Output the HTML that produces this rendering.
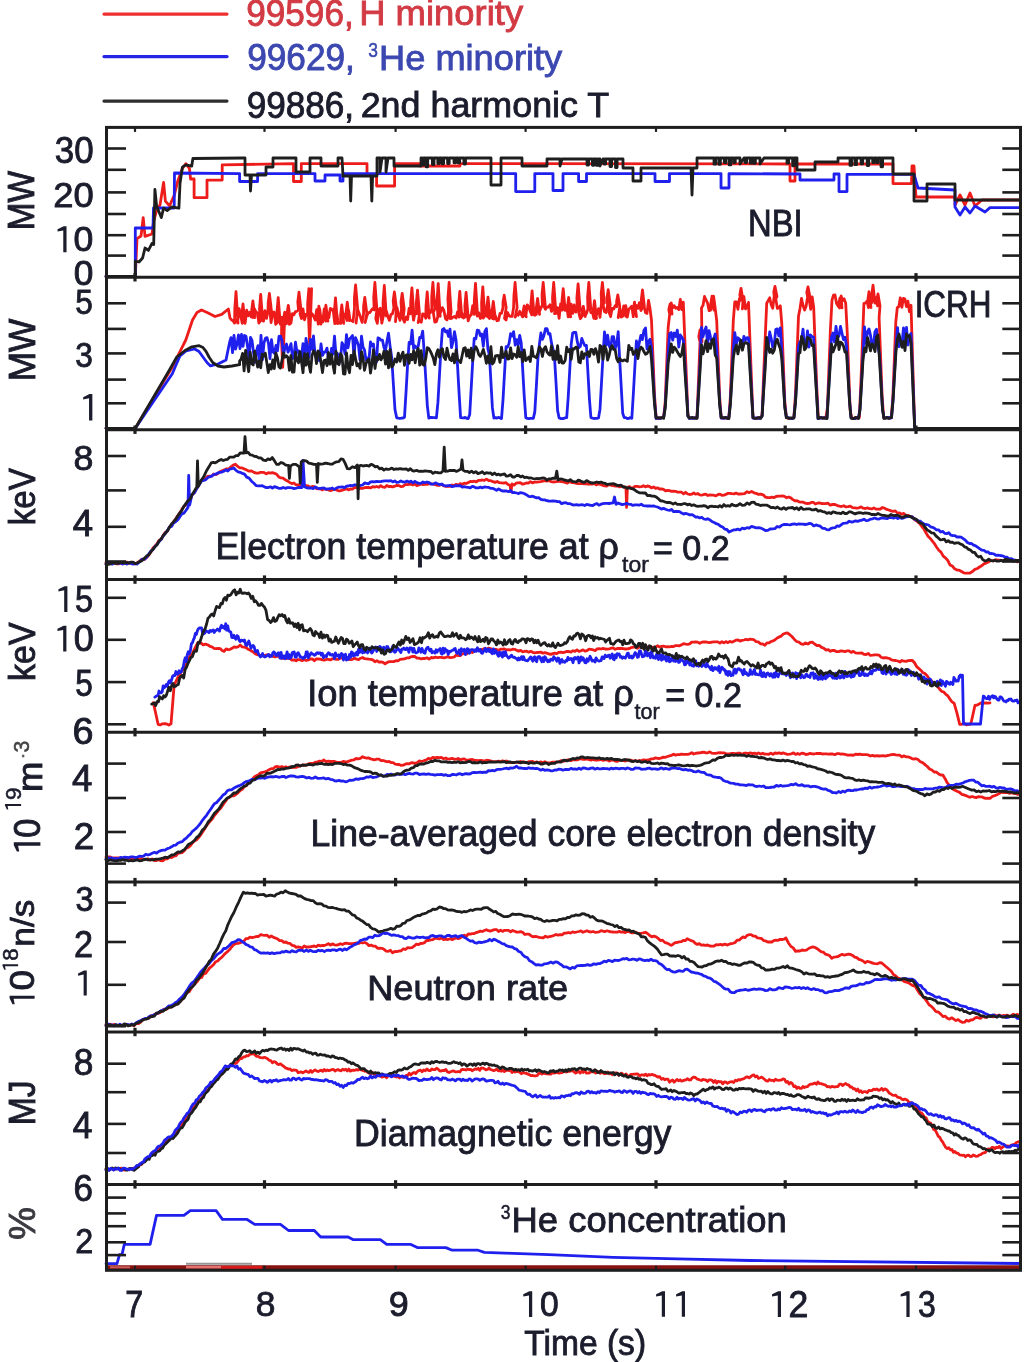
<!DOCTYPE html>
<html><head><meta charset="utf-8"><title>Plasma discharge comparison</title>
<style>
html,body{margin:0;padding:0;background:#fff;}
svg{display:block;filter:blur(0.65px);}
text{font-family:"Liberation Sans",sans-serif;}
</style></head><body>
<svg width="1025" height="1362" viewBox="0 0 1025 1362">
<rect width="1025" height="1362" fill="#fff"/>
<line x1="104" y1="14.1" x2="227" y2="14.1" stroke="#ee3030" stroke-width="3.2" stroke-linecap="round"/>
<line x1="104" y1="56.6" x2="227" y2="56.6" stroke="#2626e6" stroke-width="3.2" stroke-linecap="round"/>
<line x1="104" y1="101.1" x2="227" y2="101.1" stroke="#2e2e2e" stroke-width="3.2" stroke-linecap="round"/>
<text transform="translate(246.18,25.54) scale(0.9662,1)" font-size="36.40" fill="#d23a44" stroke="#d23a44" stroke-width="0.89">99596,</text>
<text transform="translate(359.14,25.35) scale(1.0183,1)" font-size="35.79" fill="#d23a44" stroke="#d23a44" stroke-width="0.87">H minority</text>
<text transform="translate(247.17,70.24) scale(0.9709,1)" font-size="36.27" fill="#3c48b0" stroke="#3c48b0" stroke-width="0.88">99629,</text>
<text transform="translate(368.37,57.14) scale(0.8367,1)" font-size="20.82" fill="#3c48b0" stroke="#3c48b0" stroke-width="0.51">3</text>
<text transform="translate(379.05,70.15) scale(1.0199,1)" font-size="35.51" fill="#3c48b0" stroke="#3c48b0" stroke-width="0.86">He minority</text>
<text transform="translate(246.68,117.74) scale(0.9653,1)" font-size="36.40" fill="#1b1c2c" stroke="#1b1c2c" stroke-width="0.89">99886,</text>
<text transform="translate(360.65,117.45) scale(1.0084,1)" font-size="35.58" fill="#1b1c2c" stroke="#1b1c2c" stroke-width="0.87">2nd harmonic T</text>
<polyline points="106.0,276.5 135.3,276.5 137.0,238.7 141.0,236.0 143.2,217.6 145.0,236.3 152.0,234.0 153.7,221.0 156.6,210.6 160.0,205.0 163.6,182.5 165.4,201.2 169.5,205.9 174.2,195.4 177.7,181.3 182.4,168.4 185.9,163.7 189.4,168.4 190.6,179.0 194.1,179.0 194.1,197.7 207.0,197.7 207.0,180.1 222.2,180.1 222.2,164.9 293.5,163.6 293.5,181.5 301.3,181.5 301.3,163.6 367.0,163.6 367.0,175.0 376.6,175.0 376.6,186.0 394.6,186.0 394.6,163.6 420.0,163.6 420.0,166.0 460.0,166.0 460.0,163.6 790.0,164.0 790.0,181.0 795.0,181.0 795.0,164.0 893.0,164.0 893.0,183.6 911.5,183.6 912.0,166.0 914.0,166.0 916.0,197.0 955.0,197.0 955.0,205.0 960.0,195.0 965.0,205.0 970.0,193.0 975.0,206.0 982.0,200.0 1019.0,200.0" fill="none" stroke="#ee1b1b" stroke-width="2.8" stroke-linejoin="round" stroke-linecap="round"/>
<polyline points="106.0,276.5 135.3,276.5 135.3,228.0 153.0,228.0 153.5,208.0 174.2,208.0 174.5,173.0 239.6,173.6 239.6,181.5 257.6,181.5 257.6,173.6 315.0,173.6 315.0,181.0 325.0,181.0 325.0,175.0 340.0,175.0 340.0,181.0 343.0,181.0 343.0,173.6 515.7,173.6 515.7,191.6 534.8,191.6 534.8,173.6 553.0,173.6 553.0,190.5 563.0,190.5 563.0,173.6 578.6,173.6 578.6,181.5 586.5,181.5 586.5,173.6 655.0,173.6 655.0,181.5 669.5,181.5 669.5,173.6 721.0,173.6 721.0,188.0 729.0,188.0 729.0,173.6 800.0,174.0 800.0,180.0 834.0,180.0 834.0,174.0 839.0,174.0 839.0,191.6 847.0,191.6 847.0,174.4 914.0,174.4 918.0,188.0 955.0,190.0 955.0,207.0 960.0,215.0 965.0,207.0 970.0,213.0 975.0,206.0 985.0,212.0 990.0,207.6 1019.0,207.6" fill="none" stroke="#2020ee" stroke-width="2.8" stroke-linejoin="round" stroke-linecap="round"/>
<polyline points="106.0,276.5 135.3,276.5 135.3,261.0 139.0,262.0 142.6,258.0 145.0,248.0 148.4,250.4 152.0,243.4 153.7,244.5 154.9,189.5 156.6,205.9 161.3,217.6 163.6,208.2 167.2,210.6 171.8,207.0 178.9,208.2 180.0,183.6 182.4,167.2 185.9,164.9 191.7,166.1 192.9,158.5 243.0,158.0 245.0,158.0 245.0,175.0 250.0,175.0 250.5,191.0 251.5,175.0 266.0,175.0 266.0,167.0 273.0,167.0 273.0,158.0 296.0,158.0 296.0,172.0 310.0,172.0 310.0,158.0 321.0,158.0 321.0,166.0 338.0,166.0 338.0,158.0 342.0,158.0 343.0,176.0 350.0,176.0 350.7,201.0 351.5,176.0 371.0,176.0 371.8,201.0 372.6,176.0 377.0,176.0 377.0,158.0 380.0,158.0 380.0,172.0 382.0,158.0 386.0,158.0 386.0,172.0 388.0,158.0 394.0,158.0 394.0,166.0 421.0,166.0 421.0,158.0 422.0,158.0 422.0,165.1 423.6,165.1 423.6,158.0 426.1,158.0 426.1,166.8 427.7,166.8 427.7,158.0 432.4,158.0 432.4,164.6 434.0,164.6 434.0,158.0 437.8,158.0 437.8,163.5 439.4,163.5 439.4,158.0 442.0,158.0 442.0,163.8 443.6,163.8 443.6,158.0 447.6,158.0 447.6,163.5 449.2,163.5 449.2,158.0 454.0,158.0 454.0,162.8 455.6,162.8 455.6,158.0 458.1,158.0 458.1,162.9 459.7,162.9 459.7,158.0 463.9,158.0 463.9,164.1 465.5,164.1 465.5,158.0 491.0,158.0 491.0,185.0 501.0,185.0 501.0,158.0 522.0,158.0 522.0,166.0 547.0,166.0 547.0,159.0 560.0,159.0 560.0,166.0 562.0,159.0 587.0,159.0 587.0,165.0 588.6,165.0 588.6,159.0 592.4,159.0 592.4,165.3 594.0,165.3 594.0,159.0 596.5,159.0 596.5,165.4 598.1,165.4 598.1,159.0 600.0,159.0 600.0,166.0 603.0,159.0 604.0,159.0 604.0,164.0 605.6,164.0 605.6,159.0 610.0,159.0 610.0,166.6 611.6,166.6 611.6,159.0 615.5,159.0 615.5,167.5 617.1,167.5 617.1,159.0 623.0,159.0 623.0,168.0 633.0,168.0 633.0,181.0 641.0,181.0 641.0,168.0 691.0,168.0 692.0,195.0 693.0,168.0 697.0,168.0 697.0,158.0 714.0,158.0 714.0,164.2 715.6,164.2 715.6,158.0 718.8,158.0 718.8,164.3 720.4,164.3 720.4,158.0 724.3,158.0 724.3,162.5 725.9,162.5 725.9,158.0 729.2,158.0 729.2,164.9 730.8,164.9 730.8,158.0 733.7,158.0 733.7,162.6 735.3,162.6 735.3,158.0 740.0,158.0 740.0,164.0 744.0,158.0 745.0,158.0 745.0,162.5 746.6,162.5 746.6,158.0 750.2,158.0 750.2,163.2 751.8,163.2 751.8,158.0 753.8,158.0 753.8,163.3 755.4,163.3 755.4,158.0 760.0,158.0 760.0,164.0 764.0,158.0 787.0,158.0 787.0,163.2 788.6,163.2 788.6,158.0 792.6,158.0 792.6,165.8 794.2,165.8 794.2,158.0 797.0,158.0 797.0,170.0 815.0,170.0 815.0,162.0 838.0,162.0 838.0,158.0 850.0,158.0 850.0,165.4 851.6,165.4 851.6,158.0 854.9,158.0 854.9,164.7 856.5,164.7 856.5,158.0 861.1,158.0 861.1,163.9 862.7,163.9 862.7,158.0 867.2,158.0 867.2,165.6 868.8,165.6 868.8,158.0 872.7,158.0 872.7,162.5 874.3,162.5 874.3,158.0 876.5,158.0 876.5,162.6 878.1,162.6 878.1,158.0 881.0,158.0 881.0,166.8 882.6,166.8 882.6,158.0 893.0,158.0 893.0,174.0 914.0,174.0 914.0,201.0 927.0,201.0 927.0,184.0 955.0,184.0 955.0,200.0 1019.0,200.0" fill="none" stroke="#1e1e1e" stroke-width="2.8" stroke-linejoin="round" stroke-linecap="round"/>
<polyline points="106.0,428.3 135.3,428.3 172.3,367.0 179.0,353.5 185.8,340.0 192.5,320.0 197.0,312.5 201.5,310.0 208.2,313.1 215.0,316.5 221.7,314.3 228.4,309.0 230.0,318.0 231.5,319.9 233.0,320.8 234.6,323.1 234.8,308.9 236.0,291.6 237.4,313.7 238.0,323.1 236.1,319.9 237.6,322.9 239.1,308.6 240.7,315.6 242.2,323.3 241.8,314.6 243.0,304.0 244.4,317.5 245.0,323.3 243.7,318.6 245.2,322.6 246.7,310.1 248.3,315.8 249.8,312.2 251.3,317.0 252.8,317.5 251.7,310.1 252.9,301.0 254.3,312.5 254.9,317.5 254.3,308.6 255.9,311.8 257.4,312.9 258.9,323.1 260.4,320.7 259.5,308.9 260.7,294.4 262.1,312.8 262.7,320.7 262.0,311.0 263.5,321.2 265.0,310.7 266.5,318.4 268.0,310.6 268.2,302.8 269.4,293.4 270.8,305.4 271.4,310.6 269.6,308.6 271.1,322.5 272.6,312.0 274.1,312.1 275.7,324.4 277.2,322.6 277.0,311.4 278.2,297.6 279.6,315.1 280.2,322.6 278.7,313.3 280.2,324.1 281.7,317.4 281.5,339.9 282.7,367.4 284.1,332.4 284.7,317.4 283.3,319.6 284.8,312.1 286.3,323.9 287.8,319.9 287.1,313.3 288.3,305.3 289.7,315.5 290.3,319.9 289.3,324.3 290.9,323.2 292.4,313.7 293.9,314.7 295.4,311.6 297.0,311.3 298.5,310.0 297.8,302.0 299.0,292.2 300.4,304.7 301.0,310.0 300.0,313.8 301.5,318.6 303.0,309.0 304.5,319.8 306.1,314.3 307.6,313.8 307.7,302.5 308.9,288.6 308.4,313.4 309.6,343.6 311.0,305.1 311.6,288.6 310.3,306.3 310.9,313.8 309.1,321.9 310.6,316.5 312.1,313.8 313.6,316.4 315.2,320.0 316.7,309.6 318.2,324.2 317.7,316.1 318.9,306.2 320.3,318.8 320.9,324.2 319.7,309.0 321.2,320.6 322.7,322.1 324.2,308.8 325.8,321.1 324.7,313.9 325.9,305.2 327.3,316.3 327.9,321.1 327.3,314.3 328.8,317.7 330.3,308.5 331.8,309.1 333.3,311.2 334.8,323.6 334.3,312.0 335.5,297.8 336.9,315.9 337.5,323.6 336.4,311.4 337.9,320.3 339.4,323.1 340.9,323.3 340.6,315.1 341.8,305.0 343.2,317.8 343.8,323.3 342.4,313.7 343.9,313.8 345.5,316.5 347.0,320.5 346.1,312.2 347.3,302.1 348.7,314.9 349.3,320.5 348.5,309.8 350.0,320.0 351.5,320.7 353.0,321.7 354.5,308.5 354.4,297.9 355.6,284.9 357.0,301.4 357.6,308.5 356.1,323.0 357.6,309.3 359.1,313.3 360.6,317.6 362.1,322.4 363.6,313.2 363.6,306.1 364.8,297.5 366.2,308.5 366.8,313.2 365.2,322.5 366.7,316.4 368.2,312.6 369.7,312.7 371.2,310.4 372.7,308.8 374.2,309.9 373.7,297.6 374.9,282.5 376.3,301.7 376.9,309.9 375.8,318.5 377.3,323.4 378.8,310.0 380.3,308.2 381.8,323.2 383.3,315.9 383.1,302.2 384.3,285.5 385.7,306.8 386.3,315.9 384.8,313.8 386.4,311.1 387.9,316.7 389.4,320.4 390.9,314.5 392.4,313.9 393.9,308.0 393.2,300.8 394.4,291.9 395.8,303.2 396.4,308.0 395.5,321.7 397.0,307.6 398.5,314.9 400.0,320.4 401.5,309.1 401.0,302.0 402.2,293.3 403.6,304.3 404.2,309.1 403.0,318.6 404.5,322.1 406.1,317.0 407.6,319.5 409.1,308.5 410.6,313.7 410.7,302.1 411.9,287.9 413.3,306.0 413.9,313.7 412.1,309.1 413.6,320.2 415.2,311.4 416.7,313.9 416.3,303.2 417.5,290.1 418.9,306.8 419.5,313.9 418.2,322.6 419.7,320.2 421.2,322.2 422.7,313.8 424.2,314.3 425.8,318.2 426.0,306.4 427.2,292.0 428.6,310.3 429.2,318.2 427.3,314.1 428.8,311.1 430.3,312.9 431.8,308.7 431.7,296.9 432.9,282.5 434.3,300.8 434.9,308.7 433.3,312.4 434.8,322.1 436.4,321.6 437.9,316.3 437.0,301.6 438.2,283.7 439.6,306.5 440.2,316.3 439.4,314.2 440.9,311.6 442.4,307.6 443.9,310.5 445.5,318.6 447.0,319.9 448.5,311.8 447.9,298.6 449.1,282.5 450.5,303.0 451.1,311.8 450.0,318.6 451.5,318.4 453.0,317.1 454.5,316.5 456.1,318.0 457.6,311.7 459.1,317.1 458.6,305.5 459.8,291.4 461.2,309.4 461.8,317.1 460.6,310.3 462.1,313.5 463.6,318.0 465.2,316.8 464.9,305.8 466.1,292.4 467.5,309.4 468.1,316.8 466.7,310.4 468.2,320.8 469.7,316.0 471.2,314.9 472.7,305.7 474.2,314.3 474.3,300.4 475.5,283.4 476.9,305.0 477.5,314.3 475.8,309.5 477.3,316.2 478.8,312.8 480.3,318.5 481.8,315.7 481.6,302.7 482.8,286.8 484.2,307.0 484.8,315.7 483.3,318.1 484.8,310.9 486.4,315.6 487.9,317.0 486.8,308.1 488.0,297.1 489.4,311.1 490.0,317.0 489.4,318.5 490.9,310.8 492.4,318.6 492.1,310.9 493.3,301.5 494.7,313.5 495.3,318.6 493.9,319.0 495.5,316.1 497.0,320.7 498.5,320.3 500.0,313.3 501.5,313.4 503.0,307.6 503.0,302.0 504.2,295.2 505.6,303.9 506.2,307.6 504.5,318.3 506.1,319.9 507.6,312.5 509.1,315.9 510.6,316.3 512.1,316.4 513.6,307.5 513.9,296.2 515.1,282.5 516.5,300.0 517.1,307.5 515.2,317.2 516.7,314.0 518.2,315.3 519.7,311.3 521.2,314.6 522.7,316.9 523.0,311.9 524.2,305.8 525.6,313.6 526.2,316.9 524.2,314.7 525.8,316.0 527.3,304.9 528.8,307.0 530.3,311.5 531.8,314.8 530.9,304.0 532.1,290.9 533.5,307.6 534.1,314.8 533.3,307.8 534.8,315.3 536.4,314.4 536.4,307.2 537.6,298.4 539.0,309.6 539.6,314.4 537.9,304.9 539.4,311.8 540.9,307.8 542.4,305.0 542.0,294.9 543.2,282.5 544.6,298.3 545.2,305.0 543.9,306.3 545.5,309.2 547.0,307.0 548.5,307.1 550.0,304.6 551.5,311.4 553.0,310.0 552.5,297.6 553.7,282.5 555.1,301.8 555.7,310.0 554.5,313.7 556.1,313.3 557.6,307.7 559.1,318.3 560.6,303.8 562.1,310.2 562.0,300.6 563.2,288.7 564.6,303.8 565.2,310.2 563.6,308.2 565.2,310.3 566.7,305.5 568.2,316.9 567.4,308.1 568.6,297.3 570.0,311.0 570.6,316.9 569.7,309.6 571.2,304.2 572.7,313.4 574.2,305.0 575.8,312.2 577.3,308.9 576.9,297.6 578.1,283.8 579.5,301.3 580.1,308.9 578.8,312.7 580.3,318.7 581.8,316.5 582.1,311.9 583.3,306.3 584.7,313.4 585.3,316.5 583.3,310.0 584.8,316.3 586.4,313.5 587.9,309.2 587.6,297.2 588.8,282.5 590.2,301.2 590.8,309.2 589.4,305.5 590.9,312.7 592.4,312.2 593.9,318.4 593.3,310.4 594.5,300.6 595.9,313.1 596.5,318.4 595.5,318.6 597.0,312.8 598.5,308.6 600.0,317.3 601.5,302.9 601.2,293.7 602.4,282.5 603.8,296.8 604.4,302.9 603.0,304.5 604.5,311.8 606.1,312.5 607.6,304.8 607.0,297.9 608.2,289.6 609.6,300.2 610.2,304.8 609.1,312.5 610.6,316.6 612.1,308.3 613.6,309.1 615.2,305.7 616.7,306.7 616.6,301.4 617.8,294.9 619.2,303.1 619.8,306.7 618.2,317.5 619.7,307.9 621.2,317.1 622.7,316.3 622.6,311.5 623.8,305.8 625.2,313.1 625.8,316.3 624.2,311.1 625.8,305.6 627.3,317.1 628.8,309.2 630.3,307.8 631.8,306.2 633.3,316.7 633.3,310.1 634.5,302.1 635.9,312.3 636.5,316.7 634.8,308.8 636.4,305.4 637.9,308.4 639.4,302.6 640.9,310.5 642.4,307.6 641.3,299.6 642.5,290.0 643.9,302.3 644.5,307.6 643.9,305.1 645.5,312.8 647.0,313.4 648.5,300.3 650.0,308.5 651.5,320.5 653.0,357.5 654.5,394.6 656.1,417.7 657.6,418.5 659.1,418.3 660.6,417.7 662.1,417.7 663.6,417.6 665.2,401.9 666.7,364.4 668.2,326.8 669.7,314.2 668.8,309.7 670.0,304.2 671.4,311.2 672.0,314.2 671.2,303.0 672.7,307.9 674.2,305.7 675.8,308.3 677.3,307.5 678.8,309.6 680.3,299.5 681.8,309.6 683.3,302.1 684.8,339.0 686.4,376.9 687.9,415.0 689.4,418.0 690.9,417.8 692.4,417.8 693.9,418.0 695.5,418.0 697.0,417.8 698.5,380.4 700.0,342.0 698.8,336.6 700.0,330.0 701.4,338.4 702.0,342.0 701.5,307.9 703.0,305.4 704.5,296.5 706.1,300.0 707.6,303.2 709.1,310.6 710.6,310.1 710.8,303.8 712.0,296.1 713.4,305.9 714.0,310.1 712.1,304.6 713.6,296.1 715.2,308.3 716.7,320.7 718.2,359.2 719.7,397.6 721.2,417.9 722.7,418.1 724.2,418.2 725.8,418.2 727.3,418.0 728.8,418.5 730.3,397.6 731.8,359.1 733.3,320.6 734.8,301.8 736.4,301.9 737.9,309.3 739.4,298.7 740.9,300.3 739.8,294.9 741.0,288.3 742.4,296.7 743.0,300.3 742.4,308.9 743.9,296.6 745.5,308.9 747.0,306.6 748.5,302.4 750.0,341.7 751.5,380.2 753.0,417.7 754.5,418.3 756.1,418.5 757.6,417.6 759.1,418.0 760.6,418.1 762.1,414.9 763.6,376.3 765.2,337.7 766.7,303.3 768.2,300.6 769.7,297.8 771.2,304.7 772.7,308.3 774.2,296.4 773.8,291.9 775.0,286.4 776.4,293.4 777.0,296.4 775.8,298.9 777.3,308.3 778.8,307.9 780.3,305.8 781.8,324.1 783.3,362.7 784.8,401.4 786.4,417.4 787.9,418.3 789.4,418.6 790.9,418.6 792.4,418.2 793.9,417.5 795.5,393.6 797.0,354.9 798.5,316.2 800.0,308.5 801.5,298.5 803.0,305.2 804.6,310.1 806.1,306.2 807.6,296.9 806.8,292.4 808.0,286.9 809.4,293.9 810.0,296.9 809.1,299.4 810.7,309.4 812.2,297.0 813.7,307.6 815.2,346.6 816.7,385.6 818.3,418.1 819.8,417.9 821.3,417.6 822.8,418.1 824.3,417.5 825.9,417.5 827.4,407.9 828.9,368.8 830.4,329.6 832.0,300.2 833.5,295.2 835.0,294.9 836.5,303.2 838.0,305.8 839.6,307.9 838.8,303.4 840.0,297.9 841.4,304.9 842.0,307.9 841.1,296.0 842.6,300.7 844.1,298.8 845.7,303.3 847.2,332.0 848.7,371.3 850.2,410.7 851.7,418.0 853.3,418.5 854.8,417.8 856.3,417.5 857.8,418.2 859.3,417.6 860.9,382.5 862.4,343.0 863.9,303.4 865.4,303.2 867.0,301.2 868.5,307.6 867.8,300.4 869.0,291.6 870.4,302.8 871.0,307.6 870.0,301.9 871.5,303.1 871.8,295.0 873.0,285.1 874.4,297.7 875.0,303.1 873.0,297.6 874.6,302.3 876.1,297.8 877.6,305.9 876.8,300.5 878.0,293.9 879.4,302.3 880.0,305.9 879.1,317.6 880.6,356.8 882.1,395.9 883.7,418.0 885.2,417.6 886.7,417.7 888.2,417.8 889.7,418.3 891.2,417.6 892.8,398.7 894.3,360.2 895.8,321.8 897.3,307.5 898.8,306.8 900.3,297.8 901.9,307.3 903.4,298.3 904.9,299.0 906.4,306.6 907.9,301.1 909.4,311.5 911.0,305.3 914.7,428.3 1020.0,428.3" fill="none" stroke="#ee1b1b" stroke-width="2.8" stroke-linejoin="round" stroke-linecap="round"/>
<polyline points="106.0,428.3 135.3,428.3 172.3,373.7 176.0,365.0 180.0,356.0 186.0,351.0 194.7,349.0 199.0,351.5 203.7,358.0 207.0,362.5 210.5,365.9 218.0,364.0 226.0,360.0 229.5,342.7 231.0,337.6 232.5,352.6 234.0,335.3 235.5,349.2 237.0,344.2 238.5,335.0 240.0,348.5 241.5,334.5 243.0,346.4 244.5,335.5 246.0,336.2 247.5,346.2 249.0,358.4 250.5,337.3 252.0,340.3 253.5,352.5 255.0,362.2 256.5,351.1 258.0,345.7 259.5,363.1 261.0,335.3 262.5,359.7 264.0,342.7 265.5,338.3 267.0,337.6 268.5,343.4 270.0,358.6 271.5,339.6 273.0,351.7 274.5,353.4 276.0,345.5 277.5,350.8 279.0,336.3 280.5,336.2 282.0,340.7 283.5,354.9 285.0,347.4 286.5,344.0 288.0,352.2 289.5,348.3 291.0,343.7 292.5,358.6 294.0,355.8 295.5,342.2 297.0,352.1 298.5,350.7 300.0,361.3 301.5,356.9 303.0,343.6 304.5,364.3 306.0,338.4 307.5,347.4 309.0,357.5 310.5,339.3 312.0,349.4 313.5,335.9 315.0,354.7 316.5,357.6 318.0,351.8 319.5,360.8 321.0,343.9 322.5,355.4 324.0,352.3 325.5,351.8 327.0,348.1 328.5,359.6 330.0,362.7 331.5,348.5 333.0,354.2 334.5,336.1 336.0,355.2 337.5,353.6 339.0,363.9 340.5,358.8 342.0,342.6 343.5,345.6 345.0,354.1 346.5,334.6 348.0,347.8 349.5,338.9 351.0,337.4 352.5,335.6 354.0,356.8 355.5,337.6 357.0,341.2 358.5,345.4 360.0,359.8 361.5,336.1 363.0,347.1 364.5,350.0 366.0,360.0 367.5,358.1 369.0,359.4 370.5,341.8 372.0,345.9 373.5,344.1 375.0,359.9 376.5,362.0 378.0,337.8 379.5,338.5 381.0,340.2 382.5,340.2 384.0,347.7 385.5,350.8 387.0,340.9 388.5,333.2 390.0,345.6 391.7,357.2 393.3,383.0 395.0,409.8 396.7,417.8 398.3,418.1 400.0,418.5 401.5,418.2 403.0,418.0 404.5,417.2 406.1,390.9 407.6,364.6 409.1,342.5 410.6,343.8 412.1,330.1 413.6,348.7 415.2,346.0 416.7,348.1 418.2,346.4 419.7,337.4 421.2,337.6 422.7,331.1 424.2,352.7 425.8,379.0 427.3,405.3 428.8,418.2 430.3,417.5 431.8,417.5 433.3,417.7 434.8,417.6 436.4,417.8 437.9,402.7 439.4,376.3 440.9,349.9 442.4,329.7 443.9,328.6 445.5,331.9 447.0,330.8 448.5,336.5 450.0,329.1 451.5,347.7 453.0,342.0 454.5,331.7 456.1,340.5 457.6,366.9 459.1,393.4 460.6,417.7 462.1,417.8 463.6,417.8 465.2,417.5 466.7,418.4 468.2,418.6 469.7,414.6 471.2,388.1 472.7,361.5 474.2,338.5 475.8,338.9 477.3,330.1 478.8,330.5 480.3,335.7 481.8,334.0 483.3,346.4 484.8,331.7 486.4,328.6 487.9,349.0 489.4,354.8 490.9,381.3 492.4,407.9 493.9,418.0 495.5,417.6 497.0,418.1 498.5,417.4 500.0,418.0 501.5,418.6 503.0,399.9 504.5,373.3 506.1,346.7 507.6,347.0 509.1,343.3 510.6,333.7 512.1,336.1 513.6,331.7 515.2,345.0 516.7,339.7 518.2,345.1 519.7,335.3 521.2,342.7 522.7,369.3 524.2,395.9 525.8,417.7 527.3,418.4 528.8,418.6 530.3,418.4 531.8,418.4 533.3,418.4 534.8,411.9 536.4,385.3 537.9,358.7 539.4,344.3 540.9,333.0 542.4,339.4 543.9,335.8 545.5,328.6 547.0,328.6 548.5,334.1 550.0,333.7 551.5,343.2 553.0,349.0 554.5,357.4 556.1,384.0 557.6,410.6 559.1,417.9 560.6,418.5 562.1,418.6 563.6,418.5 565.2,417.8 566.7,417.7 568.2,397.3 569.7,370.7 571.2,344.1 572.7,333.0 574.2,332.3 575.8,332.5 577.3,341.7 578.8,347.8 580.3,346.5 581.8,338.5 583.3,342.4 584.8,345.6 586.4,345.4 587.9,372.0 589.4,398.6 590.9,417.5 592.4,418.2 593.9,418.5 595.5,418.3 597.0,418.3 598.5,418.0 600.0,409.2 601.5,382.6 603.0,356.0 604.5,331.9 606.1,345.3 607.6,335.2 609.1,345.5 610.6,349.3 612.1,336.6 613.6,336.7 615.2,348.7 616.7,343.8 618.2,331.6 619.7,359.9 621.2,386.5 622.7,413.2 624.2,417.6 625.8,417.6 627.3,418.5 628.8,418.4 630.3,417.6 631.8,418.4 633.3,394.5 634.8,367.8 636.4,341.0 637.9,349.2 639.4,342.1 640.9,335.3 642.4,339.6 643.9,330.4 645.5,327.9 647.0,348.9 648.5,341.8 650.0,339.1 651.5,347.6 653.0,374.4 654.5,401.1 656.1,418.5 657.6,417.9 659.1,418.4 660.6,418.4 662.1,417.7 663.6,417.7 665.2,406.5 666.7,379.6 668.2,352.8 669.7,333.7 671.2,332.6 672.7,340.2 674.2,333.0 675.8,336.5 677.3,330.1 678.8,347.2 680.3,335.0 681.8,337.3 683.3,340.0 684.8,362.1 686.4,389.0 687.9,415.8 689.4,418.5 690.9,417.9 692.4,418.5 693.9,418.0 695.5,418.0 697.0,418.0 698.5,391.6 700.0,364.7 701.5,327.4 703.0,336.7 704.5,331.0 706.1,327.0 707.6,344.5 709.1,330.7 710.6,337.3 712.1,342.8 713.6,339.1 715.2,334.0 716.7,349.7 718.2,376.7 719.7,403.7 721.2,418.0 722.7,418.1 724.2,418.3 725.8,417.5 727.3,418.1 728.8,417.7 730.3,403.7 731.8,376.6 733.3,349.6 734.8,332.7 736.4,343.6 737.9,337.8 739.4,339.0 740.9,343.3 742.4,346.7 743.9,336.3 745.5,340.0 747.0,337.7 748.5,337.8 750.0,364.3 751.5,391.4 753.0,418.2 754.5,417.9 756.1,418.0 757.6,418.0 759.1,418.5 760.6,418.2 762.1,415.8 763.6,388.7 765.2,361.5 766.7,345.6 768.2,347.0 769.7,332.0 771.2,338.6 772.7,347.0 774.2,344.7 775.8,329.3 777.3,328.9 778.8,335.9 780.3,327.8 781.8,351.9 783.3,379.1 784.8,406.3 786.4,417.7 787.9,417.5 789.4,418.2 790.9,418.3 792.4,418.5 793.9,417.6 795.5,400.8 797.0,373.6 798.5,346.3 800.0,341.8 801.5,340.5 803.0,329.1 804.5,345.4 806.0,347.3 807.5,330.8 809.0,347.0 810.5,334.8 812.0,336.7 813.5,337.0 815.0,364.0 816.5,391.0 818.0,418.6 819.5,418.4 821.0,417.6 822.5,417.9 824.0,418.0 825.5,417.8 827.0,417.6 828.5,391.0 830.0,364.0 831.5,337.0 833.0,333.0 834.5,341.9 836.0,326.4 837.5,338.2 839.0,335.7 840.5,326.4 842.0,333.3 843.5,339.7 845.0,337.3 846.5,346.0 848.0,373.0 849.5,400.0 851.0,417.5 852.5,418.6 854.0,418.3 855.5,418.6 857.0,417.5 858.5,417.7 860.0,409.0 861.5,382.0 863.0,355.0 864.5,326.9 866.0,343.1 867.5,331.9 869.0,328.9 870.5,335.3 872.0,346.1 873.5,344.0 875.0,331.7 876.5,329.3 878.0,346.2 879.5,355.0 881.0,382.0 882.5,409.0 884.0,418.1 885.5,418.2 887.0,417.5 888.5,417.5 890.0,418.2 891.5,417.9 893.0,400.0 894.5,373.0 896.0,346.0 897.5,327.6 899.0,346.6 900.5,340.0 902.0,343.6 903.5,327.8 905.0,344.8 906.5,327.5 908.0,345.0 909.5,336.0 911.0,333.5 914.7,428.3 1020.0,428.3" fill="none" stroke="#2020ee" stroke-width="2.8" stroke-linejoin="round" stroke-linecap="round"/>
<polyline points="106.0,428.3 135.3,428.3 170.0,369.0 176.8,357.0 185.0,350.5 192.0,346.8 199.2,345.7 203.0,347.5 206.0,351.3 209.0,357.0 212.7,362.5 218.0,366.0 224.0,367.0 232.0,366.0 239.6,364.7 239.6,361.1 241.1,359.0 242.6,353.4 244.1,370.9 245.6,350.3 247.2,362.2 248.7,371.7 250.2,352.1 251.7,363.5 253.2,365.0 254.7,351.2 256.2,359.4 257.7,367.2 259.2,361.2 260.7,367.8 262.2,354.1 263.8,356.1 265.3,353.1 266.8,362.6 268.3,372.6 269.8,364.7 271.3,369.1 272.8,359.8 274.3,368.5 275.8,353.0 277.4,357.6 278.9,366.8 280.4,368.1 281.9,360.8 283.4,352.8 284.9,357.2 286.4,355.8 287.9,357.5 289.4,370.3 290.9,355.6 292.4,372.1 294.0,372.0 295.5,352.2 297.0,360.0 298.5,362.8 300.0,351.6 301.5,361.2 303.0,372.7 304.5,353.6 306.0,365.2 307.5,353.7 309.0,364.7 310.5,372.3 312.0,355.6 313.5,350.9 315.0,352.7 316.5,363.6 318.0,351.0 319.5,352.6 321.0,362.5 322.5,372.6 324.0,360.5 325.5,360.0 327.0,365.7 328.5,352.6 330.0,364.2 331.5,354.4 333.0,364.9 334.5,373.2 336.0,351.5 337.5,363.5 339.0,364.7 340.5,353.7 342.0,356.5 343.5,373.9 345.0,374.0 346.5,352.9 348.0,366.9 349.5,372.7 351.0,355.5 352.5,364.5 354.0,350.8 355.5,358.5 357.0,365.9 358.5,363.9 360.0,368.3 361.5,351.7 363.0,357.9 364.5,370.3 366.0,363.6 367.5,360.3 369.0,359.1 370.5,373.1 372.0,363.2 373.5,349.8 375.0,368.5 376.5,357.2 378.0,359.7 379.5,354.4 381.0,359.9 382.5,357.0 384.0,351.3 385.5,364.2 387.0,351.5 388.5,367.9 390.0,349.6 391.7,367.1 393.3,365.2 395.0,359.0 396.7,362.1 398.3,353.1 400.0,361.3 401.5,355.6 403.0,352.1 404.5,365.3 406.1,355.1 407.6,354.6 409.1,363.3 410.6,354.4 412.1,359.8 413.6,350.8 415.2,362.9 416.7,352.3 418.2,348.5 419.7,365.2 421.2,350.7 422.7,364.6 424.2,365.3 425.8,358.4 427.3,347.7 428.8,348.5 430.3,351.1 431.8,354.4 433.3,358.3 434.8,364.7 436.4,353.7 437.9,349.8 439.4,357.3 440.9,349.7 442.4,348.7 443.9,357.1 445.5,359.6 447.0,348.2 448.5,355.2 450.0,359.7 451.5,360.7 453.0,353.8 454.5,362.9 456.1,349.9 457.6,359.7 459.1,360.7 460.6,362.6 462.1,355.7 463.6,348.5 465.2,347.6 466.7,356.2 468.2,349.8 469.7,357.9 471.2,348.1 472.7,360.6 474.2,350.5 475.8,346.7 477.3,349.6 478.8,354.6 480.3,356.5 481.8,353.4 483.3,349.4 484.8,355.0 486.4,363.3 487.9,355.9 489.4,363.2 490.9,346.7 492.4,364.0 493.9,362.1 495.5,355.9 497.0,355.5 498.5,355.7 500.0,362.4 501.5,347.2 503.0,357.5 504.5,355.7 506.1,351.3 507.6,359.0 509.1,358.9 510.6,347.8 512.1,358.5 513.6,354.0 515.2,354.7 516.7,357.3 518.2,346.8 519.7,356.7 521.2,352.5 522.7,361.6 524.2,349.9 525.8,360.6 527.3,358.9 528.8,357.0 530.3,361.5 531.8,346.3 533.3,356.4 534.8,356.7 536.4,357.8 537.9,352.9 539.4,346.8 540.9,349.0 542.4,356.5 543.9,348.8 545.5,346.7 547.0,351.9 548.5,354.0 550.0,355.1 551.5,346.0 553.0,359.4 554.5,351.5 556.1,359.5 557.6,345.6 559.1,362.6 560.6,356.0 562.1,363.0 563.6,363.1 565.2,360.3 566.7,347.2 568.2,351.6 569.7,349.5 571.2,359.3 572.7,348.7 574.2,349.2 575.8,347.2 577.3,347.4 578.8,362.1 580.3,362.8 581.8,351.9 583.3,358.5 584.8,353.6 586.4,354.5 587.9,351.8 589.4,356.5 590.9,349.3 592.4,349.7 593.9,354.4 595.5,348.6 597.0,352.9 598.5,362.0 600.0,345.4 601.5,346.8 603.0,359.3 604.5,345.9 606.1,349.3 607.6,360.0 609.1,355.5 610.6,348.5 612.1,345.6 613.6,349.4 615.2,349.8 616.7,358.7 618.2,361.8 619.7,358.4 621.2,360.4 622.7,360.8 624.2,359.8 625.8,360.5 627.3,361.3 628.8,345.5 630.3,349.5 631.8,348.2 633.3,354.5 634.8,352.5 636.4,349.8 637.9,358.6 639.4,350.6 640.9,347.1 642.4,348.3 643.9,351.6 645.5,354.2 647.0,353.4 648.5,351.0 650.0,346.4 651.5,359.4 653.0,381.6 654.5,403.9 656.1,417.9 657.6,417.8 659.1,417.6 660.6,418.1 662.1,417.6 663.6,418.3 665.2,408.3 666.7,385.6 668.2,362.8 669.7,353.3 671.2,343.8 672.7,352.4 674.2,347.1 675.8,349.0 677.3,351.7 678.8,354.4 680.3,356.5 681.8,353.7 683.3,344.1 684.8,369.8 686.4,392.9 687.9,416.1 689.4,418.1 690.9,417.8 692.4,417.4 693.9,418.1 695.5,418.0 697.0,418.4 698.5,394.9 700.0,371.3 701.5,344.8 703.0,353.9 704.5,348.1 706.1,340.6 707.6,351.7 709.1,343.9 710.6,348.3 712.1,339.9 713.6,338.8 715.2,355.1 716.7,357.9 718.2,381.7 719.7,405.4 721.2,417.5 722.7,417.6 724.2,417.6 725.8,417.5 727.3,418.4 728.8,418.6 730.3,405.3 731.8,381.4 733.3,357.5 734.8,349.6 736.4,345.0 737.9,353.9 739.4,346.9 740.9,340.2 742.4,350.2 743.9,344.1 745.5,342.5 747.0,343.4 748.5,344.5 750.0,370.3 751.5,394.4 753.0,417.6 754.5,418.1 756.1,418.4 757.6,418.1 759.1,417.4 760.6,418.2 762.1,416.1 763.6,391.9 765.2,367.6 766.7,337.4 768.2,345.6 769.7,352.5 771.2,349.1 772.7,353.2 774.2,350.4 775.8,341.6 777.3,339.3 778.8,344.8 780.3,348.8 781.8,358.7 783.3,383.1 784.8,407.5 786.4,417.7 787.9,417.8 789.4,418.3 790.9,417.8 792.4,418.1 793.9,418.1 795.5,402.5 797.0,378.0 798.5,353.4 800.0,352.7 801.5,336.4 803.0,339.3 804.5,349.9 806.0,347.9 807.5,337.5 809.0,338.2 810.5,339.5 812.0,345.5 813.5,344.6 815.0,369.1 816.5,393.5 818.0,418.5 819.5,417.7 821.0,417.6 822.5,418.2 824.0,417.9 825.5,418.4 827.0,418.6 828.5,393.4 830.0,368.8 831.5,344.2 833.0,352.0 834.5,348.0 836.0,344.0 837.5,336.1 839.0,349.5 840.5,342.1 842.0,343.2 843.5,346.2 845.0,352.2 846.5,352.0 848.0,376.7 849.5,401.5 851.0,418.1 852.5,418.5 854.0,418.6 855.5,417.5 857.0,417.8 858.5,418.5 860.0,409.7 861.5,384.8 863.0,359.9 864.5,348.1 866.0,351.7 867.5,337.6 869.0,343.7 870.5,350.9 872.0,343.8 873.5,346.1 875.0,351.6 876.5,337.1 878.0,335.0 879.5,359.6 881.0,384.6 882.5,409.6 884.0,418.4 885.5,418.1 887.0,417.6 888.5,418.4 890.0,417.7 891.5,417.6 893.0,401.2 894.5,376.1 896.0,350.9 897.5,338.8 899.0,334.0 900.5,340.7 902.0,347.3 903.5,341.4 905.0,350.6 906.5,334.0 908.0,336.3 909.5,335.7 911.0,343.4 914.7,428.3 1020.0,428.3" fill="none" stroke="#1e1e1e" stroke-width="2.8" stroke-linejoin="round" stroke-linecap="round"/>
<polyline points="106.0,562.5 108.1,563.6 110.2,563.5 112.2,563.2 114.3,562.6 116.4,563.8 118.5,563.8 120.6,563.2 122.6,563.2 124.7,562.7 126.8,562.2 128.9,562.9 131.0,563.4 133.0,562.3 135.1,563.8 137.2,562.7 139.6,561.1 142.1,559.1 144.5,559.4 146.9,557.3 148.9,554.9 151.0,551.8 153.0,548.0 155.1,545.9 157.1,543.6 159.2,540.2 161.2,539.2 163.3,535.4 165.3,532.4 167.4,531.1 169.4,527.0 171.5,525.7 173.5,521.9 175.6,519.1 177.6,515.8 179.7,513.1 181.7,509.6 183.8,506.4 185.8,505.1 187.9,500.9 189.9,499.1 192.0,495.0 194.4,492.5 196.8,488.3 199.2,484.0 201.6,480.0 203.6,478.8 205.6,478.3 207.6,476.3 209.6,476.2 211.7,476.1 213.7,474.0 215.7,474.7 217.7,473.8 219.9,471.8 222.1,470.7 224.3,469.9 226.6,468.8 228.8,469.0 231.0,466.8 233.2,465.1 235.4,464.2 237.7,466.4 239.9,467.9 242.2,467.9 244.4,468.9 246.7,470.0 249.1,471.2 251.5,470.9 253.9,472.4 256.3,473.1 258.3,473.2 260.3,472.4 262.3,472.3 264.4,472.7 266.4,473.9 268.4,472.7 270.4,473.2 272.4,472.6 274.5,473.3 276.7,474.3 278.8,476.9 281.0,477.9 283.1,478.1 285.3,479.8 287.4,480.9 289.6,482.4 291.7,483.6 293.8,483.0 295.8,484.6 297.9,485.0 299.9,484.7 302.0,485.7 304.0,485.4 306.1,485.6 308.1,485.8 310.2,487.5 312.2,486.5 314.3,486.7 316.3,488.6 318.3,488.9 320.3,488.8 322.4,489.9 324.4,488.7 326.4,489.5 328.4,490.0 330.4,490.6 332.4,489.9 334.4,489.5 336.4,489.9 338.4,490.8 340.5,490.8 342.5,490.1 344.5,489.4 346.5,488.7 348.5,489.9 350.5,488.9 352.5,489.1 354.6,487.5 356.6,487.6 358.6,488.7 360.6,488.4 362.6,488.4 364.6,487.7 366.6,487.3 368.6,487.5 370.7,487.9 372.7,486.7 374.7,487.1 376.7,486.5 378.7,487.3 380.7,485.7 382.7,487.0 384.7,487.4 386.8,485.4 388.8,486.5 390.8,486.5 392.8,486.8 394.8,486.2 396.8,485.4 398.8,485.6 400.8,486.6 402.9,486.4 404.9,484.7 406.9,484.6 408.9,484.4 410.9,484.2 412.9,484.9 414.9,484.2 416.9,485.6 418.9,485.0 421.0,483.9 423.0,484.6 425.0,484.1 427.0,484.3 429.1,483.9 431.2,483.9 433.3,484.1 435.4,484.6 437.5,485.4 439.6,485.3 441.7,484.4 443.8,485.9 445.9,486.3 448.0,486.3 450.1,486.4 452.2,485.0 454.2,485.5 456.2,484.3 458.2,485.3 460.2,483.7 462.3,484.4 464.3,483.1 466.3,483.5 468.3,482.4 470.3,481.4 472.3,481.7 474.3,481.2 476.3,481.9 478.4,480.3 480.4,480.3 482.4,480.0 484.4,480.4 486.5,479.1 488.7,480.5 490.8,480.7 493.0,481.6 495.1,482.4 497.2,481.5 499.4,482.7 501.5,482.8 503.7,483.2 505.8,482.6 508.0,484.5 510.1,485.3 511.0,491.7 512.0,483.9 514.0,485.1 516.1,483.2 518.1,482.9 520.2,482.7 522.2,484.0 524.3,483.8 526.3,483.0 528.4,483.1 530.4,481.7 532.4,482.8 534.5,482.2 536.5,482.2 538.6,481.8 540.6,481.6 542.7,481.1 544.7,480.6 546.8,481.1 548.8,480.6 550.9,481.6 552.9,482.0 555.0,481.9 557.0,481.5 559.1,481.2 561.2,481.6 563.2,482.0 565.3,482.4 567.3,483.2 569.4,481.6 571.5,482.5 573.5,482.6 575.6,483.2 577.6,483.7 579.7,483.6 581.8,483.4 583.8,483.8 585.9,483.7 587.9,484.2 590.0,484.1 592.1,484.2 594.1,483.4 596.2,484.9 598.2,483.9 600.3,484.5 602.4,485.2 604.6,485.8 606.7,486.1 608.9,484.4 611.0,485.3 613.1,485.6 615.3,486.0 617.4,485.8 619.6,486.9 621.7,486.2 623.9,486.9 626.0,488.5 626.6,507.4 627.4,487.5 629.4,486.6 631.4,488.2 633.4,487.5 635.4,486.3 637.4,486.4 639.4,486.8 641.4,486.7 643.4,485.7 645.4,486.9 647.4,486.0 649.4,486.3 651.4,487.9 653.5,486.9 655.5,488.4 657.5,487.8 659.5,489.0 661.5,488.8 663.5,489.4 665.5,490.9 667.5,490.3 669.5,490.7 671.6,491.4 673.6,491.2 675.6,491.3 677.6,492.2 679.6,492.1 681.6,492.2 683.6,493.9 685.6,492.3 687.7,494.0 689.7,494.5 691.7,494.2 693.7,493.0 695.7,494.2 697.7,493.5 699.7,494.8 701.8,495.2 703.8,494.5 705.8,494.2 707.8,495.5 709.8,494.8 711.8,495.1 713.8,495.2 715.8,495.9 717.9,494.7 719.9,494.1 721.9,495.3 723.9,495.2 725.9,494.4 727.9,493.3 729.9,493.4 731.9,493.7 734.0,493.9 736.0,493.1 738.0,494.1 740.0,494.0 742.3,493.9 744.6,493.6 747.0,491.7 749.3,492.6 751.6,491.4 753.9,492.8 756.2,493.4 758.5,494.4 760.8,494.1 763.2,494.8 765.5,497.2 767.8,497.7 769.9,497.6 772.0,497.1 774.1,497.6 776.1,496.5 778.2,496.2 780.3,496.2 782.4,495.9 784.5,496.4 786.6,497.8 788.7,497.0 790.8,497.9 792.9,499.6 794.9,500.8 797.0,500.7 799.1,501.8 801.2,502.2 803.2,502.2 805.2,503.1 807.3,503.5 809.3,503.4 811.3,502.4 813.3,502.3 815.3,504.0 817.3,503.2 819.4,502.9 821.4,503.5 823.4,503.6 825.7,503.6 828.0,503.2 830.3,505.2 832.7,504.4 835.0,504.5 837.3,505.6 839.5,506.1 841.6,506.5 843.8,505.7 846.0,506.9 848.1,506.7 850.3,506.2 852.5,507.7 854.6,507.8 856.8,508.1 858.9,507.8 861.1,506.9 863.2,508.2 865.4,508.5 867.5,507.9 869.6,508.7 871.8,508.9 873.9,507.9 876.0,509.1 878.2,509.2 880.3,509.0 882.5,507.5 884.6,508.3 886.7,509.4 888.9,510.0 891.0,510.9 893.2,511.3 895.3,510.9 897.4,513.1 899.6,512.9 901.7,514.2 903.8,513.4 906.0,515.6 908.1,515.3 910.3,516.4 912.4,516.9 914.8,519.8 917.2,521.4 919.6,523.5 922.0,526.8 924.0,529.2 926.0,532.8 928.0,536.2 930.0,538.2 932.0,540.6 934.2,543.3 936.5,547.0 938.8,550.2 941.0,552.1 943.2,556.1 945.5,557.9 947.8,560.5 950.0,564.9 952.3,566.0 954.7,568.8 957.0,570.0 959.2,570.2 961.5,571.5 963.7,572.8 965.8,573.1 967.9,573.2 970.0,573.0 972.5,571.5 974.9,569.4 977.4,568.5 979.5,567.0 981.7,565.8 983.9,563.9 986.0,563.1 988.4,562.0 990.8,560.3 993.1,561.0 995.5,559.7 997.5,560.2 999.5,560.2 1001.5,560.3 1003.5,561.0 1005.5,559.9 1007.5,560.0 1009.5,559.4 1011.5,560.8 1013.5,560.8 1015.5,560.9 1017.5,561.9 1019.5,560.4" fill="none" stroke="#ee1b1b" stroke-width="2.8" stroke-linejoin="round" stroke-linecap="round"/>
<polyline points="106.0,564.1 108.1,562.5 110.2,562.2 112.2,564.2 114.3,562.6 116.4,562.4 118.5,563.5 120.6,562.9 122.6,564.0 124.7,562.7 126.8,564.1 128.9,562.8 131.0,563.4 133.0,564.1 135.1,563.6 137.2,564.0 139.6,562.0 142.1,559.1 144.5,559.2 146.9,557.0 148.9,553.8 151.0,550.9 153.0,549.6 155.1,546.4 157.1,544.5 159.2,541.5 161.2,539.3 163.3,535.8 165.3,533.5 167.4,530.7 169.4,527.3 171.5,526.5 173.5,523.0 175.6,521.8 177.7,519.9 179.7,517.1 181.8,513.9 183.9,513.1 185.9,510.5 188.0,507.4 188.7,475.4 189.6,505.1 192.0,494.7 194.4,492.8 196.8,488.4 199.2,484.8 201.6,480.9 203.6,480.4 205.6,479.9 207.6,477.7 209.6,476.8 211.7,476.2 213.7,474.6 215.7,474.2 217.7,473.1 219.7,472.3 221.7,472.1 223.7,471.3 225.8,469.8 227.8,471.0 229.8,469.1 231.8,468.7 233.8,468.0 236.0,470.4 238.1,471.8 240.2,472.3 242.4,473.4 244.5,474.1 246.7,477.1 249.1,478.1 251.5,481.2 253.9,483.3 256.3,485.7 258.3,485.9 260.3,485.8 262.3,485.7 264.4,486.9 266.4,487.6 268.4,487.5 270.4,486.8 272.4,488.0 274.5,486.7 276.7,487.4 278.8,488.3 281.0,488.4 283.1,487.5 285.3,488.3 287.4,487.6 289.6,487.6 291.8,487.8 293.9,488.6 296.1,488.1 298.2,487.5 302.0,487.5 303.0,460.3 304.5,486.7 306.7,487.8 308.8,488.0 311.0,487.8 313.1,488.6 315.3,487.0 317.4,488.1 319.6,488.6 321.8,488.1 323.9,488.0 326.1,489.2 328.2,488.9 330.4,488.7 332.4,488.0 334.4,489.5 336.4,488.0 338.4,487.2 340.5,487.1 342.5,486.9 344.5,487.8 346.5,486.1 348.5,486.0 350.5,485.3 352.5,485.8 354.6,484.9 356.6,484.9 358.6,485.4 360.6,485.5 362.6,485.0 364.6,483.0 366.6,483.3 368.6,483.8 370.6,481.8 372.7,481.7 374.7,481.9 376.7,481.3 378.7,481.6 380.7,481.6 382.7,481.2 384.7,480.8 386.8,480.8 388.8,481.0 390.8,480.6 392.8,481.9 394.8,480.9 396.8,482.5 398.8,482.1 400.8,480.9 402.9,481.9 404.9,482.2 406.9,481.1 408.9,482.1 410.9,481.2 412.9,482.8 414.9,481.3 416.9,482.6 418.9,483.4 421.0,483.2 423.0,482.0 425.0,482.7 427.0,482.0 429.1,482.7 431.2,484.0 433.3,484.2 435.4,482.8 437.5,483.8 439.6,484.6 441.7,484.0 443.8,485.5 445.9,486.0 448.0,485.6 450.1,485.4 452.2,486.7 454.2,486.1 456.2,485.6 458.2,485.9 460.2,485.7 462.3,487.2 464.3,486.6 466.3,487.1 468.3,487.4 470.3,487.8 472.3,486.4 474.3,486.9 476.3,487.9 478.4,487.8 480.4,487.2 482.4,487.8 484.4,487.0 486.4,487.2 488.4,487.3 490.4,488.3 492.4,488.3 494.5,489.1 496.5,490.3 498.5,489.0 500.5,490.1 502.5,491.0 504.5,490.8 506.5,491.0 508.6,491.7 510.6,490.5 512.6,492.7 514.6,492.5 516.6,493.0 518.6,493.6 520.6,492.6 522.6,493.0 524.6,493.8 526.7,494.9 528.7,496.3 530.7,496.7 532.7,496.2 534.7,497.1 536.7,497.9 538.7,497.6 540.8,499.3 542.8,499.8 544.8,499.9 546.8,500.7 548.8,501.0 550.9,501.1 553.1,500.9 555.2,501.2 557.4,501.5 559.5,501.6 561.6,503.7 563.8,502.9 565.9,502.7 568.1,503.7 570.2,503.7 572.4,504.8 574.5,505.0 576.5,504.6 578.6,505.1 580.6,504.9 582.6,504.7 584.7,505.5 586.7,504.4 588.8,504.8 590.8,505.4 592.8,505.5 594.9,504.2 596.9,503.5 598.9,505.2 601.0,504.2 603.0,503.6 605.1,503.3 607.1,503.4 609.1,503.5 611.2,503.1 613.2,502.8 614.5,497.0 616.0,504.3 618.1,503.0 620.2,503.9 622.3,504.6 624.4,504.2 626.5,503.4 628.6,504.1 630.7,504.3 632.8,505.4 634.9,504.9 637.0,504.8 639.1,505.2 641.2,504.2 643.3,505.6 645.4,505.9 647.4,506.0 649.4,505.8 651.4,506.1 653.5,505.9 655.5,506.5 657.5,507.0 659.5,508.0 661.5,509.1 663.5,508.3 665.5,509.2 667.5,510.0 669.5,510.4 671.6,509.5 673.6,511.7 675.6,511.5 677.6,511.3 679.6,511.7 681.6,513.1 683.6,514.1 685.6,513.4 687.7,514.0 689.7,514.9 691.7,514.6 693.7,515.6 695.7,517.1 697.7,516.9 699.7,517.9 701.8,517.3 703.8,519.0 705.8,519.4 707.8,518.7 709.8,519.9 711.9,521.4 714.1,522.4 716.2,523.7 718.3,524.3 720.5,526.1 722.6,527.0 724.7,529.1 726.9,529.5 729.0,532.0 731.2,530.9 733.4,529.9 735.6,529.9 737.8,529.1 740.0,530.0 742.3,528.1 744.6,528.8 747.0,527.7 749.3,528.2 751.6,526.4 753.9,527.1 756.2,527.8 758.5,527.6 760.8,528.1 763.2,529.2 765.5,530.5 767.8,530.4 770.1,529.0 772.4,528.9 774.8,528.7 777.1,526.5 779.4,527.1 781.7,525.3 783.8,524.5 786.0,524.3 788.1,524.7 790.3,524.8 792.4,524.1 794.5,523.8 796.7,524.5 798.8,523.9 800.9,524.2 803.1,524.1 805.2,524.5 807.4,524.2 809.5,523.4 811.7,523.9 813.8,525.9 816.0,524.9 818.2,525.6 820.3,526.2 822.5,528.3 824.7,528.3 826.8,529.7 829.0,529.8 831.0,528.4 833.0,527.9 835.1,527.7 837.1,525.9 839.1,526.3 841.1,524.8 843.1,523.3 845.1,523.2 847.2,522.8 849.2,521.2 851.2,522.0 853.3,521.8 855.5,520.8 857.6,521.4 859.8,520.7 861.9,520.2 864.0,519.2 866.2,520.6 868.3,520.3 870.4,519.2 872.6,518.8 874.7,518.0 876.9,518.9 879.0,519.1 881.1,518.1 883.2,517.9 885.3,518.4 887.4,518.7 889.4,517.4 891.5,517.6 893.6,518.2 895.7,517.0 897.8,518.5 899.9,517.4 902.0,518.4 904.0,517.6 906.1,516.9 908.2,516.6 910.3,516.7 912.4,516.9 914.4,519.0 916.4,520.1 918.4,520.8 920.4,521.2 922.4,523.0 924.5,524.2 926.5,524.5 928.5,525.0 930.5,526.8 932.5,527.3 934.5,528.3 936.5,529.8 938.5,529.8 940.6,532.0 942.6,531.4 944.7,533.3 946.7,533.6 948.8,532.7 950.8,535.1 952.9,535.6 954.9,535.6 957.0,537.0 959.0,536.8 961.1,537.1 963.2,538.6 965.3,540.1 967.4,542.5 969.5,543.6 971.5,543.5 973.6,545.2 975.7,545.9 977.8,547.4 979.9,548.9 982.0,550.2 984.0,550.3 986.0,552.0 988.0,551.8 990.0,553.7 992.0,553.5 994.0,554.0 996.0,555.3 998.0,555.1 1000.0,555.5 1002.3,555.8 1004.6,556.8 1006.9,557.2 1009.2,558.8 1011.5,558.6 1013.8,559.9 1016.6,560.3 1019.5,561.1" fill="none" stroke="#2020ee" stroke-width="2.8" stroke-linejoin="round" stroke-linecap="round"/>
<polyline points="106.0,564.2 108.1,564.3 110.2,564.1 112.2,562.2 114.3,563.4 116.4,563.0 118.5,563.3 120.6,562.3 122.6,562.5 124.7,563.1 126.8,562.5 128.9,563.1 131.0,562.1 133.0,562.2 135.1,563.7 137.2,563.0 139.6,561.6 142.1,560.6 144.5,558.1 146.9,555.7 148.9,554.8 151.0,551.7 153.0,549.3 155.1,546.5 157.1,544.7 159.2,540.7 161.2,539.0 163.3,535.4 165.3,533.2 167.4,530.8 169.4,527.4 171.5,523.9 173.5,521.9 175.6,519.5 177.6,516.3 179.7,513.0 181.7,510.6 183.8,506.5 185.8,503.6 187.9,501.0 189.9,499.3 192.0,494.9 194.4,490.9 196.8,487.0 197.5,460.9 198.3,486.5 201.6,479.7 204.0,476.2 206.4,471.0 208.8,467.1 211.2,462.9 213.2,462.3 215.2,462.9 217.2,461.7 219.2,460.4 221.3,459.5 223.3,460.5 225.3,459.7 227.3,459.4 229.5,457.2 231.6,457.1 233.8,457.2 235.9,455.6 238.0,455.7 240.2,453.0 244.0,453.1 245.0,436.6 246.2,452.8 248.2,452.4 250.2,454.9 252.3,455.1 254.3,456.4 256.3,456.5 258.7,457.9 261.1,458.0 263.4,460.1 265.8,460.6 268.0,458.9 270.1,459.7 272.3,457.6 274.5,460.9 276.6,464.4 278.7,464.3 280.9,462.5 283.0,463.2 285.8,465.2 288.6,465.3 289.4,478.4 290.4,466.1 293.1,464.4 295.9,464.4 299.4,466.8 300.2,483.0 301.2,461.8 302.3,461.0 304.5,460.6 306.6,461.1 308.8,463.1 311.4,463.6 313.9,464.3 316.5,464.5 317.3,482.4 318.3,463.5 320.7,464.1 323.1,463.9 325.4,463.2 327.8,463.5 330.2,464.1 332.4,464.1 334.5,462.7 336.6,461.8 338.8,461.6 341.0,458.9 343.1,459.3 345.2,463.4 347.4,468.7 349.9,468.8 352.4,466.7 354.8,467.7 357.3,465.0 358.1,498.8 359.0,466.1 361.0,465.3 363.0,466.0 365.0,465.7 367.1,465.5 369.1,466.1 371.1,464.3 373.1,465.1 375.3,466.9 377.4,466.3 379.6,468.9 381.7,468.1 383.9,470.1 385.9,468.8 387.9,469.3 389.9,469.1 391.9,468.1 394.0,469.5 396.0,468.8 398.0,469.2 400.0,468.7 402.1,469.0 404.2,469.1 406.2,468.8 408.3,470.4 410.4,468.7 412.5,470.8 414.5,471.0 416.6,470.4 418.7,471.3 420.8,471.2 422.8,471.3 424.9,470.8 427.0,471.1 429.0,471.4 431.0,471.5 433.0,473.4 435.0,472.1 437.0,472.5 439.0,472.8 441.0,472.8 443.0,470.9 444.2,447.1 445.4,471.4 447.6,471.2 449.9,470.4 452.1,470.5 454.3,470.3 456.5,471.4 458.8,470.3 461.0,469.1 462.0,459.9 463.0,470.1 465.1,471.4 467.3,471.3 469.4,472.5 471.6,471.2 473.7,472.8 475.8,471.6 478.0,473.6 480.1,472.9 482.3,471.7 484.4,473.7 486.4,472.7 488.4,473.1 490.4,472.8 492.4,474.6 494.5,473.0 496.5,474.8 498.5,474.2 500.5,475.1 502.5,474.3 504.5,474.0 506.5,476.2 508.5,475.8 510.6,474.8 512.6,477.0 514.6,477.0 516.6,475.5 518.6,475.3 520.6,476.9 522.6,476.0 524.6,477.6 526.7,477.2 528.7,478.0 530.7,477.8 532.7,478.5 534.7,478.9 536.7,478.5 538.7,478.7 540.8,478.3 542.8,478.0 544.8,478.1 546.8,480.2 548.8,478.8 551.0,478.8 553.3,478.1 555.5,478.3 556.8,471.1 558.0,479.9 560.0,479.0 562.1,479.1 564.1,480.0 566.2,480.4 568.2,481.0 570.3,479.7 572.3,481.3 574.4,481.7 576.4,481.9 578.4,480.1 580.5,480.9 582.5,482.0 584.6,482.3 586.6,480.6 588.7,481.7 590.7,482.7 592.8,483.0 594.8,482.6 596.8,482.0 598.9,482.7 600.9,482.1 603.0,482.9 605.0,483.3 607.1,484.5 609.1,484.1 611.2,483.9 613.2,483.7 615.2,484.3 617.2,485.5 619.2,485.4 621.2,485.2 623.3,487.1 625.3,487.0 627.3,488.3 629.3,487.7 631.3,488.7 633.3,489.0 635.3,490.3 637.3,491.8 639.4,492.8 641.4,492.8 643.4,493.0 645.4,493.0 647.5,495.6 649.7,495.4 651.8,496.1 654.0,496.2 656.1,496.9 658.2,498.6 660.4,500.8 662.5,501.0 664.7,501.8 666.8,502.5 669.0,502.3 671.1,502.9 673.2,504.1 675.2,502.9 677.3,504.3 679.3,504.3 681.4,504.5 683.4,503.7 685.5,503.7 687.5,504.8 689.6,504.2 691.6,505.5 693.7,504.8 695.7,505.8 697.7,506.3 699.7,506.2 701.8,506.2 703.8,505.6 705.8,506.1 707.8,507.8 709.8,506.3 711.8,506.2 713.8,506.6 715.8,506.5 717.9,507.0 719.9,505.6 721.9,507.1 723.9,504.6 725.9,506.3 727.9,505.6 729.9,506.3 731.9,504.3 734.0,505.4 736.0,505.9 738.0,505.1 740.0,503.6 742.3,505.3 744.6,505.2 747.0,502.9 749.3,504.4 751.6,502.3 753.9,502.1 756.0,504.2 758.2,504.5 760.3,505.5 762.5,505.1 764.6,505.2 766.7,505.1 768.9,506.2 771.0,507.7 773.1,507.3 775.3,508.2 777.4,507.0 779.6,508.7 781.7,509.2 783.8,507.6 786.0,509.4 788.1,507.8 790.3,507.9 792.4,507.5 794.5,509.0 796.7,507.7 798.8,509.7 800.9,507.4 803.1,509.3 805.2,509.2 807.4,508.8 809.5,508.8 811.7,509.8 813.8,509.9 816.0,509.1 818.2,511.2 820.3,510.6 822.5,511.6 824.7,511.9 826.8,513.3 829.0,512.6 831.0,513.6 833.0,511.8 835.0,512.4 837.0,513.2 839.0,513.1 841.0,513.6 843.0,512.1 845.0,513.5 847.0,513.5 849.1,511.9 851.1,511.9 853.1,513.0 855.1,513.9 857.1,513.1 859.1,512.6 861.1,512.8 863.1,513.5 865.1,512.9 867.2,513.1 869.4,513.5 871.5,514.5 873.7,514.4 875.8,514.7 878.0,513.5 880.1,514.5 882.3,515.3 884.4,515.3 886.6,516.0 888.7,516.2 890.9,514.5 893.0,515.6 895.2,515.4 897.3,515.2 899.5,516.1 901.6,517.4 903.8,517.0 905.9,515.6 908.1,516.1 910.2,516.5 912.4,517.9 914.5,518.6 916.7,519.6 918.8,522.2 921.0,523.2 923.1,524.4 925.2,527.5 927.4,530.1 929.5,531.3 931.6,532.9 933.8,533.2 935.9,535.9 938.1,537.8 940.2,539.8 942.2,539.6 944.3,539.1 946.3,541.8 948.3,540.7 950.3,542.3 952.4,542.2 954.4,543.4 956.4,542.9 958.4,542.8 960.5,544.1 962.5,544.8 964.5,546.9 966.5,547.4 968.6,549.4 970.6,550.1 972.6,552.3 974.6,552.4 976.6,555.4 978.6,557.0 980.7,556.2 982.7,559.6 984.7,560.8 986.7,560.6 988.8,559.2 990.8,560.7 992.9,560.8 994.9,560.4 997.0,561.2 999.0,561.2 1001.1,560.4 1003.1,561.1 1005.2,559.2 1007.2,559.6 1009.3,560.2 1011.3,560.2 1013.4,561.2 1015.4,560.4 1017.5,560.4 1019.5,560.4" fill="none" stroke="#1e1e1e" stroke-width="2.8" stroke-linejoin="round" stroke-linecap="round"/>
<polyline points="153.3,702.6 155.7,713.3 158.1,724.3 160.2,724.9 162.4,723.8 164.6,723.7 166.7,724.0 168.8,725.0 171.0,723.8 174.2,684.7 176.2,681.0 178.2,676.5 180.2,673.8 182.3,670.2 184.3,666.6 186.3,664.3 188.3,659.0 190.3,655.4 192.3,653.7 194.4,649.2 196.4,645.3 198.4,642.1 200.8,642.9 203.2,644.9 205.6,644.2 208.0,645.0 210.0,646.4 212.0,646.9 214.0,648.3 216.1,648.7 218.1,648.3 220.1,648.6 222.1,650.5 224.1,651.4 226.1,648.9 228.1,649.7 230.1,649.3 232.1,648.3 234.2,646.8 236.2,647.4 238.2,646.7 240.2,645.0 242.2,646.9 244.2,647.1 246.2,647.7 248.2,649.3 250.3,650.3 252.3,651.5 254.3,653.0 256.3,654.4 258.4,654.9 260.5,655.3 262.6,655.6 264.7,655.6 266.8,654.9 268.9,655.0 271.0,656.2 273.1,656.4 275.2,656.9 277.2,656.1 279.3,656.6 281.4,658.4 283.5,658.1 285.6,658.6 287.7,657.7 289.8,658.6 291.9,660.0 294.0,659.8 296.1,660.8 298.2,659.5 300.2,660.0 302.2,660.6 304.2,659.8 306.2,660.5 308.3,660.0 310.3,659.0 312.3,658.9 314.3,660.7 316.3,658.9 318.3,659.0 320.3,659.2 322.4,659.9 324.4,660.2 326.4,659.4 328.4,659.3 330.4,659.9 332.4,658.8 334.4,658.9 336.4,659.4 338.4,659.4 340.5,658.1 342.5,658.2 344.5,658.2 346.5,659.4 348.5,659.2 350.5,659.7 352.5,659.3 354.6,658.2 356.6,659.2 358.6,659.6 360.6,658.2 362.6,657.5 364.6,658.7 366.7,658.9 368.7,659.2 370.8,659.3 372.8,659.9 374.9,661.8 376.9,660.7 379.0,662.2 381.0,661.8 383.1,662.3 385.1,663.9 387.2,662.4 389.4,661.6 391.6,661.6 393.7,661.6 395.9,660.7 398.0,660.8 400.1,659.4 402.3,659.1 404.4,658.9 406.6,657.9 408.8,657.9 410.9,656.8 412.9,656.4 414.9,656.5 416.9,658.1 418.9,658.2 421.0,658.8 423.0,658.5 425.0,658.5 427.0,657.8 429.1,659.1 431.2,657.5 433.3,657.9 435.4,657.2 437.5,657.6 439.6,657.3 441.7,657.4 443.8,657.9 445.9,657.4 448.0,656.7 450.1,657.6 452.2,657.4 454.2,657.0 456.2,655.0 458.2,655.6 460.2,655.7 462.3,653.9 464.3,653.3 466.3,654.0 468.3,652.6 470.3,652.1 472.3,652.5 474.3,651.1 476.3,650.2 478.4,649.7 480.4,649.5 482.4,649.7 484.4,648.5 486.4,649.4 488.4,648.1 490.4,648.6 492.4,649.4 494.5,649.3 496.5,649.4 498.5,650.4 500.5,649.2 502.5,649.1 504.5,648.9 506.5,649.9 508.6,649.6 510.6,650.0 512.6,649.2 514.6,649.3 516.6,650.2 518.6,651.1 520.6,650.4 522.6,651.8 524.6,651.4 526.7,651.2 528.7,652.2 530.7,651.3 532.7,652.3 534.7,652.9 536.7,652.5 538.7,652.3 540.8,652.1 542.8,653.2 544.8,652.7 546.8,653.2 548.8,653.8 550.8,654.4 552.8,653.6 554.8,653.1 556.8,653.6 558.9,652.3 560.9,652.2 562.9,652.6 564.9,652.2 566.9,651.3 568.9,651.5 570.9,652.1 573.0,650.7 575.0,651.4 577.0,649.9 579.0,651.5 581.0,650.8 583.0,649.9 585.0,651.2 587.0,650.7 589.0,649.1 591.1,649.4 593.1,649.8 595.1,650.7 597.1,648.9 599.1,648.6 601.1,649.0 603.1,648.4 605.2,649.0 607.2,649.2 609.2,648.9 611.2,648.2 613.2,647.8 615.2,649.3 617.2,648.5 619.2,648.5 621.2,648.4 623.3,648.7 625.3,649.0 627.3,648.8 629.3,648.5 631.3,647.6 633.3,647.1 635.3,646.9 637.4,648.3 639.4,646.6 641.4,647.5 643.4,648.1 645.4,646.8 647.4,646.9 649.4,646.8 651.4,647.8 653.5,647.2 655.5,647.4 657.5,645.7 659.5,647.0 661.5,646.3 663.5,646.1 665.5,646.8 667.5,646.6 669.5,646.8 671.6,646.4 673.6,646.6 675.6,645.6 677.6,645.7 679.6,645.8 681.6,644.7 683.6,643.7 685.7,644.2 687.7,644.3 689.7,643.9 691.7,642.1 693.7,642.2 695.7,641.9 697.7,642.1 699.7,643.3 701.8,642.2 703.8,642.0 705.8,641.9 707.8,642.3 709.8,642.7 711.8,642.1 713.8,641.8 715.8,641.9 717.9,641.9 719.9,643.2 721.9,641.7 723.9,642.9 725.9,641.6 727.9,642.7 729.9,641.4 731.9,642.2 733.9,641.2 735.9,640.2 738.0,640.0 740.0,641.1 742.0,640.4 744.0,640.0 746.0,639.4 748.0,639.8 750.0,639.2 753.9,639.7 756.1,641.6 758.3,641.9 760.6,643.8 762.8,644.0 765.0,645.2 767.0,642.8 769.1,642.8 771.1,641.5 773.1,640.9 775.1,639.8 777.2,638.0 779.2,636.9 781.2,636.1 783.2,634.0 785.3,633.4 787.3,632.8 789.6,634.5 791.9,636.5 794.2,639.2 796.6,641.5 798.9,642.1 801.2,643.8 803.4,644.4 805.6,642.9 807.9,644.0 810.1,642.5 812.3,642.1 814.6,644.0 816.9,645.5 819.2,645.4 821.6,647.4 823.9,648.3 826.2,650.2 828.3,649.7 830.4,651.3 832.5,650.4 834.5,650.5 836.6,651.7 838.7,651.6 840.8,650.8 842.9,651.2 845.0,651.7 847.0,650.8 849.1,650.9 851.2,652.4 853.3,651.3 855.5,652.8 857.6,653.1 859.8,653.2 861.9,653.0 864.0,654.4 866.2,654.5 868.3,653.4 870.4,655.4 872.6,655.2 874.7,654.8 876.9,654.9 879.0,655.1 881.1,657.2 883.2,658.0 885.3,657.7 887.4,658.0 889.4,658.5 891.5,659.9 893.6,660.3 895.7,660.5 897.8,661.0 899.9,662.0 902.0,660.5 904.0,661.2 906.1,661.4 908.2,660.7 910.3,660.5 912.4,660.5 914.5,662.8 916.6,666.5 918.7,668.4 920.8,670.2 922.8,672.6 924.9,673.6 927.0,675.5 929.1,678.8 931.2,680.4 933.3,683.1 935.4,684.1 937.4,686.3 939.5,689.0 941.6,691.4 943.7,692.0 945.8,694.3 947.9,695.9 949.9,699.1 952.0,701.9 954.1,703.2 956.9,712.8 959.7,724.4 961.9,724.3 964.1,723.2 966.4,724.8 968.6,724.3 970.8,724.0 972.9,714.7 975.0,705.3 977.3,705.0 979.6,703.8 981.9,702.6 983.9,703.1 986.0,702.9 988.0,703.2 990.0,702.9" fill="none" stroke="#ee1b1b" stroke-width="2.8" stroke-linejoin="round" stroke-linecap="round"/>
<polyline points="154.9,697.1 155.9,696.4 157.0,695.7 158.0,695.8 159.0,691.0 160.1,692.4 161.1,692.9 162.2,691.8 163.2,685.8 164.2,687.8 165.3,686.4 166.3,684.5 167.3,686.5 168.4,682.3 169.4,680.6 170.5,682.9 171.6,679.8 172.6,676.4 173.7,675.4 174.8,675.6 175.9,671.5 176.9,674.2 178.0,674.0 179.1,670.8 180.2,672.6 181.2,672.1 182.3,668.5 183.3,666.9 184.3,660.7 185.3,657.8 186.3,661.7 187.3,654.6 188.3,651.7 189.3,653.9 190.4,650.5 191.4,643.8 192.4,642.8 193.4,639.8 194.4,637.6 195.4,633.4 196.4,634.5 197.4,630.6 198.4,628.8 199.5,627.9 200.5,627.9 201.6,627.9 202.7,634.2 203.7,633.8 204.8,633.1 205.9,630.7 206.9,631.4 208.0,631.7 209.0,632.6 210.1,630.4 211.1,631.4 212.2,630.4 213.2,629.9 214.2,632.5 215.3,630.7 216.3,630.4 217.4,629.1 218.4,629.9 219.5,631.1 220.5,627.3 221.5,625.3 222.6,627.6 223.6,626.4 224.7,628.7 225.7,623.7 226.7,630.2 227.7,625.8 228.7,630.8 229.8,631.6 230.8,632.1 231.8,637.4 232.8,637.6 233.8,635.3 234.9,638.0 236.0,639.2 237.0,635.6 238.1,636.4 239.2,640.3 240.2,641.6 241.3,640.1 242.4,640.3 243.5,641.2 244.5,640.0 245.6,644.6 246.7,645.5 247.8,643.2 248.8,641.0 249.9,644.5 251.0,648.2 252.0,645.9 253.1,645.4 254.2,646.9 255.2,651.4 256.3,651.7 257.4,650.4 258.4,653.6 259.5,655.5 260.5,656.9 261.6,656.1 262.6,653.5 263.6,656.1 264.6,657.0 265.7,656.6 266.7,655.9 267.7,654.9 268.7,654.4 269.8,656.8 270.8,655.4 271.8,656.1 272.9,652.8 273.9,651.9 274.9,653.2 275.9,655.4 277.0,655.4 278.0,653.0 279.0,653.0 280.0,658.2 281.1,652.3 282.1,658.2 283.1,657.1 284.1,655.8 285.1,658.7 286.1,656.5 287.1,651.9 288.1,658.3 289.1,654.7 290.2,658.1 291.2,657.4 292.2,652.8 293.2,652.2 294.2,652.0 295.2,657.2 296.2,657.3 297.2,653.5 298.2,652.7 299.2,654.4 300.2,657.3 301.2,656.9 302.2,657.8 303.2,658.5 304.2,657.0 305.2,657.6 306.2,652.0 307.3,651.9 308.3,657.8 309.3,656.1 310.3,654.1 311.3,652.8 312.3,654.2 313.3,654.2 314.3,655.3 315.3,655.0 316.3,653.4 317.3,652.6 318.3,653.5 319.3,653.0 320.3,652.9 321.3,655.1 322.4,653.2 323.4,657.8 324.4,656.1 325.4,655.6 326.4,656.8 327.4,654.1 328.4,652.8 329.4,653.2 330.4,655.0 331.4,655.2 332.4,654.5 333.4,654.9 334.4,658.6 335.4,653.0 336.4,656.1 337.4,655.7 338.4,655.0 339.5,658.1 340.5,654.7 341.5,653.5 342.5,654.4 343.5,660.0 344.5,655.8 345.5,654.2 346.5,660.1 347.5,657.5 348.5,659.2 349.5,654.5 350.5,657.4 351.5,651.8 352.5,652.7 353.5,656.1 354.6,653.8 355.6,655.2 356.6,652.1 357.6,655.0 358.6,649.2 359.6,652.5 360.6,649.1 361.6,648.8 362.6,653.0 363.6,649.9 364.6,652.4 365.6,648.8 366.6,651.8 367.6,652.9 368.6,651.0 369.6,648.2 370.7,651.1 371.7,653.0 372.7,651.9 373.7,649.5 374.7,649.1 375.7,647.0 376.7,651.5 377.7,647.3 378.7,647.7 379.7,646.4 380.7,647.2 381.7,648.7 382.7,649.2 383.7,647.1 384.7,648.8 385.7,651.0 386.8,646.5 387.8,646.7 388.8,649.3 389.8,651.8 390.8,651.8 391.8,649.4 392.8,646.1 393.8,651.4 394.8,652.2 395.8,651.6 396.8,649.1 397.8,648.2 398.8,649.6 399.8,651.0 400.8,652.5 401.8,649.1 402.9,649.2 403.9,648.0 404.9,649.6 405.9,649.6 406.9,647.9 407.9,649.2 408.9,652.3 409.9,647.8 410.9,647.9 411.9,648.3 412.9,652.1 413.9,648.4 414.9,652.0 415.9,652.8 416.9,652.5 417.9,652.0 418.9,647.9 420.0,649.7 421.0,652.3 422.0,648.4 423.0,650.9 424.0,652.8 425.0,653.2 426.0,649.3 427.0,647.8 428.0,647.3 429.0,649.3 430.0,650.9 431.0,649.2 432.0,652.9 433.0,651.8 434.1,651.7 435.1,653.1 436.1,649.8 437.1,652.1 438.1,650.1 439.1,649.7 440.1,648.6 441.1,653.3 442.1,654.1 443.1,648.2 444.1,653.0 445.1,648.6 446.2,651.1 447.2,650.4 448.2,654.5 449.2,651.4 450.2,651.9 451.2,651.0 452.2,650.3 453.2,650.2 454.2,648.9 455.2,648.5 456.2,652.1 457.2,653.4 458.2,652.9 459.2,650.0 460.2,654.9 461.3,648.7 462.3,651.0 463.3,650.3 464.3,649.2 465.3,654.5 466.3,652.8 467.3,648.7 468.3,649.0 469.3,653.3 470.3,650.2 471.3,649.7 472.3,649.6 473.3,649.8 474.3,651.5 475.3,649.6 476.3,651.4 477.4,647.8 478.4,650.9 479.4,651.2 480.4,649.4 481.4,653.0 482.4,653.4 483.4,651.5 484.4,649.8 485.4,648.3 486.4,651.7 487.4,649.6 488.4,648.9 489.4,651.6 490.4,649.6 491.4,652.8 492.4,653.8 493.5,648.9 494.5,653.3 495.5,650.5 496.5,651.7 497.5,654.6 498.5,656.4 499.5,652.2 500.5,655.4 501.5,652.8 502.5,657.1 503.5,652.0 504.5,655.6 505.5,651.8 506.5,655.3 507.5,656.7 508.6,658.1 509.6,657.3 510.6,656.0 511.6,655.2 512.6,657.0 513.6,657.3 514.6,657.2 515.6,658.2 516.6,658.6 517.6,660.0 518.6,657.9 519.6,659.8 520.6,658.9 521.6,656.6 522.6,659.6 523.6,656.7 524.6,659.9 525.7,660.4 526.7,660.6 527.7,660.8 528.7,659.4 529.7,658.2 530.7,656.9 531.7,659.3 532.7,661.2 533.7,657.6 534.7,656.7 535.7,660.5 536.7,661.7 537.7,657.0 538.7,656.6 539.7,656.6 540.8,659.7 541.8,661.7 542.8,657.8 543.8,661.6 544.8,656.6 545.8,657.8 546.8,660.2 547.8,661.8 548.8,660.1 549.8,661.4 550.8,659.1 551.8,659.3 552.8,660.2 553.8,656.7 554.8,658.1 555.8,659.1 556.8,661.2 557.9,658.0 558.9,658.4 559.9,663.4 560.9,661.1 561.9,659.5 562.9,662.0 563.9,661.6 564.9,662.3 565.9,660.5 566.9,660.9 567.9,657.4 568.9,659.6 569.9,659.4 570.9,658.4 571.9,659.2 573.0,662.7 574.0,658.2 575.0,657.5 576.0,659.0 577.0,657.9 578.0,656.9 579.0,662.9 580.0,660.4 581.0,656.9 582.0,660.2 583.0,657.7 584.0,659.7 585.0,662.7 586.0,662.9 587.0,658.8 588.0,661.3 589.0,659.3 590.1,656.3 591.1,658.4 592.1,661.1 593.1,660.8 594.1,660.3 595.1,662.0 596.1,657.8 597.1,659.9 598.1,660.6 599.1,661.2 600.1,660.7 601.1,660.6 602.1,656.9 603.1,657.1 604.1,658.6 605.2,655.1 606.2,656.3 607.2,656.6 608.2,655.4 609.2,655.2 610.2,658.2 611.2,655.8 612.2,654.0 613.2,658.9 614.2,659.8 615.2,654.8 616.2,657.9 617.2,653.7 618.2,654.5 619.2,654.0 620.2,657.2 621.2,656.5 622.3,658.2 623.3,657.0 624.3,657.5 625.3,658.2 626.3,656.2 627.3,653.6 628.3,653.1 629.3,657.7 630.3,657.4 631.3,656.1 632.3,658.1 633.3,657.0 634.3,654.1 635.3,652.6 636.3,654.1 637.4,657.3 638.4,657.0 639.4,650.9 640.4,650.8 641.4,653.7 642.4,656.8 643.4,656.5 644.4,656.1 645.4,650.8 646.4,651.9 647.4,656.0 648.4,653.9 649.4,653.3 650.4,657.8 651.4,651.6 652.4,655.0 653.5,657.9 654.5,656.9 655.5,658.3 656.5,654.4 657.5,656.5 658.5,659.6 659.5,654.0 660.5,656.2 661.5,660.2 662.5,654.8 663.5,659.2 664.5,659.2 665.5,656.1 666.5,661.2 667.5,660.0 668.5,655.8 669.5,661.8 670.6,661.3 671.6,658.8 672.6,655.9 673.6,661.2 674.6,660.1 675.6,661.4 676.6,657.0 677.6,660.0 678.6,662.4 679.6,662.1 680.6,658.5 681.6,659.7 682.6,660.8 683.6,661.0 684.6,664.8 685.6,664.6 686.7,658.5 687.7,662.9 688.7,659.8 689.7,665.0 690.7,662.9 691.7,665.6 692.7,665.9 693.7,666.3 694.7,661.2 695.7,660.7 696.7,665.8 697.7,663.9 698.7,666.2 699.7,664.1 700.7,664.1 701.8,666.5 702.8,664.2 703.8,665.3 704.8,664.8 705.8,666.9 706.8,663.0 707.8,665.8 708.8,666.8 709.8,667.8 710.8,669.6 711.8,666.3 712.8,670.7 713.8,669.2 714.9,667.4 715.9,669.0 716.9,668.0 717.9,670.3 718.9,666.3 719.9,672.6 720.9,669.3 721.9,667.3 722.9,668.1 723.9,670.2 725.0,670.0 726.0,674.3 727.0,671.5 728.0,675.5 729.0,671.5 730.0,671.8 731.0,675.7 732.0,674.9 733.0,675.3 734.0,669.6 735.0,669.1 736.0,673.2 737.0,670.6 738.0,668.8 739.0,668.6 740.0,670.0 741.0,670.0 742.1,672.5 743.1,674.8 744.1,669.4 745.1,673.7 746.2,672.5 747.2,674.4 748.2,675.4 749.3,675.0 750.3,669.7 751.3,674.0 752.4,674.3 753.4,671.7 754.4,669.5 755.4,674.5 756.5,673.7 757.5,674.7 758.5,674.8 759.6,674.8 760.6,670.2 761.6,676.4 762.7,676.6 763.7,672.6 764.7,675.6 765.7,676.8 766.8,673.4 767.8,672.9 768.8,674.7 769.9,676.0 770.9,673.6 771.9,675.5 772.9,677.3 774.0,673.4 775.0,677.1 776.0,671.9 777.1,675.1 778.1,676.7 779.1,673.9 780.2,673.1 781.2,673.1 782.2,673.8 783.2,674.0 784.3,674.2 785.3,673.1 786.3,675.5 787.4,673.0 788.4,673.3 789.4,674.8 790.5,677.8 791.5,673.6 792.5,673.0 793.5,677.1 794.6,675.8 795.6,672.7 796.6,678.6 797.7,673.4 798.7,676.4 799.7,673.7 800.7,677.8 801.8,674.7 802.8,676.5 803.8,677.7 804.9,677.2 805.9,674.5 806.9,674.5 808.0,676.5 809.0,676.1 810.0,677.5 811.0,673.1 812.1,673.2 813.1,672.8 814.1,678.3 815.2,674.1 816.2,678.1 817.2,676.1 818.3,679.5 819.3,677.4 820.3,678.9 821.3,673.9 822.4,679.3 823.4,675.9 824.4,673.5 825.5,678.9 826.5,674.6 827.5,677.3 828.5,672.9 829.6,675.7 830.6,675.8 831.6,675.6 832.7,678.0 833.7,674.3 834.7,678.4 835.8,673.2 836.8,678.6 837.8,673.8 838.8,676.4 839.9,678.0 840.9,676.2 841.9,677.3 843.0,672.0 844.0,677.9 845.0,671.5 846.1,675.7 847.1,676.6 848.1,676.1 849.1,675.7 850.2,674.8 851.2,677.3 852.2,672.0 853.3,676.6 854.3,675.8 855.3,671.5 856.3,673.2 857.4,672.9 858.4,670.9 859.4,675.6 860.5,675.5 861.5,674.7 862.5,669.7 863.6,674.3 864.6,675.6 865.6,674.0 866.6,675.4 867.7,675.5 868.7,673.6 869.7,673.8 870.8,670.7 871.8,673.8 872.8,670.6 873.9,670.1 874.9,670.5 875.9,670.2 876.9,668.3 878.0,668.9 879.0,669.7 880.0,669.3 881.0,668.0 882.0,672.9 883.0,673.6 884.1,670.3 885.1,672.9 886.1,674.0 887.1,668.3 888.1,672.1 889.1,672.2 890.1,669.4 891.1,674.4 892.2,673.8 893.2,672.0 894.2,672.0 895.2,674.1 896.2,668.9 897.2,674.5 898.2,672.1 899.2,670.7 900.3,670.4 901.3,672.3 902.3,669.4 903.3,674.4 904.3,671.6 905.3,674.9 906.3,675.3 907.3,674.3 908.4,669.7 909.4,670.6 910.4,673.3 911.4,675.5 912.4,673.4 913.4,672.2 914.5,675.8 915.5,674.1 916.6,675.6 917.6,675.3 918.7,679.2 919.7,677.6 920.8,674.7 921.8,679.0 922.8,678.0 923.9,677.0 924.9,679.8 926.0,678.9 927.0,684.1 928.1,679.8 929.1,682.6 930.1,679.0 931.2,681.1 932.2,683.6 933.2,682.6 934.2,683.8 935.3,683.2 936.3,683.6 937.3,681.2 938.3,685.8 939.4,684.1 940.4,679.9 941.4,685.5 942.4,681.0 943.5,682.8 944.5,684.4 945.5,686.2 946.5,681.3 947.6,682.2 948.6,683.8 949.7,684.3 950.7,682.2 951.8,683.2 952.9,684.5 953.9,677.5 955.0,679.2 956.1,681.2 957.2,680.6 958.2,681.0 959.3,676.1 960.4,674.9 961.4,677.1 962.5,675.3 963.5,724.0 980.5,724.0 983.3,696.1 984.3,696.6 985.4,698.1 986.4,698.6 987.5,698.7 988.5,696.3 989.6,699.4 990.6,696.9 991.6,696.5 992.7,695.7 993.7,697.9 994.8,696.3 995.8,697.1 996.9,699.0 997.9,700.0 999.0,700.1 1000.0,696.9 1001.0,696.9 1002.0,698.0 1003.0,699.7 1004.0,701.2 1005.0,701.2 1006.0,702.0 1007.0,700.4 1008.0,700.7 1009.0,699.1 1010.0,699.4 1011.0,699.0 1012.0,700.8 1013.0,701.2 1014.0,701.2 1015.0,700.4 1016.0,700.7 1017.0,700.0 1018.0,702.9 1019.0,701.9" fill="none" stroke="#2020ee" stroke-width="2.8" stroke-linejoin="round" stroke-linecap="round"/>
<polyline points="151.7,704.1 153.0,703.7 154.4,703.0 155.7,705.6 157.0,701.7 158.4,701.9 159.7,696.7 161.0,698.0 162.3,698.9 163.7,695.6 165.0,697.0 166.3,695.4 167.7,690.8 169.0,687.2 170.3,690.8 171.7,685.5 173.0,683.5 174.3,686.8 175.6,686.3 177.0,685.0 178.3,684.5 179.6,678.4 181.0,676.4 182.3,675.4 183.7,678.0 185.1,669.6 186.6,667.0 188.0,663.3 189.4,660.6 190.8,657.6 192.3,656.8 193.7,652.7 195.1,650.8 196.5,651.2 198.0,642.7 199.4,643.3 200.8,639.3 202.3,634.6 203.7,631.1 205.1,628.8 206.6,624.0 208.0,618.2 209.4,617.0 210.9,614.7 212.3,613.9 213.7,615.9 215.2,610.5 216.6,606.4 218.0,607.2 219.5,607.6 220.9,603.5 222.3,603.9 223.7,598.9 225.1,597.5 226.4,600.2 227.8,595.1 229.2,595.6 230.6,595.0 232.0,592.8 233.3,590.9 234.7,589.8 236.1,594.9 237.5,592.3 238.8,593.1 240.2,589.2 241.6,593.1 243.0,593.4 244.4,592.8 245.7,593.1 247.1,593.9 248.5,593.0 249.9,594.9 251.3,598.4 252.8,596.3 254.2,601.7 255.6,600.8 257.1,602.6 258.5,605.3 259.9,605.4 261.4,603.4 262.8,605.4 264.4,607.0 266.0,610.4 267.6,619.6 269.2,620.5 270.6,622.5 272.1,621.0 273.5,617.6 274.9,621.4 276.4,620.8 277.8,617.4 279.2,614.7 280.7,615.8 282.1,614.5 283.4,616.5 284.8,615.5 286.1,620.4 287.5,622.9 288.8,618.8 290.1,623.2 291.5,622.8 292.8,623.0 294.2,626.5 295.5,623.9 296.9,627.5 298.2,623.3 299.5,629.8 300.9,625.3 302.2,624.7 303.6,630.9 304.9,630.4 306.2,630.6 307.6,631.7 308.9,629.8 310.3,628.6 311.6,630.5 313.0,635.1 314.3,635.8 315.6,631.5 317.0,633.4 318.3,634.0 319.7,637.5 321.0,632.2 322.4,638.1 323.7,634.9 325.0,637.3 326.4,635.2 327.7,635.5 329.1,641.1 330.4,639.2 331.7,642.4 333.1,641.8 334.4,641.2 335.8,637.0 337.1,640.4 338.4,643.2 339.8,640.2 341.1,637.5 342.5,638.4 343.8,643.7 345.2,643.7 346.5,639.2 347.8,640.2 349.2,643.2 350.5,642.4 351.9,640.9 353.2,646.6 354.6,644.8 355.9,643.7 357.2,642.0 358.6,645.7 359.9,647.7 361.3,644.6 362.6,644.6 363.9,648.9 365.3,650.4 366.6,647.2 368.0,648.1 369.3,649.4 370.6,648.9 372.0,646.7 373.3,647.9 374.7,647.7 376.0,647.9 377.4,647.5 378.7,649.7 380.1,648.8 381.4,653.1 382.8,649.9 384.2,654.3 385.6,653.5 386.9,650.3 388.3,649.8 389.6,651.4 391.0,649.7 392.3,649.0 393.7,645.3 395.0,646.9 396.4,647.3 397.7,644.2 399.0,641.9 400.4,645.1 401.7,640.0 403.1,643.4 404.4,640.4 405.8,636.4 407.3,639.6 408.7,638.0 410.1,642.5 411.6,640.5 413.0,638.7 414.4,644.6 415.9,644.0 417.3,643.1 418.7,641.9 420.1,637.8 421.5,642.7 422.8,637.5 424.2,638.0 425.6,636.9 427.0,635.8 428.4,632.7 429.7,638.1 431.1,635.4 432.5,634.6 433.8,637.4 435.2,637.2 436.6,636.1 437.9,637.1 439.3,633.3 440.6,631.9 441.9,633.6 443.3,635.4 444.6,636.7 445.9,636.6 447.2,636.0 448.5,636.0 449.8,636.6 451.2,636.1 452.5,632.7 453.8,636.2 455.1,634.7 456.4,633.5 457.8,637.1 459.1,638.7 460.4,635.3 461.7,637.9 463.0,637.8 464.3,638.3 465.7,639.7 467.0,638.7 468.3,634.9 469.6,638.5 471.0,637.0 472.3,637.7 473.7,639.5 475.0,636.5 476.4,639.6 477.7,641.8 479.0,636.5 480.4,641.6 481.7,640.9 483.1,639.2 484.4,641.7 485.7,637.5 487.1,638.2 488.4,643.8 489.8,641.6 491.1,638.9 492.4,638.8 493.8,641.1 495.1,641.9 496.5,644.9 497.8,640.0 499.2,643.1 500.5,642.0 501.8,642.7 503.2,645.1 504.5,639.8 505.9,644.3 507.2,643.5 508.6,640.5 509.9,639.5 511.2,643.4 512.6,644.1 513.9,640.7 515.3,639.4 516.6,642.0 517.9,642.6 519.3,640.6 520.6,640.8 522.0,638.8 523.3,639.0 524.7,639.4 526.0,642.8 527.3,638.6 528.7,639.1 530.0,640.7 531.4,639.0 532.7,639.1 534.0,642.8 535.4,640.2 536.7,642.8 538.1,640.3 539.4,643.6 540.8,645.3 542.1,644.2 543.4,643.1 544.8,642.6 546.1,644.7 547.5,646.1 548.8,644.6 550.1,646.2 551.4,646.2 552.8,642.9 554.1,646.2 555.4,647.6 556.7,645.4 558.0,643.3 559.3,645.3 560.7,645.5 562.0,645.0 563.3,644.5 564.6,642.8 565.9,643.4 567.3,641.7 568.6,638.4 569.9,636.7 571.2,638.5 572.5,639.3 573.8,636.0 575.2,636.1 576.5,633.8 577.8,633.1 579.1,634.7 580.4,638.8 581.8,634.0 583.1,634.9 584.4,636.8 585.7,640.7 587.1,636.2 588.4,635.3 589.7,635.7 591.0,637.8 592.4,635.9 593.7,640.5 595.0,636.9 596.3,638.0 597.7,637.5 599.0,639.0 600.3,638.2 601.6,638.7 602.9,639.0 604.3,639.3 605.6,642.0 606.9,640.3 608.2,639.4 609.5,638.2 610.8,643.7 612.2,643.7 613.5,644.4 614.8,642.9 616.1,641.2 617.4,640.6 618.8,639.9 620.1,641.5 621.4,641.4 622.7,644.8 624.0,640.2 625.3,643.5 626.7,643.7 628.0,643.3 629.3,643.1 630.6,639.9 632.0,640.9 633.3,643.7 634.7,644.7 636.0,647.4 637.3,646.6 638.7,643.4 640.0,643.3 641.4,647.8 642.7,643.3 644.1,649.4 645.4,644.6 646.7,648.2 648.1,650.2 649.4,645.8 650.8,646.3 652.1,650.1 653.5,651.0 654.8,646.9 656.1,650.2 657.5,652.7 658.8,653.0 660.2,651.0 661.5,648.9 662.8,653.2 664.2,653.1 665.5,652.8 666.9,654.3 668.2,654.6 669.5,654.4 670.9,655.2 672.2,655.7 673.6,657.4 674.9,658.0 676.3,653.4 677.6,658.7 678.9,655.6 680.2,657.2 681.6,656.2 682.9,657.2 684.2,658.1 685.5,658.9 686.9,657.0 688.2,658.6 689.5,660.0 690.8,659.9 692.2,661.2 693.5,658.7 694.8,662.2 696.1,664.8 697.5,664.1 698.8,663.3 700.1,665.3 701.4,662.0 702.7,660.1 704.1,662.3 705.4,659.4 706.7,659.0 708.0,661.6 709.4,659.4 710.7,656.7 712.0,656.4 713.3,659.2 714.7,658.0 716.0,659.1 717.3,657.5 718.6,654.0 720.0,656.1 721.3,656.7 722.6,656.1 724.0,658.2 725.4,655.1 726.8,657.6 728.1,658.9 729.5,664.9 730.9,665.9 732.3,666.9 733.8,663.0 735.4,662.8 736.9,663.0 738.5,657.2 740.0,661.1 741.4,660.7 742.8,662.8 744.2,664.0 745.6,662.1 747.0,661.5 748.3,662.9 749.7,664.4 751.1,666.0 752.5,664.7 753.9,665.6 755.3,666.8 756.7,668.0 758.1,663.0 759.5,668.4 760.8,666.6 762.2,665.3 763.6,665.4 765.0,666.8 766.4,664.0 767.8,663.1 769.1,662.1 770.4,664.2 771.8,663.0 773.1,664.7 774.4,667.7 775.7,666.5 777.1,670.5 778.4,668.2 779.7,671.1 781.0,667.6 782.4,673.1 783.7,672.8 785.0,673.7 786.3,673.6 787.7,672.2 789.0,670.4 790.3,675.4 791.6,676.6 793.0,674.0 794.3,676.5 795.6,676.1 797.0,676.3 798.4,676.5 799.8,674.2 801.2,670.3 802.6,671.4 804.0,671.4 805.3,668.7 806.7,671.1 808.1,668.0 809.5,665.7 810.9,666.8 812.3,668.5 813.7,668.9 815.1,667.9 816.5,669.6 817.8,672.4 819.2,674.4 820.6,670.7 822.0,672.3 823.4,674.7 824.7,673.2 826.0,672.7 827.4,673.2 828.7,672.0 830.0,671.0 831.3,673.3 832.7,673.1 834.0,674.0 835.3,675.7 836.6,675.5 838.0,672.3 839.3,670.8 840.6,672.7 841.9,671.3 843.3,672.0 844.6,673.8 845.9,672.5 847.2,673.7 848.6,672.3 849.9,671.8 851.2,673.0 852.5,671.2 853.8,671.1 855.2,670.5 856.5,672.2 857.8,669.3 859.1,668.2 860.4,669.5 861.8,666.6 863.1,670.3 864.4,668.5 865.7,667.3 867.1,669.2 868.4,669.2 869.7,668.5 871.0,666.4 872.3,667.6 873.7,664.2 875.0,666.6 876.3,663.9 877.6,667.8 879.0,664.7 880.3,665.9 881.6,669.6 883.0,669.3 884.3,666.4 885.7,665.4 887.0,671.6 888.3,668.4 889.7,666.2 891.0,669.4 892.3,671.5 893.7,670.2 895.0,668.5 896.4,670.1 897.7,669.4 899.0,673.3 900.4,672.6 901.7,669.0 903.0,671.8 904.4,673.2 905.7,669.6 907.1,669.4 908.4,672.3 909.7,673.0 911.1,671.8 912.4,672.8 913.8,674.1 915.2,675.6 916.6,672.7 918.0,675.2 919.4,674.9 920.8,676.3 922.1,681.7 923.5,680.7 924.9,683.0 926.3,681.2 927.7,680.9 929.1,681.0 930.5,685.5 931.8,686.1 933.2,685.3 934.5,682.1 935.9,685.6 937.3,686.4 938.6,682.7 940.0,684.0" fill="none" stroke="#1e1e1e" stroke-width="2.8" stroke-linejoin="round" stroke-linecap="round"/>
<polyline points="106.0,857.0 108.1,856.9 110.2,856.9 112.2,858.2 114.3,857.8 116.4,858.0 118.5,857.9 120.6,857.8 122.6,858.4 124.7,858.3 126.8,858.7 128.9,858.6 131.0,859.0 133.0,858.5 135.1,858.1 137.2,858.2 139.3,859.3 141.5,858.5 143.6,859.4 145.8,859.5 147.9,858.8 150.1,860.1 152.2,859.0 154.4,860.5 156.6,860.5 158.7,859.7 160.8,860.6 163.0,860.8 165.1,858.9 167.3,858.9 169.4,857.1 171.6,857.5 173.7,856.2 175.9,855.8 178.0,853.4 180.2,852.9 182.3,852.5 184.3,850.7 186.3,848.2 188.3,847.5 190.4,845.7 192.4,843.0 194.4,840.9 196.4,840.0 198.4,837.8 200.4,835.3 202.4,832.2 204.4,829.3 206.4,825.8 208.5,823.2 210.5,820.9 212.5,818.5 214.5,815.2 216.6,813.0 218.8,810.0 220.9,807.9 223.0,804.8 225.2,801.6 227.3,798.6 229.5,797.2 231.6,795.8 233.8,795.8 235.9,794.5 238.0,792.9 240.2,790.6 242.2,789.4 244.2,786.6 246.2,785.8 248.2,783.4 250.3,781.5 252.3,779.3 254.3,777.0 256.3,775.7 258.4,774.9 260.6,772.9 262.7,772.3 264.9,771.9 267.0,770.9 269.2,769.6 271.3,768.7 273.5,768.6 275.6,766.6 277.7,766.5 279.7,767.3 281.8,766.6 283.8,767.6 285.9,766.7 287.9,767.7 290.0,766.8 292.0,767.6 294.1,767.4 296.1,767.4 298.2,766.5 300.3,765.9 302.5,765.2 304.6,764.9 306.8,765.1 308.9,763.6 311.0,763.4 313.2,763.4 315.3,762.2 317.5,761.9 319.6,761.2 321.8,761.4 323.9,760.0 326.0,761.6 328.2,761.1 330.3,761.5 332.5,761.4 334.6,761.5 336.8,762.4 338.9,762.5 341.1,762.5 343.2,761.4 345.4,761.8 347.5,761.8 349.7,760.8 351.8,760.1 354.0,759.8 356.1,758.5 358.3,758.8 360.4,758.4 362.6,756.7 364.6,757.7 366.7,758.1 368.7,758.0 370.8,758.9 372.8,759.5 374.9,759.8 376.9,759.1 379.0,759.2 381.0,760.6 383.1,760.5 385.1,761.1 387.1,761.8 389.1,761.4 391.1,762.5 393.1,762.7 395.2,764.1 397.2,764.5 399.2,764.4 401.2,765.4 403.2,765.2 405.2,764.2 407.2,763.7 409.2,763.8 411.3,762.7 413.3,763.0 415.3,763.3 417.3,762.7 419.5,760.9 421.7,761.5 423.9,760.7 426.1,760.1 428.4,758.4 430.6,759.0 432.8,757.5 435.0,757.9 437.1,757.3 439.3,757.6 441.4,757.5 443.6,758.8 445.8,758.0 447.9,759.2 450.1,758.8 452.2,758.4 454.2,759.3 456.2,759.2 458.2,758.5 460.2,759.9 462.3,759.1 464.3,758.8 466.3,760.1 468.3,760.2 470.3,759.7 472.3,759.5 474.3,760.1 476.3,760.3 478.4,760.6 480.4,760.4 482.4,760.6 484.4,761.0 486.4,760.2 488.4,760.3 490.4,760.9 492.4,761.4 494.5,761.6 496.5,761.8 498.5,761.2 500.5,761.7 502.5,760.9 504.5,761.4 506.5,761.0 508.6,762.3 510.6,762.7 512.6,762.3 514.6,762.5 516.6,762.0 518.6,762.7 520.6,761.5 522.6,762.0 524.6,762.0 526.7,762.8 528.7,761.7 530.7,761.7 532.7,761.5 534.7,762.7 536.7,761.9 538.7,762.8 540.8,761.9 542.8,762.7 544.8,761.7 546.8,762.8 548.8,763.0 550.8,762.6 552.8,762.1 554.8,762.2 556.8,762.1 558.9,761.9 560.9,760.6 562.9,761.4 564.9,761.0 566.9,760.2 568.9,759.7 570.9,760.6 573.0,759.8 575.0,759.6 577.0,760.0 579.0,759.2 581.0,758.6 583.0,759.4 585.0,759.3 587.0,758.9 589.0,759.7 591.1,760.1 593.1,759.2 595.1,760.2 597.1,760.2 599.1,759.9 601.1,759.5 603.1,760.4 605.2,759.9 607.2,759.9 609.2,761.0 611.2,760.1 613.2,759.9 615.2,761.2 617.2,761.4 619.2,760.3 621.2,760.4 623.3,760.7 625.3,761.0 627.3,759.8 629.3,760.8 631.3,760.2 633.3,761.3 635.3,760.5 637.4,761.3 639.4,760.5 641.4,760.8 643.4,759.9 645.4,760.1 647.4,759.9 649.4,759.6 651.4,758.9 653.5,758.8 655.5,757.9 657.5,758.3 659.5,758.5 661.5,757.9 663.5,757.1 665.5,757.3 667.5,756.5 669.5,755.9 671.6,755.3 673.6,754.2 675.6,755.1 677.6,754.7 679.6,754.5 681.6,754.2 683.6,754.3 685.6,754.4 687.7,754.4 689.7,753.9 691.7,752.6 693.7,754.0 695.7,753.3 697.7,753.0 699.7,752.9 701.8,752.5 703.8,752.1 705.8,752.9 707.8,752.8 709.8,751.8 711.8,753.2 713.8,753.3 715.8,753.3 717.9,752.9 719.9,752.7 721.9,752.9 723.9,752.8 725.9,753.8 727.9,753.8 729.9,753.9 731.9,753.3 734.0,753.4 736.0,753.8 738.0,753.2 740.0,753.1 742.1,754.4 744.1,753.2 746.2,753.2 748.2,753.6 750.3,752.9 752.4,753.6 754.4,753.1 756.5,754.1 758.5,752.9 760.6,754.1 762.7,753.2 764.7,754.1 766.8,754.1 768.8,754.3 770.9,753.1 772.9,754.4 775.0,753.0 777.1,753.4 779.1,752.8 781.2,753.6 783.2,752.9 785.3,753.7 787.4,754.3 789.4,754.1 791.5,753.8 793.5,752.9 795.6,754.4 797.7,753.4 799.7,754.4 801.8,753.1 803.8,753.4 805.9,754.5 808.0,754.2 810.0,753.3 812.1,753.8 814.1,754.0 816.2,753.5 818.3,753.5 820.3,753.3 822.4,754.0 824.4,753.9 826.5,753.9 828.5,754.1 830.6,753.9 832.7,754.0 834.7,754.7 836.8,753.7 838.8,753.7 840.9,754.2 843.0,754.0 845.0,754.4 847.1,755.0 849.1,755.2 851.2,755.0 853.3,755.3 855.5,754.2 857.6,754.5 859.8,754.2 861.9,754.6 864.0,754.6 866.2,754.7 868.3,754.9 870.4,756.0 872.6,755.4 874.7,756.1 876.9,755.6 879.0,756.0 881.1,755.8 883.2,755.6 885.3,756.1 887.4,755.5 889.4,755.2 891.5,754.7 893.6,754.4 895.7,754.9 897.7,755.2 899.8,755.2 901.8,756.9 903.8,755.8 905.8,756.8 907.9,756.9 909.9,757.5 911.9,758.6 913.9,759.2 916.0,758.7 918.0,759.5 920.3,761.7 922.6,762.6 925.0,764.6 927.3,766.5 929.6,769.0 931.9,770.0 934.1,772.1 936.3,772.0 938.6,773.9 940.8,775.0 943.0,775.2 945.1,778.7 947.1,782.7 949.2,785.1 951.3,787.7 953.4,789.4 955.5,790.5 957.6,791.5 959.6,792.4 961.7,794.3 963.8,794.9 965.9,795.6 968.0,796.6 970.0,797.3 972.1,796.5 974.1,797.1 976.1,797.6 978.1,796.7 980.2,796.9 982.2,796.9 984.2,798.0 986.2,798.3 988.3,798.2 990.3,798.3 992.5,796.3 994.7,795.7 997.0,794.7 999.2,793.4 1001.4,792.2 1003.4,792.5 1005.4,792.5 1007.4,792.4 1009.4,793.3 1011.5,792.6 1013.5,793.4 1015.5,793.5 1017.5,794.3 1019.5,794.3" fill="none" stroke="#ee1b1b" stroke-width="2.8" stroke-linejoin="round" stroke-linecap="round"/>
<polyline points="106.0,859.0 108.1,857.9 110.2,858.2 112.2,858.0 114.3,858.8 116.4,858.5 118.5,858.8 120.6,857.4 122.6,857.8 124.7,857.1 126.8,857.3 128.9,857.6 131.0,856.8 133.0,856.9 135.1,857.5 137.2,857.3 139.3,856.2 141.5,856.3 143.6,856.1 145.8,854.2 147.9,855.0 150.1,854.3 152.2,853.2 154.4,852.3 156.6,853.1 158.7,851.5 160.8,850.6 163.0,850.1 165.1,850.2 167.3,848.7 169.4,848.0 171.6,846.8 173.7,845.4 175.9,845.1 178.0,843.0 180.2,842.2 182.3,841.6 184.3,839.5 186.3,838.1 188.3,835.8 190.4,834.2 192.4,831.3 194.4,829.8 196.4,828.1 198.4,825.9 200.4,823.4 202.4,820.3 204.4,817.8 206.4,815.6 208.5,812.3 210.5,809.5 212.5,806.4 214.5,803.7 216.6,802.6 218.8,800.0 220.9,797.8 223.0,795.0 225.2,793.7 227.3,790.7 229.5,789.9 231.6,789.8 233.8,788.2 235.9,787.0 238.0,786.1 240.2,785.2 242.2,784.3 244.2,782.7 246.2,781.6 248.2,781.2 250.3,780.3 252.3,779.4 254.3,779.8 256.3,778.9 258.4,777.8 260.6,778.2 262.7,777.6 264.9,778.3 267.0,777.3 269.2,776.9 271.3,776.7 273.5,777.0 275.6,776.3 277.7,776.8 279.7,777.3 281.8,776.5 283.8,776.3 285.9,777.5 287.9,776.7 290.0,776.0 292.0,776.0 294.1,776.1 296.1,776.9 298.2,777.2 300.3,776.7 302.5,776.3 304.6,776.9 306.8,778.0 308.9,777.4 311.0,778.3 313.2,778.2 315.3,777.0 317.5,778.3 319.6,778.3 321.8,778.2 323.9,777.9 326.0,778.9 328.2,778.4 330.3,779.3 332.5,779.6 334.6,780.8 336.8,781.0 338.9,780.4 341.1,781.1 343.2,781.0 345.4,781.8 347.5,781.4 349.7,780.1 351.8,780.3 354.0,779.9 356.1,778.8 358.3,779.4 360.4,778.7 362.6,778.7 364.6,778.1 366.7,776.9 368.7,777.1 370.8,776.4 372.8,777.5 374.9,777.2 376.9,776.8 379.0,775.7 381.0,775.0 383.1,776.0 385.1,775.8 387.1,774.3 389.1,774.9 391.1,774.1 393.2,775.1 395.2,775.0 397.2,773.9 399.2,774.4 401.2,774.4 403.2,773.8 405.2,774.7 407.2,773.9 409.2,773.4 411.3,773.9 413.3,774.1 415.3,773.1 417.3,773.2 419.5,774.5 421.7,774.1 423.9,774.0 426.1,774.3 428.4,773.9 430.6,774.3 432.8,774.6 435.0,775.2 437.1,774.7 439.3,774.7 441.4,774.4 443.6,775.3 445.8,774.7 447.9,775.7 450.1,775.7 452.2,774.4 454.2,774.5 456.2,775.0 458.2,774.0 460.2,773.7 462.3,774.8 464.3,774.0 466.3,773.7 468.3,774.0 470.3,773.8 472.3,772.6 474.3,772.3 476.3,772.6 478.4,772.4 480.4,772.2 482.4,772.5 484.4,772.2 486.4,772.4 488.4,770.6 490.4,770.8 492.4,770.4 494.5,770.9 496.5,769.7 498.5,769.3 500.5,769.4 502.5,769.0 504.5,768.5 506.5,768.1 508.6,768.9 510.6,767.8 512.6,768.2 514.6,767.4 516.6,766.3 518.6,768.0 520.6,767.9 522.6,768.4 524.6,768.5 526.7,768.6 528.7,767.7 530.7,768.4 532.7,768.1 534.7,768.6 536.7,768.3 538.7,769.0 540.8,770.2 542.8,769.2 544.8,770.3 546.8,769.9 548.8,770.1 550.8,770.8 552.8,770.8 554.8,770.0 556.8,770.1 558.9,769.1 560.9,769.3 562.9,770.2 564.9,769.5 566.9,769.4 568.9,769.6 570.9,768.4 573.0,769.1 575.0,768.9 577.0,769.4 579.0,768.2 581.0,769.3 583.0,767.9 585.0,768.1 587.0,768.8 589.0,768.9 591.1,768.2 593.1,768.0 595.1,769.2 597.1,768.2 599.1,768.8 601.1,768.8 603.1,768.5 605.2,768.7 607.2,768.6 609.2,769.3 611.2,768.1 613.2,768.9 615.2,768.2 617.2,768.4 619.2,768.9 621.2,768.3 623.3,768.3 625.3,769.0 627.3,767.9 629.3,768.5 631.3,769.4 633.3,769.4 635.3,767.9 637.4,768.1 639.4,768.2 641.4,769.3 643.4,769.2 645.4,769.2 647.4,768.4 649.4,768.1 651.4,769.1 653.5,768.9 655.5,768.8 657.5,769.4 659.5,768.8 661.5,767.8 663.5,769.1 665.5,768.3 667.5,768.9 669.5,769.3 671.6,768.0 673.6,768.0 675.6,768.0 677.6,768.7 679.6,768.5 681.7,769.4 683.7,769.8 685.7,769.3 687.8,770.3 689.8,770.0 691.9,770.7 693.9,771.6 695.9,771.9 698.0,770.9 700.0,771.8 702.2,772.3 704.3,772.5 706.5,774.5 708.6,775.0 710.8,775.1 712.9,776.6 715.1,777.0 717.2,777.5 719.4,777.5 721.4,778.4 723.4,780.5 725.4,781.3 727.5,781.6 729.5,782.8 731.5,783.2 733.5,783.3 735.5,784.1 737.8,784.1 740.0,784.8 742.1,784.9 744.3,785.2 746.4,785.5 748.6,784.6 750.7,784.9 752.8,784.9 755.0,786.2 757.1,786.5 759.2,786.0 761.4,786.5 763.5,786.0 765.7,787.5 767.8,787.6 769.9,787.5 772.1,787.1 774.2,787.0 776.4,785.4 778.5,786.3 780.6,785.4 782.8,786.2 784.9,785.8 787.0,785.6 789.2,785.3 791.3,784.3 793.5,784.9 795.6,783.6 797.7,785.1 799.9,785.4 802.0,784.7 804.2,786.0 806.3,785.8 808.4,785.8 810.6,786.9 812.7,786.3 814.8,786.3 817.0,786.9 819.1,787.5 821.3,788.7 823.4,789.1 825.6,788.9 827.9,790.3 830.1,790.8 832.4,792.5 834.6,792.7 836.6,793.0 838.6,791.5 840.7,792.6 842.7,791.1 844.7,792.1 846.7,790.7 848.7,790.2 850.7,790.5 852.8,790.7 854.8,789.8 856.8,790.0 858.9,789.5 861.1,789.0 863.2,789.0 865.4,788.1 867.5,788.5 869.6,787.1 871.8,788.2 873.9,787.3 876.0,787.2 878.2,787.0 880.3,786.5 882.5,785.7 884.6,784.9 886.6,786.0 888.7,785.6 890.7,785.7 892.7,786.7 894.7,786.6 896.8,786.0 898.8,786.2 900.8,786.5 902.8,786.6 904.9,786.5 906.9,786.4 909.2,787.3 911.5,788.6 913.8,788.7 916.2,789.5 918.5,789.5 920.8,789.5 922.9,789.6 925.0,788.5 927.0,788.8 929.1,788.8 931.2,788.8 933.3,788.6 935.4,788.1 937.5,787.8 939.5,787.2 941.6,787.4 943.7,787.9 945.8,787.5 947.9,785.9 950.1,785.3 952.2,785.4 954.4,785.1 956.5,784.1 958.6,784.3 960.8,783.7 962.9,783.0 965.0,781.8 967.2,781.2 969.3,780.4 971.5,780.2 973.6,780.1 975.7,782.0 977.8,782.2 979.9,784.1 982.0,785.8 984.0,785.4 986.0,786.4 988.0,786.4 990.0,786.2 992.0,787.1 994.0,786.3 996.0,787.8 998.0,788.1 1000.0,787.3 1002.0,788.0 1004.0,787.9 1006.2,789.5 1008.4,789.2 1010.6,788.9 1012.9,789.6 1015.1,791.0 1017.3,790.7 1019.5,791.7" fill="none" stroke="#2020ee" stroke-width="2.8" stroke-linejoin="round" stroke-linecap="round"/>
<polyline points="106.0,859.7 108.1,860.7 110.2,859.8 112.2,860.3 114.3,860.7 116.4,860.9 118.5,860.3 120.6,860.4 122.6,859.6 124.7,860.3 126.8,860.2 128.9,861.0 131.0,860.5 133.0,860.8 135.1,860.3 137.2,859.9 139.3,860.8 141.5,860.6 143.6,859.8 145.8,859.2 147.9,859.8 150.1,859.6 152.2,859.9 154.4,859.5 156.6,859.2 158.7,859.2 160.8,858.7 163.0,858.1 165.1,857.2 167.3,857.7 169.4,856.6 171.6,854.9 173.7,854.9 175.9,853.4 178.0,851.9 180.2,852.2 182.3,850.8 184.3,849.6 186.3,847.4 188.3,844.6 190.4,843.6 192.4,842.1 194.4,840.5 196.4,837.7 198.4,836.2 200.4,833.7 202.4,830.0 204.4,828.3 206.4,825.4 208.5,821.4 210.5,819.5 212.5,816.3 214.5,813.2 216.6,811.2 218.8,809.1 220.9,805.7 223.0,802.3 225.2,800.3 227.3,798.0 229.5,797.0 231.6,795.3 233.8,792.9 235.9,793.0 238.0,791.1 240.2,788.9 242.2,787.6 244.2,786.1 246.2,785.6 248.2,783.4 250.3,783.0 252.3,780.5 254.3,779.8 256.3,778.2 258.4,776.7 260.6,775.7 262.7,776.2 264.9,775.5 267.0,773.2 269.2,773.3 271.3,772.8 273.5,771.7 275.6,770.8 277.7,769.5 279.7,769.7 281.8,768.9 283.8,769.2 285.9,768.3 287.9,768.1 290.0,767.7 292.0,766.5 294.1,766.6 296.1,765.2 298.2,764.9 300.3,766.0 302.5,765.0 304.6,765.3 306.8,765.0 308.9,764.3 311.0,764.7 313.2,765.1 315.3,764.1 317.5,764.0 319.6,763.6 321.8,763.4 323.9,764.3 326.0,764.1 328.2,764.5 330.3,764.1 332.5,764.5 334.6,763.4 336.8,763.3 338.9,763.3 341.1,763.6 343.2,764.6 345.4,764.1 347.5,765.2 349.7,765.2 351.8,765.9 354.0,767.4 356.1,768.2 358.3,768.8 360.4,770.2 362.6,770.8 364.6,771.5 366.7,771.5 368.7,771.6 370.8,772.0 372.8,773.6 374.9,773.2 376.9,773.5 379.0,775.2 381.0,774.9 383.1,776.3 385.1,776.2 387.1,776.2 389.1,775.1 391.1,775.3 393.1,774.8 395.2,774.3 397.2,773.7 399.2,774.0 401.2,773.8 403.2,772.0 405.2,770.7 407.2,770.1 409.2,769.8 411.3,768.1 413.3,767.7 415.3,765.7 417.3,765.7 419.5,764.2 421.7,763.8 423.9,764.0 426.1,763.0 428.4,762.6 430.6,761.5 432.8,761.5 435.0,760.3 437.1,760.8 439.3,760.9 441.4,761.9 443.6,761.8 445.8,761.7 447.9,762.4 450.1,762.2 452.2,762.6 454.2,762.2 456.2,762.3 458.2,761.7 460.2,762.9 462.3,762.4 464.3,762.7 466.3,762.4 468.3,761.4 470.3,761.6 472.3,762.8 474.3,762.5 476.3,762.8 478.4,762.8 480.4,761.8 482.4,763.0 484.4,762.4 486.4,762.6 488.4,762.2 490.4,761.8 492.4,762.2 494.5,762.1 496.5,761.9 498.5,761.9 500.5,762.1 502.5,761.8 504.5,761.6 506.5,762.7 508.6,762.0 510.6,762.0 512.6,762.7 514.6,762.5 516.6,762.1 518.6,762.0 520.6,762.9 522.6,762.1 524.6,762.5 526.7,762.5 528.7,763.6 530.7,762.5 532.7,763.1 534.7,763.1 536.7,762.5 538.7,762.8 540.8,764.0 542.8,764.0 544.8,763.1 546.8,763.2 548.8,764.5 550.8,763.5 552.8,763.3 554.8,763.3 556.8,761.8 558.9,761.8 560.9,762.1 562.9,760.5 564.9,760.2 566.9,760.8 568.9,760.3 570.9,759.4 573.0,758.4 575.0,759.1 577.0,757.9 579.0,758.2 581.0,757.0 583.0,756.9 585.0,757.9 587.0,757.5 589.0,757.6 591.1,757.8 593.1,757.9 595.1,758.1 597.1,758.4 599.1,757.7 601.1,758.7 603.1,758.5 605.2,759.1 607.2,758.4 609.2,759.1 611.2,758.4 613.2,759.3 615.2,759.5 617.2,759.5 619.2,759.6 621.2,760.5 623.3,759.8 625.3,759.5 627.3,760.1 629.3,759.9 631.3,761.4 633.3,761.5 635.3,760.7 637.4,761.6 639.4,761.1 641.4,762.4 643.4,761.9 645.4,761.5 647.4,762.6 649.4,761.9 651.4,763.4 653.5,763.7 655.5,763.4 657.5,763.0 659.5,764.0 661.5,763.1 663.5,763.4 665.5,763.9 667.5,763.7 669.5,765.2 671.6,765.1 673.6,765.5 675.6,765.5 677.6,765.0 679.6,765.0 681.7,765.6 683.7,765.9 685.7,765.6 687.8,765.1 689.8,765.9 691.9,765.3 693.9,765.6 695.9,766.0 698.0,765.7 700.0,765.3 702.2,764.7 704.3,763.3 706.5,762.9 708.6,762.7 710.8,761.4 713.0,759.8 715.1,760.3 717.3,758.4 719.4,757.5 721.6,757.5 723.7,757.0 725.9,755.2 727.9,755.6 729.9,755.5 731.9,754.9 734.0,755.5 736.0,754.8 738.0,755.4 740.0,755.0 742.1,755.4 744.3,755.2 746.4,756.4 748.6,755.5 750.7,756.3 752.8,756.3 755.0,756.6 757.1,756.8 759.2,757.9 761.4,757.5 763.5,757.9 765.7,758.8 767.8,759.5 770.0,758.9 772.1,759.8 774.3,759.8 776.5,760.5 778.6,760.5 780.8,760.9 783.0,760.1 785.1,761.1 787.3,760.3 789.3,760.8 791.3,761.5 793.4,761.4 795.4,763.0 797.4,762.5 799.4,763.8 801.4,763.5 803.4,764.6 805.5,764.8 807.5,766.4 809.5,765.9 811.5,766.6 813.6,767.1 815.6,767.5 817.6,768.9 819.6,769.0 821.7,769.6 823.7,770.3 825.7,771.0 827.7,772.3 829.8,772.0 831.8,772.5 833.9,773.4 836.0,774.4 838.0,774.5 840.1,774.8 842.2,775.8 844.3,777.3 846.4,777.8 848.5,777.7 850.5,778.2 852.6,778.4 854.7,779.8 856.8,780.5 858.9,779.9 861.1,780.7 863.2,780.1 865.4,780.6 867.5,780.8 869.6,781.8 871.8,781.7 873.9,781.8 876.0,781.9 878.2,782.3 880.3,782.4 882.5,782.2 884.6,783.3 886.6,783.7 888.7,783.4 890.7,783.8 892.7,785.0 894.7,783.9 896.8,785.5 898.8,784.9 900.8,785.4 902.8,786.0 904.9,786.8 906.9,786.7 908.9,788.0 910.9,788.9 912.9,790.5 914.9,790.9 916.9,791.3 918.9,792.8 920.9,793.6 922.9,794.2 924.9,795.8 927.0,793.9 929.1,794.8 931.2,793.9 933.3,791.9 935.3,792.2 937.4,790.6 939.5,791.3 941.6,789.7 943.7,789.5 945.8,788.0 947.9,788.5 950.0,787.3 952.1,788.4 954.1,787.3 956.2,787.0 958.3,787.3 960.4,787.2 962.5,786.3 964.8,787.2 967.1,788.2 969.5,789.2 971.8,790.1 974.1,789.9 976.4,791.7 978.6,791.0 980.7,792.0 982.9,791.0 985.0,791.1 987.2,791.0 989.3,790.5 991.5,791.9 993.6,791.3 995.8,791.6 998.0,790.8 1000.1,791.4 1002.3,791.2 1004.4,791.3 1006.6,791.7 1008.7,792.2 1010.9,792.0 1013.0,792.5 1015.2,793.1 1017.3,792.6 1019.5,793.1" fill="none" stroke="#1e1e1e" stroke-width="2.8" stroke-linejoin="round" stroke-linecap="round"/>
<polyline points="106.0,1024.4 108.0,1024.9 110.0,1024.2 112.0,1025.5 114.0,1024.4 116.0,1025.0 118.0,1025.8 120.0,1024.7 122.0,1025.8 124.0,1025.4 126.0,1025.0 128.0,1025.2 130.0,1025.1 132.0,1024.6 134.0,1025.9 136.1,1023.6 138.3,1023.7 140.4,1022.4 142.6,1019.6 144.7,1019.0 146.9,1018.4 149.0,1018.0 151.2,1015.6 153.3,1015.4 155.4,1013.9 157.6,1013.6 159.7,1012.8 161.9,1011.4 164.0,1009.2 166.2,1009.3 168.3,1007.6 170.4,1007.3 172.6,1005.5 174.7,1005.3 176.9,1004.3 179.0,1002.9 181.1,1000.6 183.1,998.3 185.2,995.5 187.2,992.3 189.3,991.6 191.3,988.2 193.4,985.0 195.4,983.5 197.5,981.1 199.5,978.3 201.6,977.5 203.6,973.8 205.6,973.4 207.6,970.7 209.7,967.9 211.7,966.3 213.7,964.4 215.7,961.7 217.7,961.0 219.7,958.8 221.7,957.4 223.7,955.1 225.8,953.0 227.8,951.4 229.8,949.3 231.8,946.7 233.8,944.5 235.8,943.6 237.8,943.4 239.8,942.9 241.9,941.9 243.9,941.1 245.9,938.7 247.9,938.6 249.9,937.2 252.1,937.6 254.2,937.1 256.4,936.5 258.5,936.5 260.7,934.7 262.8,935.2 264.9,935.4 267.1,935.2 269.2,937.3 271.3,936.0 273.5,937.4 275.6,938.1 277.7,939.1 279.7,940.7 281.8,940.7 283.8,942.3 285.9,942.0 287.9,943.2 290.0,943.4 292.0,945.3 294.1,945.7 296.1,947.3 298.2,946.8 300.2,947.3 302.2,948.1 304.2,946.0 306.2,947.1 308.3,947.0 310.3,946.9 312.3,946.3 314.3,946.0 316.3,946.7 318.3,945.2 320.3,945.8 322.3,945.5 324.4,945.5 326.4,944.8 328.4,943.6 330.4,945.0 332.4,943.9 334.4,944.8 336.4,945.1 338.4,944.6 340.5,943.7 342.5,944.5 344.5,943.5 346.5,943.2 348.5,943.6 350.5,943.7 352.5,943.7 354.6,943.3 356.6,942.9 358.6,943.5 360.6,942.5 362.6,943.0 364.7,942.5 366.9,943.5 369.0,945.7 371.2,945.1 373.3,946.2 375.5,946.2 377.6,948.3 379.8,948.1 381.9,948.3 384.0,949.3 386.2,951.1 388.4,951.3 390.5,950.3 392.6,952.8 394.8,951.5 396.9,951.7 399.1,951.0 401.2,950.8 403.4,948.8 405.5,949.5 407.7,947.7 409.8,947.9 412.0,947.6 414.1,946.2 416.2,944.2 418.3,944.7 420.4,943.5 422.5,943.3 424.6,942.6 426.6,940.4 428.7,940.5 430.8,939.9 432.9,939.7 435.0,938.2 437.1,938.4 439.3,938.9 441.4,937.9 443.6,939.5 445.8,939.2 447.9,939.5 450.1,938.7 452.2,939.6 454.2,938.8 456.2,937.8 458.2,938.7 460.2,937.9 462.3,936.5 464.3,935.1 466.3,936.3 468.3,934.0 470.3,934.2 472.3,933.7 474.3,933.6 476.3,932.6 478.4,931.9 480.4,931.1 482.4,931.5 484.4,930.5 486.4,929.7 488.4,930.7 490.4,931.1 492.4,930.3 494.5,929.6 496.5,929.6 498.5,931.5 500.5,930.1 502.5,931.4 504.5,930.3 506.5,930.4 508.6,930.4 510.6,931.8 512.6,930.5 514.6,931.3 516.6,932.1 518.6,932.1 520.7,931.7 522.7,932.3 524.8,934.5 526.8,934.1 528.9,934.2 530.9,935.7 533.0,936.8 535.0,936.4 537.1,936.7 539.1,937.4 541.2,937.6 543.3,937.9 545.4,936.2 547.5,937.2 549.6,936.7 551.7,936.2 553.8,935.5 555.9,934.5 558.0,935.1 560.0,934.6 562.1,934.8 564.2,933.2 566.3,933.1 568.4,932.5 570.5,933.1 572.6,931.9 574.7,932.5 576.8,932.0 578.9,931.5 581.0,930.9 583.0,932.3 585.0,931.5 587.0,930.7 589.0,931.7 591.1,932.0 593.1,931.5 595.1,932.3 597.1,932.2 599.1,931.9 601.1,930.6 603.1,931.3 605.2,931.5 607.2,930.8 609.2,931.5 611.2,931.8 613.2,932.0 615.2,932.1 617.2,932.2 619.2,931.4 621.2,932.1 623.3,932.0 625.3,932.6 627.3,931.4 629.3,931.7 631.3,932.8 633.3,932.9 635.3,932.1 637.4,933.2 639.4,933.4 641.4,933.2 643.4,932.9 645.4,932.2 647.5,933.5 649.7,935.5 651.8,936.8 654.0,936.2 656.1,936.9 658.2,938.4 660.4,940.6 662.5,940.1 664.7,942.4 666.8,943.1 669.0,944.1 671.1,945.4 673.1,944.2 675.1,942.6 677.1,942.5 679.2,941.8 681.2,941.7 683.2,940.5 685.2,940.7 687.2,938.7 689.2,939.8 691.2,940.6 693.2,941.3 695.2,943.3 697.3,944.4 699.3,943.6 701.3,945.2 703.3,945.0 705.4,945.4 707.6,945.0 709.8,946.0 711.9,946.1 714.0,946.0 716.2,944.7 718.4,944.9 720.5,944.4 722.6,945.1 724.8,944.1 727.0,945.1 729.1,944.3 731.1,943.6 733.1,943.3 735.1,942.5 737.1,940.2 739.1,940.2 741.1,938.4 743.1,936.9 745.1,937.7 747.1,935.4 749.1,934.7 751.1,934.6 753.2,936.0 755.3,936.1 757.4,937.8 759.5,938.2 761.5,938.5 763.6,940.6 765.7,940.9 767.8,942.0 769.8,941.9 771.8,942.0 773.8,940.6 775.8,940.2 777.9,940.4 779.9,939.3 781.9,939.5 783.9,939.2 785.9,938.0 788.3,942.7 790.8,946.3 793.2,947.9 795.6,951.4 797.8,950.9 799.9,951.0 802.1,950.0 804.3,950.3 806.4,950.2 808.6,948.5 810.8,947.5 812.9,946.8 815.1,947.5 817.2,948.7 819.3,950.3 821.4,951.9 823.5,952.2 825.5,954.2 827.6,954.8 829.7,955.8 831.8,958.3 833.9,957.1 836.0,956.9 838.1,956.5 840.1,955.3 842.2,954.3 844.3,955.2 846.4,954.7 848.5,954.2 850.6,954.4 852.6,955.4 854.7,957.1 856.8,957.6 858.9,959.4 861.0,960.0 863.0,961.0 865.1,962.7 867.2,961.4 869.3,961.8 871.4,962.6 873.5,963.4 875.5,963.7 877.6,963.8 879.7,962.6 881.8,963.0 884.1,965.0 886.4,967.0 888.8,969.0 891.1,971.0 893.4,974.5 895.7,975.9 897.9,978.1 900.0,978.6 902.2,980.2 904.4,981.7 906.5,982.2 908.7,982.8 910.9,984.4 913.0,985.7 915.2,986.4 917.5,990.2 919.8,993.6 922.2,995.8 924.5,998.2 926.8,1001.3 929.1,1004.8 931.4,1006.4 933.7,1008.8 936.0,1011.6 938.4,1012.0 940.7,1014.1 943.0,1016.5 945.2,1016.2 947.3,1018.3 949.5,1019.1 951.7,1017.8 953.8,1019.1 956.0,1020.6 958.2,1019.6 960.3,1021.3 962.5,1022.4 964.5,1022.2 966.5,1020.2 968.6,1021.2 970.6,1020.0 972.6,1019.8 974.6,1018.3 976.6,1017.4 978.6,1017.8 980.7,1018.3 982.7,1016.3 984.7,1017.3 986.7,1017.2 988.8,1016.1 990.8,1016.0 992.9,1016.9 994.9,1014.9 997.0,1016.0 999.0,1015.1 1001.1,1016.1 1003.1,1015.5 1005.2,1015.7 1007.2,1015.2 1009.3,1016.1 1011.3,1015.9 1013.4,1014.2 1015.4,1015.2 1017.5,1014.4 1019.5,1015.8" fill="none" stroke="#ee1b1b" stroke-width="2.8" stroke-linejoin="round" stroke-linecap="round"/>
<polyline points="106.0,1025.9 108.0,1024.0 110.0,1025.4 112.0,1024.9 114.0,1025.8 116.0,1024.7 118.0,1025.7 120.0,1024.2 122.0,1025.9 124.0,1024.7 126.0,1024.3 128.0,1024.6 130.0,1025.2 132.0,1024.0 134.0,1024.7 136.2,1022.7 138.4,1021.6 140.7,1020.6 142.9,1019.5 145.1,1018.4 147.4,1018.2 149.6,1016.2 151.8,1015.9 153.9,1014.9 156.1,1013.8 158.2,1012.9 160.4,1011.1 162.5,1010.2 164.7,1009.5 166.8,1007.8 168.9,1005.9 171.1,1005.6 173.2,1004.5 175.4,1002.7 177.5,1001.5 179.6,999.0 181.6,997.4 183.7,995.0 185.7,992.1 187.8,989.0 189.8,985.6 191.9,982.9 193.9,981.6 196.0,978.7 198.0,975.9 200.1,972.7 202.3,970.2 204.5,967.9 206.7,965.4 208.9,963.9 211.1,960.9 213.3,959.0 215.5,956.3 217.7,954.1 219.7,952.9 221.7,951.4 223.7,948.5 225.8,948.5 227.8,946.7 229.8,945.0 231.8,942.7 233.8,942.1 235.9,941.3 238.1,939.6 240.2,940.0 242.2,941.7 244.2,942.9 246.2,944.6 248.2,945.3 250.3,946.9 252.3,947.2 254.3,949.7 256.3,950.1 258.7,952.0 261.1,953.2 263.6,952.9 266.0,953.1 268.0,952.9 270.0,953.6 272.0,952.7 274.1,953.7 276.1,953.2 278.1,952.8 280.1,952.9 282.1,951.7 284.1,952.1 286.1,951.1 288.1,951.9 290.1,952.2 292.2,950.7 294.2,951.6 296.2,952.0 298.2,950.4 300.2,950.2 302.2,950.3 304.2,951.5 306.2,950.0 308.3,951.4 310.3,950.3 312.3,951.3 314.3,951.6 316.3,951.5 318.3,950.2 320.3,950.9 322.3,950.4 324.4,951.6 326.4,950.4 328.4,950.1 330.4,950.6 332.4,949.8 334.4,949.8 336.4,950.6 338.4,949.7 340.5,949.2 342.5,950.5 344.5,948.9 346.5,949.8 348.5,948.4 350.5,946.9 352.5,945.9 354.6,944.6 356.6,943.9 358.6,942.4 360.6,940.3 362.6,939.9 364.6,939.0 366.7,939.3 368.7,937.1 370.8,937.1 372.8,937.6 374.9,935.2 376.9,935.9 379.0,935.7 381.0,934.5 383.1,932.8 385.1,933.7 387.2,933.2 389.4,934.2 391.5,935.4 393.7,934.9 395.8,935.3 398.0,935.6 400.1,936.6 402.3,936.7 404.4,938.4 406.4,938.5 408.5,936.9 410.5,937.7 412.6,938.1 414.6,938.0 416.6,936.9 418.7,937.3 420.7,937.5 422.8,937.0 424.8,937.9 426.8,937.6 428.9,937.6 430.9,935.8 433.0,935.5 435.0,936.5 437.1,936.5 439.1,935.8 441.2,935.8 443.3,936.9 445.3,936.9 447.4,935.3 449.5,935.5 451.6,936.7 453.6,936.1 455.7,935.6 457.8,937.2 459.8,936.0 461.9,935.5 464.0,937.2 466.2,938.3 468.3,939.8 470.4,941.2 472.6,940.9 474.7,942.7 476.8,943.2 479.0,942.1 481.1,942.5 483.3,942.2 485.4,941.6 487.6,941.0 489.7,939.5 491.9,940.9 494.0,939.2 496.1,940.1 498.1,941.4 500.2,942.3 502.2,943.6 504.3,944.0 506.3,945.7 508.4,946.3 510.4,946.9 512.5,947.0 514.5,948.6 516.6,949.2 518.7,951.5 520.9,952.3 523.0,955.2 525.2,956.8 527.3,957.5 529.5,960.8 531.6,961.7 533.8,963.4 535.9,965.0 538.0,964.7 540.2,965.2 542.3,965.1 544.5,963.8 546.6,963.6 548.8,963.1 550.9,962.1 553.1,963.2 555.2,961.9 557.4,962.2 559.5,963.7 561.7,964.9 563.8,966.9 566.0,966.8 568.1,967.8 570.2,968.9 572.4,967.3 574.5,968.2 576.7,965.9 578.9,965.7 581.0,965.5 583.1,965.5 585.3,965.4 587.5,964.6 589.6,965.4 591.8,965.0 593.9,963.8 596.0,964.3 598.0,963.7 600.1,963.6 602.2,962.5 604.2,961.2 606.3,961.8 608.3,960.4 610.4,960.8 612.5,961.6 614.5,960.1 616.6,960.3 618.7,960.5 620.7,959.7 622.8,958.7 624.8,959.0 626.8,958.3 628.8,959.8 630.8,959.6 632.9,959.0 634.9,959.4 636.9,960.3 638.9,958.8 640.9,959.2 642.9,960.2 644.9,960.6 647.0,960.2 649.0,960.5 651.0,959.3 653.0,960.5 655.0,960.6 657.0,961.1 659.0,963.4 661.0,964.2 663.0,965.8 665.1,968.1 667.1,969.6 669.1,969.4 671.1,971.0 673.1,971.9 675.1,972.2 677.1,971.4 679.2,970.6 681.2,971.2 683.2,971.3 685.2,969.4 687.2,969.2 689.3,970.7 691.3,972.0 693.4,972.4 695.4,973.0 697.5,973.1 699.5,973.8 701.6,974.3 703.6,975.9 705.7,976.3 707.7,977.6 709.8,978.1 711.8,979.2 713.9,981.4 715.9,981.8 718.0,983.4 720.0,984.7 722.1,986.5 724.1,988.4 726.2,989.2 728.2,989.1 730.3,991.9 732.3,992.7 734.5,992.6 736.7,991.0 738.9,990.5 741.1,990.1 743.4,989.9 745.6,989.5 747.8,990.3 750.0,990.0 752.2,989.4 754.5,989.0 756.7,989.5 758.9,988.9 761.1,989.2 763.3,989.6 765.6,990.6 767.8,990.3 770.0,988.7 772.1,989.8 774.3,989.9 776.5,989.4 778.6,987.6 780.8,988.2 783.0,988.6 785.1,986.9 787.3,987.2 789.3,987.5 791.3,988.3 793.4,988.1 795.4,987.5 797.4,987.9 799.4,987.3 801.4,988.6 803.4,987.6 805.5,988.6 807.5,987.7 809.5,989.0 811.7,989.6 813.8,988.6 816.0,989.7 818.2,989.6 820.3,990.8 822.5,990.7 824.7,992.6 826.8,992.8 829.0,991.7 831.0,991.6 833.0,991.1 835.1,990.4 837.1,990.7 839.1,990.5 841.1,989.6 843.1,989.1 845.1,987.9 847.2,988.0 849.2,988.3 851.2,986.3 853.3,985.9 855.5,985.9 857.6,985.2 859.8,983.9 861.9,984.4 864.0,984.2 866.2,982.5 868.3,982.9 870.4,982.2 872.6,981.1 874.7,979.6 876.9,979.5 879.0,979.6 881.1,979.6 883.2,979.0 885.3,978.7 887.4,978.9 889.4,979.4 891.5,980.3 893.6,979.7 895.7,980.1 897.8,979.3 899.9,979.6 902.0,978.9 904.0,978.5 906.1,978.6 908.2,979.1 910.3,979.2 912.4,979.2 914.5,980.4 916.6,982.9 918.7,985.3 920.8,985.4 922.8,988.4 924.9,989.6 927.0,993.0 929.1,993.3 931.1,994.4 933.1,995.3 935.2,996.8 937.2,997.4 939.2,996.9 941.2,998.5 943.2,999.0 945.2,999.4 947.3,999.9 949.3,1001.6 951.3,1003.0 953.4,1004.1 955.5,1003.2 957.6,1004.1 959.7,1005.4 961.8,1006.0 963.8,1006.3 965.9,1006.6 968.0,1008.6 970.1,1008.4 972.2,1008.9 974.3,1010.0 976.4,1009.9 978.6,1011.3 980.7,1011.2 982.9,1012.2 985.0,1013.5 987.2,1014.3 989.3,1015.4 991.5,1015.4 993.6,1014.9 995.8,1016.6 998.0,1016.0 1000.1,1016.0 1002.3,1017.0 1004.4,1016.5 1006.6,1017.7 1008.7,1017.1 1010.9,1016.5 1013.0,1016.6 1015.2,1016.5 1017.3,1018.4 1019.5,1018.6" fill="none" stroke="#2020ee" stroke-width="2.8" stroke-linejoin="round" stroke-linecap="round"/>
<polyline points="106.0,1025.1 108.0,1025.7 110.0,1024.8 112.0,1025.3 114.0,1025.8 116.0,1024.9 118.0,1025.4 120.0,1025.4 122.0,1025.6 124.0,1024.0 126.0,1024.2 128.0,1025.9 130.0,1025.4 132.0,1024.4 134.0,1025.4 136.0,1023.3 138.1,1022.7 140.1,1021.9 142.1,1020.5 144.2,1019.3 146.2,1019.1 148.2,1018.4 150.2,1016.8 152.3,1016.5 154.3,1016.2 156.4,1013.2 158.6,1012.6 160.7,1011.2 162.9,1011.3 165.0,1009.7 167.2,1008.6 169.3,1007.2 171.4,1007.2 173.6,1006.0 175.7,1004.3 177.9,1004.0 180.0,1001.8 182.1,999.4 184.1,998.0 186.2,993.9 188.2,991.1 190.3,988.2 192.3,986.9 194.4,984.6 196.4,980.4 198.5,978.6 200.5,975.8 202.6,973.1 204.8,969.2 206.9,965.8 209.1,961.6 211.2,959.5 213.4,954.4 215.5,951.4 217.7,947.9 219.7,943.5 221.7,938.7 223.7,934.4 225.8,930.8 227.8,924.8 229.8,920.5 231.8,916.2 233.8,912.7 236.2,907.2 238.6,902.3 241.0,896.9 243.4,892.2 245.4,893.4 247.4,892.8 249.4,893.4 251.4,893.2 253.5,893.5 255.5,893.5 257.5,895.1 259.5,894.7 261.6,894.7 263.8,894.5 265.9,896.0 268.1,895.7 270.2,895.1 272.4,895.5 274.5,896.2 276.7,894.1 278.9,893.5 281.0,892.1 283.1,892.8 285.3,890.8 287.4,892.1 289.6,893.2 291.7,893.5 293.9,893.9 296.0,894.4 298.2,896.0 300.3,895.8 302.5,897.2 304.6,898.6 306.7,899.4 308.9,899.8 311.0,900.6 313.2,900.6 315.3,902.8 317.5,903.9 319.6,903.7 321.8,904.0 323.9,905.9 326.0,906.1 328.0,907.4 330.1,907.6 332.1,907.4 334.2,908.0 336.2,908.4 338.3,909.2 340.3,909.6 342.4,910.0 344.4,909.6 346.5,911.2 348.5,911.1 350.5,913.0 352.5,914.9 354.6,915.3 356.6,917.9 358.6,918.7 360.6,920.2 362.6,921.1 364.6,922.9 366.6,924.5 368.6,924.6 370.6,927.4 372.7,928.9 374.7,929.1 376.7,930.4 378.7,932.1 380.7,931.4 382.7,931.0 384.7,930.3 386.8,929.9 388.8,929.2 390.8,928.3 392.8,929.3 394.8,928.6 396.8,926.1 398.8,926.4 400.8,925.6 402.9,923.3 404.9,923.1 406.9,920.5 408.9,920.1 410.9,919.2 413.2,917.6 415.4,916.6 417.7,915.5 420.0,915.5 422.1,914.1 424.3,913.6 426.4,913.0 428.6,911.3 430.7,910.8 432.9,909.1 435.0,909.5 437.2,908.8 439.3,907.0 441.4,907.3 443.4,908.5 445.5,908.6 447.5,909.8 449.6,910.1 451.6,909.9 453.7,910.3 455.7,911.1 457.8,911.5 459.8,911.7 461.9,912.3 464.0,911.5 466.2,911.8 468.3,911.0 470.5,909.9 472.6,910.5 474.8,909.4 476.9,909.1 479.0,909.2 481.2,909.3 483.3,908.0 485.5,907.6 487.6,907.7 489.6,909.3 491.6,910.4 493.6,912.0 495.6,911.3 497.7,913.5 499.7,914.3 501.7,915.5 503.7,916.6 505.9,916.7 508.0,916.5 510.1,915.7 512.3,914.0 514.5,914.3 516.6,914.5 518.6,914.1 520.6,914.4 522.6,915.0 524.6,916.0 526.7,915.9 528.7,916.2 530.7,916.4 532.7,917.1 534.7,918.7 536.7,918.0 538.7,919.0 540.8,919.4 542.8,921.0 544.8,921.5 546.8,920.5 548.8,921.2 550.9,920.9 553.0,920.3 555.0,920.4 557.1,920.9 559.2,919.3 561.3,919.4 563.4,918.6 565.5,918.9 567.5,917.4 569.6,917.5 571.7,915.9 573.8,915.9 575.9,914.8 578.0,915.3 580.0,915.0 582.1,913.7 584.2,913.8 586.2,915.0 588.3,915.2 590.3,917.3 592.4,916.5 594.4,917.9 596.5,920.0 598.5,920.9 600.6,920.8 602.6,921.1 604.7,922.3 606.7,923.3 608.8,923.8 610.8,924.5 612.9,925.0 614.9,926.6 617.0,925.5 619.0,927.7 621.1,927.3 623.1,929.1 625.2,929.5 627.2,930.1 629.3,930.0 631.3,931.6 633.3,931.2 635.3,932.6 637.3,933.2 639.4,934.1 641.4,936.8 643.4,936.7 645.4,937.4 647.4,940.8 649.4,942.6 651.4,944.2 653.5,945.6 655.5,947.2 657.5,949.3 659.5,952.2 661.5,954.8 663.5,954.6 665.6,954.1 667.6,954.2 669.7,955.9 671.7,956.0 673.8,955.8 675.8,956.3 677.9,955.5 679.9,956.0 682.0,957.9 684.0,956.4 686.0,959.1 688.0,959.0 690.0,961.4 692.0,961.4 694.1,962.5 696.1,964.8 698.1,966.6 700.1,966.9 702.2,967.0 704.4,965.8 706.5,965.5 708.7,964.2 710.8,964.1 713.0,963.0 715.1,961.7 717.3,961.0 719.4,961.2 721.5,960.2 723.7,961.5 725.8,961.3 728.0,963.3 730.1,963.3 732.3,964.4 734.4,964.0 736.6,964.6 738.7,965.4 740.8,965.0 742.8,963.7 744.9,962.8 747.0,963.1 749.0,961.8 751.1,962.0 753.2,962.3 755.3,964.3 757.4,965.2 759.5,965.5 761.5,967.9 763.6,968.2 765.7,970.2 767.8,970.0 770.0,969.9 772.1,969.2 774.3,969.4 776.5,968.2 778.6,968.2 780.8,967.5 783.0,966.5 785.1,967.6 787.3,965.8 789.4,967.9 791.5,968.1 793.6,968.7 795.6,969.5 797.7,970.1 799.8,970.7 801.9,971.9 804.0,974.1 806.1,972.8 808.3,973.8 810.4,974.1 812.6,974.1 814.7,973.8 816.8,975.6 819.0,975.4 821.1,975.9 823.2,975.9 825.4,977.2 827.5,976.7 829.7,977.4 831.8,976.7 834.0,976.3 836.1,976.0 838.3,975.8 840.4,974.8 842.6,974.1 844.7,972.7 846.9,972.5 849.0,971.8 851.2,971.0 853.3,970.0 855.5,971.6 857.6,972.3 859.8,972.3 861.9,972.3 864.0,971.4 866.2,972.4 868.3,972.1 870.4,973.7 872.6,973.9 874.7,974.8 876.9,973.5 879.0,974.6 881.1,976.1 883.2,976.3 885.3,975.4 887.4,976.5 889.4,978.1 891.5,977.3 893.6,978.3 895.7,977.9 897.8,979.7 899.9,979.9 902.0,979.1 904.0,978.6 906.1,979.3 908.2,980.0 910.3,980.8 912.4,980.1 914.6,983.2 916.8,986.1 919.1,989.8 921.3,993.1 923.5,997.4 925.5,997.4 927.6,998.9 929.6,998.4 931.6,999.0 933.6,999.9 935.7,1000.6 937.7,1003.0 939.7,1002.8 941.7,1003.2 943.8,1003.5 945.8,1004.6 947.8,1006.1 949.8,1006.8 951.9,1007.1 953.9,1007.3 955.9,1008.9 957.9,1008.6 959.9,1010.2 961.9,1009.2 964.0,1011.7 966.0,1011.5 968.0,1012.8 970.1,1013.6 972.2,1012.4 974.3,1012.7 976.4,1013.7 978.4,1014.1 980.5,1015.7 982.6,1015.9 984.7,1016.5 986.7,1017.2 988.8,1015.9 990.8,1016.6 992.9,1015.8 994.9,1016.5 997.0,1017.3 999.0,1015.5 1001.1,1016.5 1003.1,1017.2 1005.2,1017.0 1007.2,1015.8 1009.3,1016.7 1011.3,1016.0 1013.4,1016.3 1015.4,1015.3 1017.5,1016.6 1019.5,1016.4" fill="none" stroke="#1e1e1e" stroke-width="2.8" stroke-linejoin="round" stroke-linecap="round"/>
<polyline points="106.0,1169.1 107.6,1169.2 109.1,1169.9 110.7,1168.6 112.2,1168.6 113.8,1169.6 115.3,1169.1 116.9,1168.7 118.4,1168.9 120.0,1168.7 121.6,1168.2 123.1,1169.4 124.7,1170.1 126.2,1169.6 127.8,1169.5 129.3,1168.7 130.9,1168.9 132.4,1168.2 134.0,1169.7 135.5,1167.4 137.0,1166.2 138.5,1166.9 140.0,1164.0 141.5,1164.5 143.0,1162.4 144.6,1161.6 146.1,1160.1 147.6,1157.8 149.1,1158.0 150.6,1155.7 152.1,1154.9 153.6,1153.0 155.1,1151.5 156.6,1150.9 158.1,1148.5 159.6,1148.1 161.1,1147.9 162.6,1146.9 164.1,1144.0 165.6,1141.8 167.1,1141.0 168.6,1138.9 170.1,1137.9 171.6,1137.5 173.1,1136.1 174.6,1133.2 176.1,1133.0 177.6,1130.7 179.1,1128.4 180.6,1125.6 182.1,1124.1 183.6,1121.2 185.1,1120.6 186.6,1118.4 188.2,1116.2 189.7,1113.4 191.2,1112.7 192.7,1109.0 194.2,1106.5 195.7,1104.8 197.2,1104.0 198.7,1099.9 200.3,1099.5 201.9,1097.9 203.5,1095.7 205.1,1092.7 206.7,1090.6 208.4,1089.7 210.0,1087.3 211.6,1085.5 213.2,1081.9 214.8,1081.0 216.4,1079.3 218.0,1076.0 219.6,1074.6 221.1,1074.8 222.7,1072.7 224.3,1070.9 225.9,1069.7 227.4,1067.8 229.0,1066.3 230.6,1064.8 232.2,1064.5 233.8,1062.7 235.4,1063.5 237.0,1062.5 238.6,1060.4 240.2,1057.9 241.8,1058.6 243.4,1056.9 245.0,1056.8 246.6,1055.6 248.3,1055.9 249.9,1054.2 251.5,1054.1 253.1,1053.4 254.7,1054.6 256.3,1056.4 257.9,1056.1 259.6,1057.3 261.2,1057.7 262.8,1057.9 264.4,1057.3 266.0,1057.9 267.6,1058.7 269.2,1060.4 270.8,1060.6 272.4,1062.8 274.0,1061.6 275.6,1062.0 277.3,1064.0 278.9,1064.6 280.5,1063.8 282.1,1065.3 283.7,1066.2 285.3,1067.8 286.9,1068.3 288.5,1069.2 290.1,1068.9 291.8,1070.6 293.4,1070.0 295.0,1070.1 296.6,1070.4 298.2,1072.8 299.7,1072.2 301.3,1072.0 302.8,1072.9 304.3,1071.9 305.9,1071.0 307.4,1071.9 308.9,1072.4 310.5,1070.4 312.0,1072.3 313.5,1070.9 315.1,1070.0 316.6,1070.9 318.1,1071.6 319.7,1070.7 321.2,1070.1 322.7,1071.3 324.3,1069.5 325.8,1070.9 327.3,1070.0 328.9,1070.6 330.4,1070.2 331.9,1069.6 333.5,1069.4 335.0,1071.0 336.5,1070.1 338.1,1069.6 339.6,1070.4 341.1,1070.9 342.7,1069.1 344.2,1070.1 345.7,1069.3 347.3,1070.9 348.8,1069.0 350.3,1071.1 351.9,1070.4 353.4,1070.2 354.9,1070.3 356.5,1069.6 358.0,1070.1 359.5,1069.3 361.1,1069.8 362.6,1070.4 364.2,1071.0 365.8,1070.8 367.4,1072.1 369.0,1073.1 370.6,1073.6 372.2,1072.2 373.9,1074.0 375.5,1073.7 377.1,1075.9 378.7,1075.8 380.3,1076.0 381.9,1077.0 383.5,1076.7 385.1,1075.9 386.7,1077.8 388.3,1075.5 389.9,1075.5 391.5,1076.2 393.2,1075.8 394.8,1076.4 396.4,1077.0 398.0,1076.4 399.6,1077.9 401.2,1076.2 402.8,1077.4 404.4,1077.0 406.0,1075.4 407.6,1075.6 409.2,1073.2 410.9,1074.9 412.5,1073.2 414.1,1072.4 415.7,1073.5 417.3,1071.6 418.9,1070.5 420.5,1070.1 422.1,1071.8 423.7,1069.9 425.3,1070.8 427.0,1069.0 428.6,1070.6 430.2,1070.7 431.8,1068.9 433.4,1069.7 435.0,1069.6 436.6,1068.2 438.1,1069.1 439.7,1070.8 441.3,1071.0 442.8,1070.3 444.4,1070.5 445.9,1069.5 447.5,1071.9 449.1,1072.5 450.6,1071.8 452.2,1071.2 453.7,1070.8 455.3,1071.9 456.8,1071.9 458.3,1071.5 459.9,1072.0 461.4,1069.7 462.9,1069.5 464.5,1069.6 466.0,1070.0 467.5,1069.2 469.1,1069.5 470.6,1069.3 472.1,1070.7 473.7,1069.8 475.2,1068.8 476.7,1069.4 478.3,1068.3 479.8,1070.3 481.3,1067.9 482.9,1068.1 484.4,1068.8 485.9,1069.8 487.5,1069.3 489.0,1068.1 490.5,1069.5 492.1,1070.0 493.6,1070.7 495.1,1070.1 496.7,1069.2 498.2,1070.9 499.7,1070.7 501.3,1071.3 502.8,1069.7 504.3,1071.5 505.9,1070.7 507.4,1070.2 508.9,1070.5 510.5,1070.2 512.0,1072.5 513.5,1070.7 515.1,1072.1 516.6,1071.3 518.2,1071.6 519.8,1072.2 521.4,1073.8 523.0,1072.1 524.7,1073.2 526.3,1073.4 527.9,1074.1 529.5,1074.8 531.1,1075.7 532.7,1075.5 534.2,1075.9 535.8,1075.8 537.3,1075.5 538.8,1073.3 540.4,1073.2 541.9,1074.2 543.4,1073.2 545.0,1073.5 546.5,1073.8 548.0,1073.7 549.6,1074.1 551.1,1074.0 552.6,1072.4 554.2,1073.2 555.7,1072.7 557.2,1072.5 558.8,1073.1 560.3,1072.9 561.8,1072.7 563.4,1071.8 564.9,1070.8 566.4,1072.1 568.0,1071.3 569.5,1071.4 571.0,1070.9 572.6,1070.8 574.1,1071.8 575.6,1073.1 577.2,1072.2 578.7,1071.3 580.2,1073.1 581.8,1071.1 583.3,1072.4 584.8,1070.8 586.4,1073.1 587.9,1073.0 589.4,1072.8 591.0,1071.6 592.5,1071.8 594.0,1071.9 595.6,1073.0 597.1,1072.1 598.6,1071.4 600.2,1073.3 601.7,1072.2 603.2,1073.1 604.8,1073.8 606.3,1073.5 607.8,1072.0 609.4,1073.9 610.9,1073.1 612.4,1074.7 614.0,1073.3 615.5,1072.9 617.0,1072.9 618.6,1075.3 620.1,1074.0 621.6,1073.1 623.2,1074.5 624.7,1075.8 626.2,1074.0 627.8,1076.1 629.3,1076.4 630.8,1074.3 632.3,1074.3 633.8,1074.2 635.3,1074.1 636.8,1073.8 638.3,1074.4 639.8,1075.9 641.3,1074.9 642.8,1074.9 644.3,1075.4 645.8,1074.2 647.3,1075.8 648.8,1074.5 650.3,1075.1 651.8,1074.4 653.4,1075.0 655.0,1075.3 656.6,1076.4 658.2,1077.1 659.8,1076.7 661.5,1079.2 663.1,1078.4 664.7,1079.8 666.3,1079.1 667.9,1079.2 669.5,1082.2 671.1,1080.8 672.6,1080.0 674.1,1082.2 675.6,1080.7 677.1,1079.4 678.6,1080.8 680.1,1079.8 681.6,1081.2 683.2,1080.6 684.7,1080.0 686.2,1079.9 687.7,1078.7 689.2,1080.0 690.7,1079.9 692.2,1077.9 693.7,1077.1 695.2,1077.4 696.8,1078.8 698.3,1079.3 699.8,1080.0 701.4,1080.5 702.9,1079.4 704.4,1079.8 706.0,1079.9 707.5,1081.4 709.0,1079.9 710.6,1079.8 712.1,1080.3 713.6,1082.4 715.2,1080.6 716.7,1083.0 718.2,1081.3 719.8,1081.9 721.3,1081.6 722.8,1083.9 724.4,1081.8 725.9,1082.2 727.5,1083.3 729.0,1082.4 730.6,1081.8 732.2,1081.7 733.7,1082.5 735.3,1080.2 736.9,1080.9 738.4,1079.7 740.0,1080.1 741.5,1079.3 743.1,1078.9 744.6,1078.2 746.2,1077.0 747.7,1077.0 749.3,1077.9 750.8,1076.5 752.4,1075.4 753.9,1074.9 755.4,1076.9 757.0,1076.0 758.5,1078.4 760.1,1077.8 761.6,1077.1 763.2,1078.2 764.7,1079.5 766.3,1080.9 767.8,1081.2 769.3,1079.4 770.8,1080.4 772.4,1080.3 773.9,1081.1 775.4,1079.3 776.9,1080.1 778.4,1080.3 779.9,1080.1 781.5,1080.0 783.0,1078.8 784.5,1079.3 786.0,1082.2 787.6,1081.4 789.1,1084.1 790.7,1082.5 792.2,1083.4 793.8,1086.6 795.3,1086.0 796.9,1088.4 798.4,1087.1 799.9,1088.3 801.4,1088.4 802.9,1086.5 804.4,1087.6 805.9,1086.8 807.4,1086.7 808.9,1085.1 810.4,1084.1 811.9,1084.2 813.4,1083.6 814.9,1083.0 816.4,1084.3 817.9,1082.0 819.4,1083.6 821.0,1083.6 822.5,1084.1 824.1,1084.7 825.6,1085.1 827.2,1086.8 828.7,1086.5 830.3,1087.3 831.8,1086.3 833.3,1086.7 834.9,1087.0 836.4,1086.6 838.0,1086.6 839.5,1084.2 841.1,1084.1 842.6,1085.6 844.2,1084.2 845.7,1083.5 847.2,1084.8 848.7,1084.9 850.3,1087.1 851.8,1087.0 853.3,1088.9 854.8,1088.7 856.3,1090.8 857.8,1089.1 859.4,1092.0 860.9,1090.8 862.4,1092.6 864.0,1091.6 865.6,1091.7 867.2,1092.6 868.9,1090.5 870.5,1090.6 872.1,1090.6 873.7,1089.1 875.3,1089.8 876.9,1089.0 878.6,1090.3 880.2,1089.8 881.8,1088.4 883.3,1090.3 884.9,1088.9 886.4,1089.5 888.0,1091.3 889.5,1093.3 891.1,1094.1 892.6,1095.1 894.2,1095.4 895.7,1095.1 897.2,1096.9 898.7,1097.6 900.3,1097.6 901.8,1099.2 903.3,1099.8 904.8,1099.1 906.3,1099.5 907.8,1100.7 909.4,1102.9 910.9,1102.7 912.4,1103.2 913.9,1106.0 915.4,1106.2 917.0,1108.0 918.5,1109.3 920.0,1113.0 921.5,1112.9 923.0,1114.9 924.5,1117.0 926.1,1117.7 927.6,1121.2 929.1,1122.6 930.6,1123.0 932.1,1125.5 933.7,1129.5 935.2,1130.1 936.7,1132.9 938.2,1136.3 939.7,1137.2 941.2,1140.1 942.8,1142.1 944.3,1145.1 945.8,1147.4 947.3,1148.5 948.8,1147.8 950.4,1149.8 951.9,1149.5 953.4,1152.4 954.9,1151.5 956.4,1153.1 957.9,1153.2 959.5,1154.9 961.0,1155.1 962.5,1155.3 964.0,1155.1 965.5,1156.8 967.1,1155.4 968.6,1155.1 970.1,1156.4 971.6,1156.6 973.1,1155.0 974.6,1155.6 976.2,1156.4 977.7,1156.2 979.2,1155.0 980.8,1154.6 982.4,1153.4 984.0,1152.8 985.5,1152.3 987.1,1149.4 988.7,1148.9 990.3,1149.4 991.8,1147.5 993.3,1147.4 994.9,1148.7 996.4,1147.2 997.9,1147.8 999.4,1146.3 1000.9,1148.6 1002.4,1147.4 1004.0,1145.9 1005.5,1146.0 1007.0,1145.8 1008.6,1146.2 1010.1,1145.9 1011.7,1144.9 1013.2,1144.7 1014.8,1144.2 1016.4,1142.6 1017.9,1141.9 1019.5,1141.6" fill="none" stroke="#ee1b1b" stroke-width="2.8" stroke-linejoin="round" stroke-linecap="round"/>
<polyline points="106.0,1169.0 107.6,1168.6 109.1,1170.2 110.7,1169.1 112.2,1168.0 113.8,1169.7 115.3,1168.0 116.9,1168.3 118.4,1168.0 120.0,1169.4 121.6,1170.0 123.1,1169.4 124.7,1168.4 126.2,1170.0 127.8,1170.1 129.3,1168.7 130.9,1168.5 132.4,1169.6 134.0,1170.3 135.5,1169.1 137.0,1167.9 138.5,1166.4 140.0,1164.1 141.5,1164.0 143.0,1162.4 144.6,1161.9 146.1,1160.4 147.6,1158.6 149.1,1159.3 150.6,1156.0 152.1,1155.7 153.6,1154.6 155.1,1155.2 156.6,1151.6 158.1,1151.4 159.6,1151.0 161.1,1148.7 162.6,1148.1 164.1,1145.3 165.6,1144.0 167.1,1142.5 168.6,1141.1 170.1,1139.6 171.6,1137.5 173.1,1138.5 174.6,1136.4 176.1,1134.9 177.6,1133.1 179.1,1130.1 180.6,1128.0 182.1,1127.8 183.6,1125.3 185.1,1122.2 186.6,1120.8 188.1,1119.2 189.7,1114.6 191.2,1113.3 192.7,1111.3 194.2,1109.0 195.7,1107.3 197.2,1104.6 198.7,1102.0 200.2,1101.8 201.8,1098.6 203.4,1097.6 205.0,1093.8 206.6,1092.3 208.2,1090.7 209.9,1087.5 211.5,1086.5 213.1,1083.9 214.7,1082.5 216.3,1080.2 217.9,1079.4 219.5,1076.7 221.1,1074.4 222.7,1073.7 224.3,1071.8 226.0,1069.5 227.6,1069.4 229.2,1067.2 230.8,1064.1 232.4,1063.7 234.0,1061.5 235.5,1058.9 237.1,1059.4 238.7,1056.7 240.2,1055.8 241.8,1052.7 243.4,1050.7 245.0,1050.2 246.6,1051.6 248.2,1051.3 249.8,1050.7 251.4,1052.6 253.1,1052.1 254.7,1050.9 256.3,1053.4 257.9,1052.1 259.5,1053.6 261.1,1051.7 262.7,1050.3 264.4,1051.0 266.0,1050.1 267.6,1050.6 269.2,1049.3 270.7,1049.0 272.3,1049.1 273.8,1049.3 275.3,1049.9 276.8,1050.1 278.4,1049.0 279.9,1048.4 281.4,1048.0 282.9,1049.6 284.5,1048.6 286.0,1050.2 287.5,1049.1 289.0,1050.5 290.6,1048.2 292.1,1050.2 293.6,1048.3 295.1,1048.6 296.7,1049.1 298.2,1048.7 299.8,1049.6 301.4,1050.3 303.0,1051.0 304.6,1050.0 306.2,1052.0 307.9,1051.9 309.5,1053.0 311.1,1052.6 312.7,1054.4 314.3,1053.4 315.8,1053.2 317.3,1055.1 318.8,1055.1 320.3,1054.2 321.8,1054.8 323.3,1055.2 324.8,1054.9 326.3,1056.0 327.8,1055.9 329.3,1056.5 330.8,1057.2 332.3,1055.9 333.8,1056.4 335.3,1057.6 336.8,1057.7 338.4,1058.6 340.0,1058.0 341.6,1058.5 343.2,1058.6 344.9,1059.9 346.5,1060.4 348.1,1062.2 349.7,1061.8 351.3,1063.7 352.9,1062.8 354.5,1064.1 356.1,1065.2 357.7,1065.5 359.4,1067.0 361.0,1069.1 362.6,1068.6 364.2,1068.7 365.8,1070.5 367.4,1071.2 369.0,1072.8 370.6,1071.1 372.2,1073.1 373.8,1073.1 375.4,1072.6 377.1,1073.2 378.7,1072.8 380.3,1075.2 381.9,1073.9 383.5,1074.6 385.1,1075.5 386.7,1075.2 388.3,1074.4 389.9,1073.4 391.5,1073.5 393.1,1072.7 394.8,1071.7 396.4,1072.5 398.0,1070.3 399.6,1069.8 401.2,1070.1 402.8,1069.5 404.4,1067.9 406.0,1068.9 407.6,1068.8 409.2,1067.2 410.9,1066.6 412.5,1065.2 414.1,1064.1 415.7,1064.0 417.3,1064.4 418.9,1064.6 420.5,1063.2 422.1,1063.0 423.7,1062.8 425.3,1063.2 427.0,1062.3 428.6,1062.8 430.2,1063.5 431.8,1061.6 433.4,1062.8 435.0,1061.6 436.6,1061.4 438.1,1062.0 439.7,1062.5 441.3,1062.0 442.8,1061.9 444.4,1062.5 445.9,1062.2 447.5,1063.1 449.1,1063.4 450.6,1063.3 452.2,1062.6 453.8,1061.6 455.4,1062.7 457.0,1062.6 458.6,1063.6 460.2,1062.8 461.9,1065.3 463.5,1063.8 465.1,1064.1 466.7,1066.1 468.3,1065.2 469.8,1064.1 471.3,1064.2 472.8,1065.4 474.3,1063.7 475.8,1065.4 477.3,1063.7 478.8,1063.6 480.3,1064.6 481.8,1063.6 483.3,1063.1 484.8,1064.4 486.3,1063.2 487.8,1063.8 489.3,1065.1 490.8,1064.7 492.4,1065.4 494.0,1065.0 495.6,1065.9 497.2,1066.0 498.9,1067.4 500.5,1068.6 502.1,1066.9 503.7,1067.3 505.2,1068.6 506.7,1069.1 508.2,1069.2 509.7,1068.3 511.2,1068.3 512.7,1069.0 514.2,1070.2 515.7,1069.2 517.2,1070.3 518.7,1069.6 520.2,1070.6 521.7,1068.9 523.2,1070.4 524.7,1069.5 526.2,1070.0 527.8,1069.2 529.3,1071.0 530.8,1070.5 532.3,1071.1 533.8,1070.6 535.3,1069.8 536.8,1071.5 538.3,1069.9 539.8,1070.4 541.3,1071.2 542.8,1072.2 544.3,1071.5 545.8,1072.0 547.3,1072.8 548.8,1072.8 550.3,1070.9 551.9,1071.3 553.4,1070.4 554.9,1072.1 556.5,1071.2 558.0,1071.2 559.5,1069.8 561.1,1070.4 562.6,1070.0 564.1,1071.6 565.7,1069.7 567.2,1071.2 568.7,1069.2 570.3,1070.2 571.8,1069.0 573.3,1068.8 574.9,1068.7 576.4,1070.2 577.9,1069.2 579.5,1068.1 581.0,1068.2 582.5,1069.1 584.1,1069.0 585.6,1069.6 587.1,1068.4 588.7,1069.4 590.2,1069.3 591.7,1070.7 593.3,1071.4 594.8,1069.6 596.3,1070.6 597.9,1072.5 599.4,1072.4 600.9,1070.5 602.5,1071.8 604.0,1072.4 605.5,1072.2 607.1,1073.0 608.6,1073.0 610.1,1072.9 611.7,1072.9 613.2,1072.5 614.7,1074.9 616.2,1073.6 617.7,1073.5 619.2,1075.2 620.8,1073.9 622.3,1075.5 623.8,1076.1 625.3,1075.0 626.8,1076.8 628.3,1077.3 629.8,1076.5 631.3,1076.6 632.9,1078.0 634.4,1077.9 635.9,1078.8 637.4,1077.8 638.9,1079.4 640.4,1078.7 641.9,1080.3 643.5,1079.7 645.0,1080.2 646.5,1080.7 648.0,1083.4 649.5,1083.6 651.0,1084.7 652.6,1084.5 654.1,1083.7 655.6,1085.8 657.1,1086.4 658.6,1086.5 660.1,1088.1 661.7,1089.5 663.2,1089.1 664.7,1089.1 666.2,1088.7 667.8,1091.2 669.3,1090.8 670.8,1090.0 672.3,1091.7 673.9,1090.5 675.4,1091.1 676.9,1091.7 678.4,1093.0 680.0,1093.0 681.5,1092.6 683.0,1092.7 684.5,1092.4 686.1,1093.6 687.6,1093.4 689.1,1094.1 690.6,1093.0 692.2,1093.7 693.7,1095.6 695.3,1094.2 696.9,1094.0 698.5,1093.0 700.1,1091.6 701.8,1090.3 703.4,1089.3 705.0,1090.8 706.6,1089.7 708.2,1089.3 709.8,1087.7 711.3,1088.3 712.9,1086.9 714.4,1089.1 716.0,1087.8 717.5,1087.9 719.1,1087.1 720.6,1088.0 722.2,1089.4 723.7,1089.7 725.3,1088.2 726.8,1087.9 728.4,1089.3 729.9,1088.0 731.4,1088.7 733.0,1090.2 734.5,1090.1 736.1,1088.9 737.6,1089.8 739.2,1088.4 740.7,1088.8 742.3,1088.3 743.8,1088.5 745.4,1088.9 746.9,1088.8 748.5,1088.7 750.0,1088.9 751.6,1089.1 753.2,1091.4 754.9,1089.7 756.5,1090.2 758.1,1091.2 759.7,1091.4 761.3,1091.1 762.9,1092.8 764.6,1091.2 766.2,1093.4 767.8,1091.5 769.3,1093.0 770.9,1093.9 772.4,1093.8 774.0,1092.5 775.5,1092.8 777.1,1093.5 778.6,1092.5 780.2,1094.4 781.7,1093.5 783.2,1093.4 784.8,1093.9 786.3,1094.6 787.9,1094.5 789.4,1095.7 791.0,1094.8 792.5,1096.2 794.1,1096.4 795.6,1095.8 797.1,1094.7 798.7,1094.6 800.2,1095.2 801.8,1096.5 803.3,1097.0 804.9,1098.1 806.4,1097.6 808.0,1096.1 809.5,1097.1 811.0,1097.4 812.6,1097.8 814.1,1096.9 815.7,1098.9 817.2,1099.4 818.8,1098.6 820.3,1099.9 821.9,1100.1 823.4,1100.5 824.9,1100.6 826.5,1099.3 828.0,1098.7 829.6,1100.5 831.1,1099.0 832.7,1099.1 834.2,1101.3 835.8,1101.3 837.3,1100.2 838.8,1100.2 840.4,1100.8 841.9,1099.1 843.5,1100.4 845.0,1099.5 846.6,1101.5 848.1,1099.5 849.7,1100.6 851.2,1100.3 852.8,1100.1 854.3,1100.5 855.9,1100.6 857.5,1098.8 859.0,1099.9 860.6,1100.2 862.2,1099.8 863.8,1099.9 865.3,1098.0 866.9,1097.8 868.5,1098.3 870.0,1097.8 871.6,1097.7 873.2,1096.1 874.7,1096.3 876.3,1096.5 877.9,1096.9 879.5,1098.5 881.1,1097.6 882.8,1099.9 884.4,1098.9 886.0,1100.1 887.6,1099.7 889.2,1101.2 890.9,1103.1 892.5,1101.6 894.1,1103.3 895.7,1103.9 897.2,1105.1 898.7,1103.0 900.3,1105.6 901.8,1105.5 903.3,1104.2 904.8,1105.1 906.3,1104.6 907.8,1105.0 909.4,1106.4 910.9,1105.9 912.4,1105.5 913.9,1109.0 915.4,1109.2 917.0,1111.3 918.5,1113.8 920.0,1115.1 921.5,1116.9 923.0,1116.7 924.5,1119.2 926.1,1120.9 927.6,1124.0 929.1,1124.1 930.7,1124.6 932.3,1126.7 933.9,1125.0 935.4,1127.9 937.0,1128.4 938.6,1126.9 940.2,1128.9 941.8,1128.2 943.4,1128.9 945.0,1129.8 946.5,1130.2 948.1,1131.0 949.7,1131.2 951.3,1132.7 952.8,1132.9 954.3,1135.1 955.8,1133.8 957.3,1135.2 958.8,1135.7 960.3,1137.4 961.8,1138.5 963.3,1139.2 964.8,1137.8 966.3,1138.5 967.8,1140.5 969.3,1139.9 970.8,1140.3 972.3,1142.8 973.9,1144.1 975.4,1144.4 977.0,1144.5 978.5,1146.4 980.1,1146.6 981.6,1147.5 983.2,1148.9 984.7,1148.5 986.2,1149.7 987.7,1150.0 989.3,1151.0 990.8,1150.0 992.3,1150.1 993.8,1152.0 995.3,1152.6 996.8,1152.4 998.4,1152.4 999.9,1153.3 1001.4,1151.8 1002.9,1151.7 1004.4,1152.6 1005.9,1151.6 1007.4,1151.9 1008.9,1151.4 1010.5,1152.0 1012.0,1151.4 1013.5,1151.8 1015.0,1150.2 1016.5,1150.8 1018.0,1149.4 1019.5,1148.5" fill="none" stroke="#1e1e1e" stroke-width="2.8" stroke-linejoin="round" stroke-linecap="round"/>
<polyline points="106.0,1170.2 107.6,1168.2 109.1,1170.3 110.7,1168.4 112.2,1169.0 113.8,1170.1 115.3,1168.7 116.9,1169.1 118.4,1168.2 120.0,1170.3 121.6,1170.4 123.1,1168.2 124.7,1168.1 126.2,1169.0 127.8,1169.1 129.3,1169.8 130.9,1168.7 132.4,1169.3 134.0,1168.2 135.6,1167.0 137.1,1165.3 138.7,1165.1 140.2,1163.8 141.8,1162.5 143.3,1162.0 144.9,1159.0 146.4,1157.7 148.0,1156.6 149.5,1156.5 151.1,1153.5 152.6,1152.1 154.1,1151.0 155.6,1150.3 157.1,1147.8 158.6,1146.1 160.1,1146.2 161.6,1144.4 163.1,1143.0 164.6,1140.1 166.1,1139.3 167.6,1137.6 169.1,1136.8 170.6,1136.9 172.1,1135.7 173.6,1133.9 175.1,1130.5 176.6,1128.9 178.1,1127.6 179.6,1124.0 181.1,1122.0 182.6,1120.7 184.1,1117.6 185.7,1115.8 187.2,1113.3 188.7,1112.4 190.2,1109.4 191.7,1106.2 193.2,1103.8 194.7,1103.3 196.2,1099.8 197.8,1099.2 199.4,1096.1 201.0,1094.9 202.6,1092.4 204.2,1091.2 205.9,1087.8 207.5,1086.5 209.1,1085.1 210.7,1082.1 212.3,1082.0 213.9,1080.0 215.5,1077.9 217.1,1076.2 218.7,1074.6 220.3,1072.0 222.0,1071.1 223.6,1068.4 225.2,1065.9 226.8,1066.5 228.5,1066.8 230.2,1065.3 231.9,1065.9 233.6,1065.8 235.3,1067.3 237.0,1066.1 238.6,1069.2 240.2,1068.5 241.8,1070.8 243.5,1073.1 245.1,1073.7 246.7,1074.2 248.3,1074.5 249.9,1076.8 251.5,1075.9 253.1,1077.1 254.8,1078.6 256.4,1078.4 258.0,1078.4 259.6,1081.0 261.2,1081.4 262.8,1081.8 264.3,1080.4 265.8,1081.2 267.3,1082.4 268.8,1081.1 270.3,1080.3 271.8,1082.0 273.3,1080.4 274.8,1080.7 276.3,1079.7 277.8,1081.4 279.3,1080.8 280.8,1080.3 282.3,1080.1 283.8,1079.6 285.3,1079.8 286.8,1079.8 288.3,1078.5 289.9,1080.2 291.4,1080.2 292.9,1078.2 294.4,1078.4 295.9,1079.8 297.4,1078.7 299.0,1078.1 300.5,1079.5 302.0,1080.1 303.5,1078.4 305.0,1078.9 306.5,1078.7 308.1,1078.6 309.6,1078.6 311.1,1079.4 312.7,1079.5 314.3,1079.8 315.9,1079.6 317.5,1080.0 319.1,1080.3 320.8,1080.5 322.4,1080.6 324.0,1081.1 325.6,1079.6 327.2,1080.1 328.8,1081.6 330.4,1081.3 332.0,1081.4 333.6,1083.1 335.2,1082.5 336.8,1084.6 338.4,1084.0 340.0,1086.2 341.6,1085.2 343.2,1087.5 344.8,1085.2 346.4,1085.7 348.1,1083.4 349.7,1083.6 351.3,1082.6 352.9,1083.2 354.5,1082.2 356.1,1081.2 357.8,1079.3 359.4,1079.7 361.0,1078.3 362.6,1077.3 364.2,1078.6 365.8,1077.9 367.4,1078.8 369.0,1078.1 370.6,1075.8 372.2,1077.9 373.9,1076.5 375.5,1077.4 377.1,1075.4 378.7,1075.6 380.3,1075.9 381.9,1074.5 383.5,1075.0 385.1,1074.9 386.7,1075.1 388.3,1075.7 389.9,1075.8 391.5,1076.9 393.2,1075.4 394.8,1075.5 396.4,1075.8 398.0,1075.1 399.6,1076.1 401.2,1076.3 402.8,1076.0 404.4,1077.4 406.0,1076.6 407.6,1078.7 409.2,1079.5 410.9,1078.9 412.5,1078.2 414.1,1078.4 415.7,1078.4 417.3,1079.1 418.9,1080.7 420.5,1080.3 422.1,1080.4 423.7,1079.0 425.3,1079.3 427.0,1079.6 428.6,1079.3 430.2,1079.1 431.8,1077.4 433.4,1079.7 435.0,1078.5 436.6,1077.9 438.1,1078.1 439.7,1079.4 441.3,1080.0 442.8,1077.8 444.4,1078.4 445.9,1078.1 447.5,1079.8 449.1,1079.9 450.6,1080.1 452.2,1079.1 453.7,1079.7 455.3,1080.9 456.8,1079.4 458.3,1079.1 459.9,1079.2 461.4,1080.7 462.9,1079.2 464.5,1080.4 466.0,1080.2 467.5,1080.7 469.1,1078.8 470.6,1079.4 472.1,1081.1 473.7,1079.9 475.2,1078.8 476.7,1078.9 478.3,1079.1 479.8,1080.3 481.3,1079.4 482.9,1078.9 484.4,1079.3 485.9,1081.0 487.4,1081.0 488.9,1080.7 490.4,1080.4 492.0,1080.3 493.5,1080.6 495.0,1082.9 496.5,1082.5 498.0,1081.2 499.5,1083.5 501.0,1084.2 502.5,1083.0 504.1,1084.6 505.6,1083.4 507.1,1083.7 508.6,1084.2 510.1,1084.7 511.6,1085.1 513.1,1085.5 514.6,1085.9 516.1,1087.2 517.6,1088.6 519.1,1090.2 520.6,1090.5 522.2,1090.8 523.7,1091.2 525.2,1091.3 526.7,1093.5 528.2,1094.5 529.7,1094.1 531.2,1095.9 532.7,1096.9 534.2,1095.7 535.7,1094.9 537.2,1097.2 538.7,1096.4 540.3,1095.4 541.8,1096.8 543.3,1097.0 544.8,1097.1 546.3,1097.2 547.8,1097.1 549.3,1095.8 550.8,1098.2 552.4,1097.6 553.9,1098.3 555.4,1097.5 556.9,1098.0 558.4,1097.5 559.9,1097.9 561.4,1095.9 562.9,1096.2 564.4,1097.0 565.9,1095.6 567.4,1095.7 568.9,1095.0 570.5,1095.7 572.0,1093.7 573.5,1093.9 575.0,1092.9 576.5,1092.6 578.0,1093.2 579.5,1094.3 581.0,1091.9 582.5,1093.0 584.1,1093.3 585.6,1093.1 587.1,1091.3 588.7,1091.2 590.2,1092.9 591.7,1091.6 593.3,1092.9 594.8,1092.5 596.3,1093.3 597.9,1091.7 599.4,1092.7 600.9,1090.9 602.5,1091.1 604.0,1091.3 605.5,1091.2 607.1,1091.6 608.6,1090.9 610.1,1090.4 611.7,1091.2 613.2,1091.2 614.7,1092.1 616.3,1091.5 617.8,1091.3 619.3,1090.8 620.9,1092.2 622.4,1092.7 623.9,1090.6 625.5,1091.2 627.0,1092.5 628.5,1091.3 630.1,1090.9 631.6,1091.4 633.1,1093.4 634.7,1091.4 636.2,1091.3 637.7,1092.9 639.3,1091.6 640.8,1093.4 642.3,1092.1 643.9,1092.7 645.4,1092.8 647.0,1094.2 648.6,1094.7 650.2,1093.3 651.8,1093.9 653.4,1093.7 655.0,1094.3 656.7,1096.5 658.3,1095.3 659.9,1096.5 661.5,1096.9 663.1,1096.7 664.7,1096.5 666.2,1096.4 667.8,1097.1 669.3,1098.8 670.8,1097.2 672.3,1097.5 673.9,1099.2 675.4,1099.3 676.9,1097.2 678.4,1099.0 680.0,1098.3 681.5,1098.4 683.0,1099.5 684.5,1097.4 686.1,1098.9 687.6,1099.8 689.1,1100.2 690.6,1099.8 692.2,1099.1 693.7,1098.6 695.3,1100.9 696.9,1098.9 698.5,1099.7 700.1,1100.6 701.8,1102.9 703.4,1101.9 705.0,1103.6 706.6,1102.0 708.2,1103.0 709.8,1103.5 711.3,1103.4 712.8,1106.0 714.3,1106.5 715.8,1106.7 717.4,1106.5 718.9,1107.9 720.4,1108.6 721.9,1108.1 723.4,1109.0 724.9,1108.5 726.4,1111.4 727.9,1109.7 729.5,1110.6 731.0,1113.0 732.5,1111.4 734.0,1112.3 735.5,1113.5 737.1,1114.6 738.7,1114.0 740.3,1111.9 741.9,1112.7 743.6,1111.2 745.2,1111.3 746.8,1112.2 748.4,1110.1 750.0,1109.9 751.6,1111.6 753.2,1109.8 754.9,1109.5 756.5,1110.6 758.1,1110.1 759.7,1110.2 761.3,1109.9 762.9,1111.1 764.6,1111.8 766.2,1109.8 767.8,1109.8 769.3,1109.2 770.8,1110.2 772.4,1108.8 773.9,1108.7 775.4,1110.2 776.9,1110.1 778.4,1108.9 779.9,1109.7 781.5,1107.7 783.0,1108.6 784.5,1108.5 786.1,1108.3 787.6,1107.8 789.2,1107.5 790.8,1107.7 792.3,1109.5 793.9,1109.4 795.4,1109.2 797.0,1110.0 798.6,1108.3 800.1,1110.4 801.7,1110.1 803.2,1110.4 804.8,1109.3 806.4,1111.4 807.9,1109.9 809.5,1110.2 811.0,1112.2 812.5,1111.4 814.0,1112.1 815.5,1112.7 817.0,1113.1 818.5,1112.5 820.0,1112.0 821.5,1113.3 823.0,1112.7 824.5,1113.9 826.0,1113.2 827.5,1115.8 829.0,1114.6 830.6,1115.1 832.2,1114.5 833.8,1113.7 835.3,1113.3 836.9,1112.0 838.5,1113.9 840.1,1111.6 841.7,1111.7 843.3,1112.1 844.9,1111.1 846.4,1112.1 848.0,1112.2 849.6,1110.9 851.2,1111.8 852.8,1110.0 854.4,1111.4 856.0,1112.5 857.6,1110.3 859.2,1112.1 860.8,1112.1 862.4,1112.7 863.9,1111.8 865.4,1111.7 866.9,1109.6 868.4,1109.7 869.9,1107.6 871.5,1107.0 873.0,1108.3 874.5,1106.6 876.0,1106.9 877.5,1104.7 879.0,1105.5 880.5,1106.5 882.0,1106.5 883.6,1105.9 885.1,1104.4 886.6,1105.6 888.1,1106.3 889.6,1106.0 891.1,1106.8 892.7,1105.9 894.2,1107.1 895.7,1107.1 897.2,1106.7 898.7,1105.6 900.3,1105.8 901.8,1105.6 903.3,1104.3 904.8,1104.2 906.3,1105.2 907.8,1103.8 909.4,1105.4 910.9,1102.8 912.4,1102.8 913.9,1104.0 915.4,1104.3 917.0,1105.4 918.5,1106.7 920.0,1109.3 921.5,1108.6 923.0,1110.0 924.5,1109.7 926.1,1111.3 927.6,1113.6 929.1,1114.4 930.7,1113.7 932.3,1114.9 933.9,1115.5 935.4,1114.7 937.0,1114.9 938.6,1116.8 940.2,1115.5 941.8,1117.3 943.4,1116.4 945.0,1118.7 946.5,1119.0 948.1,1117.8 949.7,1117.6 951.3,1120.3 952.9,1119.8 954.5,1121.1 956.1,1120.4 957.7,1121.7 959.3,1121.1 960.9,1121.9 962.5,1123.9 964.0,1123.0 965.6,1123.7 967.2,1125.5 968.8,1124.8 970.4,1127.2 972.0,1127.9 973.6,1127.6 975.2,1129.1 976.8,1130.2 978.4,1129.3 979.9,1131.0 981.5,1132.2 983.1,1134.1 984.7,1133.2 986.3,1136.2 987.9,1136.1 989.5,1138.0 991.0,1137.6 992.6,1138.5 994.2,1139.4 995.8,1140.4 997.4,1142.8 999.0,1142.0 1000.6,1142.9 1002.2,1144.2 1003.8,1144.1 1005.4,1145.8 1007.0,1147.1 1008.6,1147.0 1010.1,1147.0 1011.7,1145.3 1013.2,1145.2 1014.8,1145.6 1016.4,1145.4 1017.9,1146.5 1019.5,1144.6" fill="none" stroke="#2020ee" stroke-width="2.8" stroke-linejoin="round" stroke-linecap="round"/>
<line x1="106.5" y1="1267.5" x2="1020.5" y2="1267.5" stroke="#861212" stroke-width="4.4"/>
<line x1="186" y1="1267.3" x2="221" y2="1267.3" stroke="#e67272" stroke-width="2.6"/>
<line x1="221" y1="1267.6" x2="262" y2="1267.6" stroke="#d81a1a" stroke-width="3"/>
<line x1="110" y1="1267.3" x2="130" y2="1267.3" stroke="#c85a5a" stroke-width="2.2"/>
<line x1="186" y1="1263.8" x2="252" y2="1263.8" stroke="#959595" stroke-width="2"/>
<polyline points="106.0,1263.6 117.0,1263.6 119.5,1254.6 122.0,1254.6 124.3,1244.4 150.1,1244.4 156.5,1215.4 183.9,1215.4 190.3,1210.6 216.1,1210.6 222.5,1219.3 246.7,1219.3 254.7,1224.4 280.5,1224.4 288.5,1230.5 314.3,1230.5 320.7,1237.0 348.1,1237.0 352.9,1239.6 380.3,1239.6 386.7,1244.4 410.9,1244.4 417.3,1247.6 445.8,1247.6 452.2,1250.2 478.0,1250.2 484.4,1252.4 548.8,1254.7 613.2,1257.3 677.6,1258.9 750.0,1260.5 1020.0,1263.5" fill="none" stroke="#2020ee" stroke-width="2.8" stroke-linejoin="round" stroke-linecap="round"/>
<rect x="106.5" y="127.4" width="914.0" height="1142.8999999999999" fill="none" stroke="#1e1e1e" stroke-width="3.0"/>
<line x1="106.5" y1="277.3" x2="1020.5" y2="277.3" stroke="#1e1e1e" stroke-width="3.0"/>
<line x1="106.5" y1="429.7" x2="1020.5" y2="429.7" stroke="#1e1e1e" stroke-width="3.0"/>
<line x1="106.5" y1="579.6" x2="1020.5" y2="579.6" stroke="#1e1e1e" stroke-width="3.0"/>
<line x1="106.5" y1="732.2" x2="1020.5" y2="732.2" stroke="#1e1e1e" stroke-width="3.0"/>
<line x1="106.5" y1="882.1" x2="1020.5" y2="882.1" stroke="#1e1e1e" stroke-width="3.0"/>
<line x1="106.5" y1="1032.0" x2="1020.5" y2="1032.0" stroke="#1e1e1e" stroke-width="3.0"/>
<line x1="106.5" y1="1184.4" x2="1020.5" y2="1184.4" stroke="#1e1e1e" stroke-width="3.0"/>
<line x1="135.0" y1="273.1" x2="135.0" y2="281.5" stroke="#1e1e1e" stroke-width="3.2"/>
<line x1="264.5" y1="273.1" x2="264.5" y2="281.5" stroke="#1e1e1e" stroke-width="3.2"/>
<line x1="395.6" y1="273.1" x2="395.6" y2="281.5" stroke="#1e1e1e" stroke-width="3.2"/>
<line x1="525.6" y1="273.1" x2="525.6" y2="281.5" stroke="#1e1e1e" stroke-width="3.2"/>
<line x1="656.0" y1="273.1" x2="656.0" y2="281.5" stroke="#1e1e1e" stroke-width="3.2"/>
<line x1="785.2" y1="273.1" x2="785.2" y2="281.5" stroke="#1e1e1e" stroke-width="3.2"/>
<line x1="916.0" y1="273.1" x2="916.0" y2="281.5" stroke="#1e1e1e" stroke-width="3.2"/>
<line x1="135.0" y1="425.5" x2="135.0" y2="433.9" stroke="#1e1e1e" stroke-width="3.2"/>
<line x1="264.5" y1="425.5" x2="264.5" y2="433.9" stroke="#1e1e1e" stroke-width="3.2"/>
<line x1="395.6" y1="425.5" x2="395.6" y2="433.9" stroke="#1e1e1e" stroke-width="3.2"/>
<line x1="525.6" y1="425.5" x2="525.6" y2="433.9" stroke="#1e1e1e" stroke-width="3.2"/>
<line x1="656.0" y1="425.5" x2="656.0" y2="433.9" stroke="#1e1e1e" stroke-width="3.2"/>
<line x1="785.2" y1="425.5" x2="785.2" y2="433.9" stroke="#1e1e1e" stroke-width="3.2"/>
<line x1="916.0" y1="425.5" x2="916.0" y2="433.9" stroke="#1e1e1e" stroke-width="3.2"/>
<line x1="135.0" y1="575.4" x2="135.0" y2="583.8000000000001" stroke="#1e1e1e" stroke-width="3.2"/>
<line x1="264.5" y1="575.4" x2="264.5" y2="583.8000000000001" stroke="#1e1e1e" stroke-width="3.2"/>
<line x1="395.6" y1="575.4" x2="395.6" y2="583.8000000000001" stroke="#1e1e1e" stroke-width="3.2"/>
<line x1="525.6" y1="575.4" x2="525.6" y2="583.8000000000001" stroke="#1e1e1e" stroke-width="3.2"/>
<line x1="656.0" y1="575.4" x2="656.0" y2="583.8000000000001" stroke="#1e1e1e" stroke-width="3.2"/>
<line x1="785.2" y1="575.4" x2="785.2" y2="583.8000000000001" stroke="#1e1e1e" stroke-width="3.2"/>
<line x1="916.0" y1="575.4" x2="916.0" y2="583.8000000000001" stroke="#1e1e1e" stroke-width="3.2"/>
<line x1="135.0" y1="728.0" x2="135.0" y2="736.4000000000001" stroke="#1e1e1e" stroke-width="3.2"/>
<line x1="264.5" y1="728.0" x2="264.5" y2="736.4000000000001" stroke="#1e1e1e" stroke-width="3.2"/>
<line x1="395.6" y1="728.0" x2="395.6" y2="736.4000000000001" stroke="#1e1e1e" stroke-width="3.2"/>
<line x1="525.6" y1="728.0" x2="525.6" y2="736.4000000000001" stroke="#1e1e1e" stroke-width="3.2"/>
<line x1="656.0" y1="728.0" x2="656.0" y2="736.4000000000001" stroke="#1e1e1e" stroke-width="3.2"/>
<line x1="785.2" y1="728.0" x2="785.2" y2="736.4000000000001" stroke="#1e1e1e" stroke-width="3.2"/>
<line x1="916.0" y1="728.0" x2="916.0" y2="736.4000000000001" stroke="#1e1e1e" stroke-width="3.2"/>
<line x1="135.0" y1="877.9" x2="135.0" y2="886.3000000000001" stroke="#1e1e1e" stroke-width="3.2"/>
<line x1="264.5" y1="877.9" x2="264.5" y2="886.3000000000001" stroke="#1e1e1e" stroke-width="3.2"/>
<line x1="395.6" y1="877.9" x2="395.6" y2="886.3000000000001" stroke="#1e1e1e" stroke-width="3.2"/>
<line x1="525.6" y1="877.9" x2="525.6" y2="886.3000000000001" stroke="#1e1e1e" stroke-width="3.2"/>
<line x1="656.0" y1="877.9" x2="656.0" y2="886.3000000000001" stroke="#1e1e1e" stroke-width="3.2"/>
<line x1="785.2" y1="877.9" x2="785.2" y2="886.3000000000001" stroke="#1e1e1e" stroke-width="3.2"/>
<line x1="916.0" y1="877.9" x2="916.0" y2="886.3000000000001" stroke="#1e1e1e" stroke-width="3.2"/>
<line x1="135.0" y1="1027.8" x2="135.0" y2="1036.2" stroke="#1e1e1e" stroke-width="3.2"/>
<line x1="264.5" y1="1027.8" x2="264.5" y2="1036.2" stroke="#1e1e1e" stroke-width="3.2"/>
<line x1="395.6" y1="1027.8" x2="395.6" y2="1036.2" stroke="#1e1e1e" stroke-width="3.2"/>
<line x1="525.6" y1="1027.8" x2="525.6" y2="1036.2" stroke="#1e1e1e" stroke-width="3.2"/>
<line x1="656.0" y1="1027.8" x2="656.0" y2="1036.2" stroke="#1e1e1e" stroke-width="3.2"/>
<line x1="785.2" y1="1027.8" x2="785.2" y2="1036.2" stroke="#1e1e1e" stroke-width="3.2"/>
<line x1="916.0" y1="1027.8" x2="916.0" y2="1036.2" stroke="#1e1e1e" stroke-width="3.2"/>
<line x1="135.0" y1="1180.2" x2="135.0" y2="1188.6000000000001" stroke="#1e1e1e" stroke-width="3.2"/>
<line x1="264.5" y1="1180.2" x2="264.5" y2="1188.6000000000001" stroke="#1e1e1e" stroke-width="3.2"/>
<line x1="395.6" y1="1180.2" x2="395.6" y2="1188.6000000000001" stroke="#1e1e1e" stroke-width="3.2"/>
<line x1="525.6" y1="1180.2" x2="525.6" y2="1188.6000000000001" stroke="#1e1e1e" stroke-width="3.2"/>
<line x1="656.0" y1="1180.2" x2="656.0" y2="1188.6000000000001" stroke="#1e1e1e" stroke-width="3.2"/>
<line x1="785.2" y1="1180.2" x2="785.2" y2="1188.6000000000001" stroke="#1e1e1e" stroke-width="3.2"/>
<line x1="916.0" y1="1180.2" x2="916.0" y2="1188.6000000000001" stroke="#1e1e1e" stroke-width="3.2"/>
<line x1="135.0" y1="127.4" x2="135.0" y2="131.9" stroke="#1e1e1e" stroke-width="2.2"/>
<line x1="135.0" y1="1265.8" x2="135.0" y2="1270.3" stroke="#1e1e1e" stroke-width="2.2"/>
<line x1="264.5" y1="127.4" x2="264.5" y2="131.9" stroke="#1e1e1e" stroke-width="2.2"/>
<line x1="264.5" y1="1265.8" x2="264.5" y2="1270.3" stroke="#1e1e1e" stroke-width="2.2"/>
<line x1="395.6" y1="127.4" x2="395.6" y2="131.9" stroke="#1e1e1e" stroke-width="2.2"/>
<line x1="395.6" y1="1265.8" x2="395.6" y2="1270.3" stroke="#1e1e1e" stroke-width="2.2"/>
<line x1="525.6" y1="127.4" x2="525.6" y2="131.9" stroke="#1e1e1e" stroke-width="2.2"/>
<line x1="525.6" y1="1265.8" x2="525.6" y2="1270.3" stroke="#1e1e1e" stroke-width="2.2"/>
<line x1="656.0" y1="127.4" x2="656.0" y2="131.9" stroke="#1e1e1e" stroke-width="2.2"/>
<line x1="656.0" y1="1265.8" x2="656.0" y2="1270.3" stroke="#1e1e1e" stroke-width="2.2"/>
<line x1="785.2" y1="127.4" x2="785.2" y2="131.9" stroke="#1e1e1e" stroke-width="2.2"/>
<line x1="785.2" y1="1265.8" x2="785.2" y2="1270.3" stroke="#1e1e1e" stroke-width="2.2"/>
<line x1="916.0" y1="127.4" x2="916.0" y2="131.9" stroke="#1e1e1e" stroke-width="2.2"/>
<line x1="916.0" y1="1265.8" x2="916.0" y2="1270.3" stroke="#1e1e1e" stroke-width="2.2"/>
<line x1="106.5" y1="148.5" x2="126" y2="148.5" stroke="#1e1e1e" stroke-width="2.6"/>
<line x1="1002.3" y1="148.5" x2="1020.5" y2="148.5" stroke="#1e1e1e" stroke-width="2.6"/>
<line x1="106.5" y1="169.8" x2="126" y2="169.8" stroke="#1e1e1e" stroke-width="2.6"/>
<line x1="1002.3" y1="169.8" x2="1020.5" y2="169.8" stroke="#1e1e1e" stroke-width="2.6"/>
<line x1="106.5" y1="192.4" x2="126" y2="192.4" stroke="#1e1e1e" stroke-width="2.6"/>
<line x1="1002.3" y1="192.4" x2="1020.5" y2="192.4" stroke="#1e1e1e" stroke-width="2.6"/>
<line x1="106.5" y1="214.0" x2="126" y2="214.0" stroke="#1e1e1e" stroke-width="2.6"/>
<line x1="1002.3" y1="214.0" x2="1020.5" y2="214.0" stroke="#1e1e1e" stroke-width="2.6"/>
<line x1="106.5" y1="235.2" x2="126" y2="235.2" stroke="#1e1e1e" stroke-width="2.6"/>
<line x1="1002.3" y1="235.2" x2="1020.5" y2="235.2" stroke="#1e1e1e" stroke-width="2.6"/>
<line x1="106.5" y1="255.6" x2="126" y2="255.6" stroke="#1e1e1e" stroke-width="2.6"/>
<line x1="1002.3" y1="255.6" x2="1020.5" y2="255.6" stroke="#1e1e1e" stroke-width="2.6"/>
<line x1="106.5" y1="303.3" x2="126" y2="303.3" stroke="#1e1e1e" stroke-width="2.6"/>
<line x1="1002.3" y1="303.3" x2="1020.5" y2="303.3" stroke="#1e1e1e" stroke-width="2.6"/>
<line x1="106.5" y1="328.9" x2="126" y2="328.9" stroke="#1e1e1e" stroke-width="2.6"/>
<line x1="1002.3" y1="328.9" x2="1020.5" y2="328.9" stroke="#1e1e1e" stroke-width="2.6"/>
<line x1="106.5" y1="353.4" x2="126" y2="353.4" stroke="#1e1e1e" stroke-width="2.6"/>
<line x1="1002.3" y1="353.4" x2="1020.5" y2="353.4" stroke="#1e1e1e" stroke-width="2.6"/>
<line x1="106.5" y1="379.6" x2="126" y2="379.6" stroke="#1e1e1e" stroke-width="2.6"/>
<line x1="1002.3" y1="379.6" x2="1020.5" y2="379.6" stroke="#1e1e1e" stroke-width="2.6"/>
<line x1="106.5" y1="403.3" x2="126" y2="403.3" stroke="#1e1e1e" stroke-width="2.6"/>
<line x1="1002.3" y1="403.3" x2="1020.5" y2="403.3" stroke="#1e1e1e" stroke-width="2.6"/>
<line x1="106.5" y1="456.0" x2="126" y2="456.0" stroke="#1e1e1e" stroke-width="2.6"/>
<line x1="1002.3" y1="456.0" x2="1020.5" y2="456.0" stroke="#1e1e1e" stroke-width="2.6"/>
<line x1="106.5" y1="490.4" x2="126" y2="490.4" stroke="#1e1e1e" stroke-width="2.6"/>
<line x1="1002.3" y1="490.4" x2="1020.5" y2="490.4" stroke="#1e1e1e" stroke-width="2.6"/>
<line x1="106.5" y1="526.8" x2="126" y2="526.8" stroke="#1e1e1e" stroke-width="2.6"/>
<line x1="1002.3" y1="526.8" x2="1020.5" y2="526.8" stroke="#1e1e1e" stroke-width="2.6"/>
<line x1="106.5" y1="561.5" x2="126" y2="561.5" stroke="#1e1e1e" stroke-width="2.6"/>
<line x1="1002.3" y1="561.5" x2="1020.5" y2="561.5" stroke="#1e1e1e" stroke-width="2.6"/>
<line x1="106.5" y1="597.8" x2="126" y2="597.8" stroke="#1e1e1e" stroke-width="2.6"/>
<line x1="1002.3" y1="597.8" x2="1020.5" y2="597.8" stroke="#1e1e1e" stroke-width="2.6"/>
<line x1="106.5" y1="639.8" x2="126" y2="639.8" stroke="#1e1e1e" stroke-width="2.6"/>
<line x1="1002.3" y1="639.8" x2="1020.5" y2="639.8" stroke="#1e1e1e" stroke-width="2.6"/>
<line x1="106.5" y1="682.1" x2="126" y2="682.1" stroke="#1e1e1e" stroke-width="2.6"/>
<line x1="1002.3" y1="682.1" x2="1020.5" y2="682.1" stroke="#1e1e1e" stroke-width="2.6"/>
<line x1="106.5" y1="724.3" x2="126" y2="724.3" stroke="#1e1e1e" stroke-width="2.6"/>
<line x1="1002.3" y1="724.3" x2="1020.5" y2="724.3" stroke="#1e1e1e" stroke-width="2.6"/>
<line x1="106.5" y1="763.6" x2="126" y2="763.6" stroke="#1e1e1e" stroke-width="2.6"/>
<line x1="1002.3" y1="763.6" x2="1020.5" y2="763.6" stroke="#1e1e1e" stroke-width="2.6"/>
<line x1="106.5" y1="798.0" x2="126" y2="798.0" stroke="#1e1e1e" stroke-width="2.6"/>
<line x1="1002.3" y1="798.0" x2="1020.5" y2="798.0" stroke="#1e1e1e" stroke-width="2.6"/>
<line x1="106.5" y1="832.0" x2="126" y2="832.0" stroke="#1e1e1e" stroke-width="2.6"/>
<line x1="1002.3" y1="832.0" x2="1020.5" y2="832.0" stroke="#1e1e1e" stroke-width="2.6"/>
<line x1="106.5" y1="863.6" x2="126" y2="863.6" stroke="#1e1e1e" stroke-width="2.6"/>
<line x1="1002.3" y1="863.6" x2="1020.5" y2="863.6" stroke="#1e1e1e" stroke-width="2.6"/>
<line x1="106.5" y1="902.6" x2="126" y2="902.6" stroke="#1e1e1e" stroke-width="2.6"/>
<line x1="1002.3" y1="902.6" x2="1020.5" y2="902.6" stroke="#1e1e1e" stroke-width="2.6"/>
<line x1="106.5" y1="942.0" x2="126" y2="942.0" stroke="#1e1e1e" stroke-width="2.6"/>
<line x1="1002.3" y1="942.0" x2="1020.5" y2="942.0" stroke="#1e1e1e" stroke-width="2.6"/>
<line x1="106.5" y1="984.8" x2="126" y2="984.8" stroke="#1e1e1e" stroke-width="2.6"/>
<line x1="1002.3" y1="984.8" x2="1020.5" y2="984.8" stroke="#1e1e1e" stroke-width="2.6"/>
<line x1="106.5" y1="1026.2" x2="126" y2="1026.2" stroke="#1e1e1e" stroke-width="2.6"/>
<line x1="1002.3" y1="1026.2" x2="1020.5" y2="1026.2" stroke="#1e1e1e" stroke-width="2.6"/>
<line x1="106.5" y1="1063.7" x2="126" y2="1063.7" stroke="#1e1e1e" stroke-width="2.6"/>
<line x1="1002.3" y1="1063.7" x2="1020.5" y2="1063.7" stroke="#1e1e1e" stroke-width="2.6"/>
<line x1="106.5" y1="1092.2" x2="126" y2="1092.2" stroke="#1e1e1e" stroke-width="2.6"/>
<line x1="1002.3" y1="1092.2" x2="1020.5" y2="1092.2" stroke="#1e1e1e" stroke-width="2.6"/>
<line x1="106.5" y1="1123.9" x2="126" y2="1123.9" stroke="#1e1e1e" stroke-width="2.6"/>
<line x1="1002.3" y1="1123.9" x2="1020.5" y2="1123.9" stroke="#1e1e1e" stroke-width="2.6"/>
<line x1="106.5" y1="1153.0" x2="126" y2="1153.0" stroke="#1e1e1e" stroke-width="2.6"/>
<line x1="1002.3" y1="1153.0" x2="1020.5" y2="1153.0" stroke="#1e1e1e" stroke-width="2.6"/>
<line x1="106.5" y1="1197.6" x2="126" y2="1197.6" stroke="#1e1e1e" stroke-width="2.6"/>
<line x1="1002.3" y1="1197.6" x2="1020.5" y2="1197.6" stroke="#1e1e1e" stroke-width="2.6"/>
<line x1="106.5" y1="1213.4" x2="126" y2="1213.4" stroke="#1e1e1e" stroke-width="2.6"/>
<line x1="1002.3" y1="1213.4" x2="1020.5" y2="1213.4" stroke="#1e1e1e" stroke-width="2.6"/>
<line x1="106.5" y1="1226.2" x2="126" y2="1226.2" stroke="#1e1e1e" stroke-width="2.6"/>
<line x1="1002.3" y1="1226.2" x2="1020.5" y2="1226.2" stroke="#1e1e1e" stroke-width="2.6"/>
<line x1="106.5" y1="1242.3" x2="126" y2="1242.3" stroke="#1e1e1e" stroke-width="2.6"/>
<line x1="1002.3" y1="1242.3" x2="1020.5" y2="1242.3" stroke="#1e1e1e" stroke-width="2.6"/>
<line x1="106.5" y1="1255.1" x2="126" y2="1255.1" stroke="#1e1e1e" stroke-width="2.6"/>
<line x1="1002.3" y1="1255.1" x2="1020.5" y2="1255.1" stroke="#1e1e1e" stroke-width="2.6"/>
<text transform="translate(54.86,162.69) scale(0.9674,1)" font-size="36.05" fill="#1b1c2c" stroke="#1b1c2c" stroke-width="0.88">30</text>
<text transform="translate(53.22,206.80) scale(1.0333,1)" font-size="35.23" fill="#1b1c2c" stroke="#1b1c2c" stroke-width="0.86">20</text>
<path transform="translate(64.90,252.20)" d="M1.62,-25.90 L1.62,0.00 L-1.62,0.00 L-1.62,-21.76 L-7.38,-20.59 L-7.38,-22.92 L-1.22,-25.90 Z" fill="#1b1c2c"/>
<text transform="translate(73.42,251.40) scale(1.0120,1)" font-size="35.23" fill="#1b1c2c" stroke="#1b1c2c" stroke-width="0.86">0</text>
<text transform="translate(73.72,285.03) scale(1.0337,1)" font-size="34.14" fill="#1b1c2c" stroke="#1b1c2c" stroke-width="0.83">0</text>
<text transform="translate(75.17,314.11) scale(0.9102,1)" font-size="34.75" fill="#1b1c2c" stroke="#1b1c2c" stroke-width="0.85">5</text>
<text transform="translate(75.18,366.91) scale(0.9045,1)" font-size="34.96" fill="#1b1c2c" stroke="#1b1c2c" stroke-width="0.85">3</text>
<path transform="translate(90.70,420.50)" d="M1.65,-26.40 L1.65,0.00 L-1.65,0.00 L-1.65,-22.18 L-7.52,-20.99 L-7.52,-23.36 L-1.25,-26.40 Z" fill="#1b1c2c"/>
<text transform="translate(73.54,469.79) scale(1.0032,1)" font-size="35.64" fill="#1b1c2c" stroke="#1b1c2c" stroke-width="0.87">8</text>
<text transform="translate(72.73,535.64) scale(1.0028,1)" font-size="36.49" fill="#1b1c2c" stroke="#1b1c2c" stroke-width="0.89">4</text>
<path transform="translate(65.80,612.00)" d="M1.61,-25.80 L1.61,0.00 L-1.61,0.00 L-1.61,-21.67 L-7.35,-20.51 L-7.35,-22.83 L-1.21,-25.80 Z" fill="#1b1c2c"/>
<text transform="translate(75.05,611.78) scale(0.8954,1)" font-size="36.40" fill="#1b1c2c" stroke="#1b1c2c" stroke-width="0.89">5</text>
<path transform="translate(64.80,651.60)" d="M1.61,-25.80 L1.61,0.00 L-1.61,0.00 L-1.61,-21.67 L-7.35,-20.51 L-7.35,-22.83 L-1.21,-25.80 Z" fill="#1b1c2c"/>
<text transform="translate(73.71,651.19) scale(0.9994,1)" font-size="36.05" fill="#1b1c2c" stroke="#1b1c2c" stroke-width="0.88">0</text>
<text transform="translate(75.20,696.18) scale(0.8665,1)" font-size="36.40" fill="#1b1c2c" stroke="#1b1c2c" stroke-width="0.89">5</text>
<text transform="translate(72.57,743.77) scale(1.0251,1)" font-size="36.86" fill="#1b1c2c" stroke="#1b1c2c" stroke-width="0.90">6</text>
<text transform="translate(72.02,790.65) scale(1.0150,1)" font-size="36.07" fill="#1b1c2c" stroke="#1b1c2c" stroke-width="0.88">4</text>
<text transform="translate(73.83,848.84) scale(1.0032,1)" font-size="36.54" fill="#1b1c2c" stroke="#1b1c2c" stroke-width="0.89">2</text>
<text transform="translate(75.55,911.49) scale(0.9085,1)" font-size="35.91" fill="#1b1c2c" stroke="#1b1c2c" stroke-width="0.87">3</text>
<text transform="translate(73.95,956.54) scale(0.9370,1)" font-size="36.54" fill="#1b1c2c" stroke="#1b1c2c" stroke-width="0.89">2</text>
<path transform="translate(85.20,995.60)" d="M1.57,-25.10 L1.57,0.00 L-1.57,0.00 L-1.57,-21.08 L-7.15,-19.95 L-7.15,-22.21 L-1.17,-25.10 Z" fill="#1b1c2c"/>
<text transform="translate(73.77,1074.77) scale(0.9640,1)" font-size="36.59" fill="#1b1c2c" stroke="#1b1c2c" stroke-width="0.89">8</text>
<text transform="translate(72.75,1138.14) scale(0.9663,1)" font-size="36.63" fill="#1b1c2c" stroke="#1b1c2c" stroke-width="0.89">4</text>
<text transform="translate(73.60,1200.58) scale(0.9682,1)" font-size="36.18" fill="#1b1c2c" stroke="#1b1c2c" stroke-width="0.88">6</text>
<text transform="translate(75.32,1253.27) scale(0.9392,1)" font-size="34.47" fill="#1b1c2c" stroke="#1b1c2c" stroke-width="0.84">2</text>
<text transform="translate(125.24,1316.54) scale(0.8877,1)" font-size="36.35" fill="#1b1c2c" stroke="#1b1c2c" stroke-width="0.88">7</text>
<text transform="translate(255.86,1316.20) scale(0.9993,1)" font-size="35.37" fill="#1b1c2c" stroke="#1b1c2c" stroke-width="0.86">8</text>
<text transform="translate(388.63,1316.20) scale(1.0161,1)" font-size="35.37" fill="#1b1c2c" stroke="#1b1c2c" stroke-width="0.86">9</text>
<path transform="translate(530.60,1317.00)" d="M1.61,-25.70 L1.61,0.00 L-1.61,0.00 L-1.61,-21.59 L-7.32,-20.43 L-7.32,-22.74 L-1.21,-25.70 Z" fill="#1b1c2c"/>
<text transform="translate(540.01,1316.39) scale(0.9376,1)" font-size="35.77" fill="#1b1c2c" stroke="#1b1c2c" stroke-width="0.87">0</text>
<path transform="translate(663.40,1316.80)" d="M1.59,-25.50 L1.59,0.00 L-1.59,0.00 L-1.59,-21.42 L-7.27,-20.27 L-7.27,-22.57 L-1.19,-25.50 Z" fill="#1b1c2c"/>
<path transform="translate(683.40,1316.80)" d="M1.59,-25.50 L1.59,0.00 L-1.59,0.00 L-1.59,-21.42 L-7.27,-20.27 L-7.27,-22.57 L-1.19,-25.50 Z" fill="#1b1c2c"/>
<path transform="translate(779.40,1317.10)" d="M1.61,-25.80 L1.61,0.00 L-1.61,0.00 L-1.61,-21.67 L-7.35,-20.51 L-7.35,-22.83 L-1.21,-25.80 Z" fill="#1b1c2c"/>
<text transform="translate(788.58,1316.64) scale(0.9849,1)" font-size="36.13" fill="#1b1c2c" stroke="#1b1c2c" stroke-width="0.88">2</text>
<path transform="translate(908.00,1317.10)" d="M1.61,-25.80 L1.61,0.00 L-1.61,0.00 L-1.61,-21.67 L-7.35,-20.51 L-7.35,-22.83 L-1.21,-25.80 Z" fill="#1b1c2c"/>
<text transform="translate(918.07,1316.59) scale(0.8873,1)" font-size="36.05" fill="#1b1c2c" stroke="#1b1c2c" stroke-width="0.88">3</text>
<text transform="translate(524.16,1355.27) scale(0.9770,1)" font-size="34.40" fill="#1b1c2c" stroke="#1b1c2c" stroke-width="0.84">Time (s)</text>
<text transform="translate(34.24,230.32) rotate(-90) scale(0.9235,1)" font-size="36.21" fill="#1b1c2c" stroke="#1b1c2c" stroke-width="0.88">MW</text>
<text transform="translate(34.53,381.36) rotate(-90) scale(0.9569,1)" font-size="36.91" fill="#1b1c2c" stroke="#1b1c2c" stroke-width="0.90">MW</text>
<text transform="translate(34.54,525.30) rotate(-90) scale(0.9107,1)" font-size="36.39" fill="#1b1c2c" stroke="#1b1c2c" stroke-width="0.89">keV</text>
<text transform="translate(34.54,680.94) rotate(-90) scale(0.9187,1)" font-size="36.93" fill="#1b1c2c" stroke="#1b1c2c" stroke-width="0.90">keV</text>
<path transform="translate(40.40,844.00) rotate(-90)" d="M1.66,-26.60 L1.66,0.00 L-1.66,0.00 L-1.66,-22.34 L-7.58,-21.15 L-7.58,-23.54 L-1.26,-26.60 Z" fill="#1b1c2c"/>
<text transform="translate(39.94,837.71) rotate(-90) scale(0.9358,1)" font-size="36.68" fill="#1b1c2c" stroke="#1b1c2c" stroke-width="0.89">0</text>
<path transform="translate(21.10,804.90) rotate(-90)" d="M1.01,-16.10 L1.01,0.00 L-1.01,0.00 L-1.01,-13.52 L-4.59,-12.80 L-4.59,-14.25 L-0.61,-16.10 Z" fill="#1b1c2c"/>
<text transform="translate(20.82,799.93) rotate(-90) scale(1.0114,1)" font-size="22.20" fill="#1b1c2c" stroke="#1b1c2c" stroke-width="0.54">9</text>
<text transform="translate(41.76,791.93) rotate(-90) scale(1.0469,1)" font-size="34.84" fill="#1b1c2c" stroke="#1b1c2c" stroke-width="0.85">m</text>
<text transform="translate(29.11,757.62) rotate(-90) scale(0.3964,1)" font-size="22.89" fill="#555" stroke="#555" stroke-width="0.56">-</text>
<text transform="translate(29.11,752.56) rotate(-90) scale(0.9219,1)" font-size="22.89" fill="#444" stroke="#444" stroke-width="0.56">3</text>
<path transform="translate(34.60,997.20) rotate(-90)" d="M1.56,-25.00 L1.56,0.00 L-1.56,0.00 L-1.56,-21.00 L-7.12,-19.88 L-7.12,-22.12 L-1.16,-25.00 Z" fill="#1b1c2c"/>
<text transform="translate(34.16,990.53) rotate(-90) scale(1.0523,1)" font-size="34.89" fill="#1b1c2c" stroke="#1b1c2c" stroke-width="0.85">0</text>
<path transform="translate(18.10,965.20) rotate(-90)" d="M0.97,-15.60 L0.97,0.00 L-0.97,0.00 L-0.97,-13.10 L-4.45,-12.40 L-4.45,-13.81 L-0.57,-15.60 Z" fill="#1b1c2c"/>
<text transform="translate(17.83,960.73) rotate(-90) scale(1.0344,1)" font-size="21.51" fill="#1b1c2c" stroke="#1b1c2c" stroke-width="0.52">8</text>
<text transform="translate(34.17,946.66) rotate(-90) scale(1.0469,1)" font-size="33.60" fill="#1b1c2c" stroke="#1b1c2c" stroke-width="0.82">n/s</text>
<text transform="translate(34.53,1125.21) rotate(-90) scale(0.8934,1)" font-size="37.61" fill="#1b1c2c" stroke="#1b1c2c" stroke-width="0.91">MJ</text>
<text transform="translate(34.64,1239.82) rotate(-90) scale(0.9967,1)" font-size="36.80" fill="#3a3a40" stroke="#3a3a40" stroke-width="0.90">%</text>
<text transform="translate(747.94,235.84) scale(0.8961,1)" font-size="36.63" fill="#1b1c2c" stroke="#1b1c2c" stroke-width="0.89">NBI</text>
<text transform="translate(914.64,317.23) scale(0.8518,1)" font-size="36.91" fill="#1b1c2c" stroke="#1b1c2c" stroke-width="0.90">ICRH</text>
<text transform="translate(215.41,559.33) scale(0.9607,1)" font-size="37.19" fill="#1b1c2c" stroke="#1b1c2c" stroke-width="0.90">Electron temperature at ρ</text>
<text transform="translate(622.03,572.03) scale(1.0692,1)" font-size="21.47" fill="#1b1c2c" stroke="#1b1c2c" stroke-width="0.52">tor</text>
<text transform="translate(652.95,560.15) scale(0.9570,1)" font-size="35.58" fill="#1b1c2c" stroke="#1b1c2c" stroke-width="0.87">= 0.2</text>
<text transform="translate(307.30,706.25) scale(1.0041,1)" font-size="36.07" fill="#1b1c2c" stroke="#1b1c2c" stroke-width="0.88">Ion temperature at ρ</text>
<text transform="translate(634.46,719.32) scale(0.9563,1)" font-size="22.51" fill="#1b1c2c" stroke="#1b1c2c" stroke-width="0.55">tor</text>
<text transform="translate(665.24,706.76) scale(0.9646,1)" font-size="35.30" fill="#1b1c2c" stroke="#1b1c2c" stroke-width="0.86">= 0.2</text>
<text transform="translate(310.52,845.94) scale(0.9664,1)" font-size="36.77" fill="#1b1c2c" stroke="#1b1c2c" stroke-width="0.89">Line-averaged core electron density</text>
<text transform="translate(367.25,1000.16) scale(1.0262,1)" font-size="35.23" fill="#1b1c2c" stroke="#1b1c2c" stroke-width="0.86">Neutron rate</text>
<text transform="translate(354.01,1145.64) scale(0.9708,1)" font-size="36.77" fill="#1b1c2c" stroke="#1b1c2c" stroke-width="0.89">Diamagnetic energy</text>
<text transform="translate(500.86,1218.65) scale(0.8672,1)" font-size="20.13" fill="#1b1c2c" stroke="#1b1c2c" stroke-width="0.49">3</text>
<text transform="translate(511.53,1232.15) scale(1.0257,1)" font-size="35.51" fill="#1b1c2c" stroke="#1b1c2c" stroke-width="0.86">He concentration</text>
</svg>
</body></html>
